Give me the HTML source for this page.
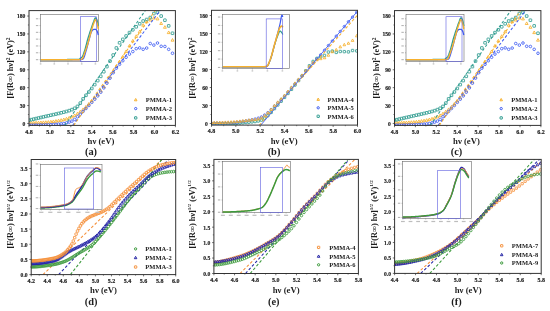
<!DOCTYPE html><html><head><meta charset="utf-8"><style>html,body{margin:0;padding:0;background:#fff;overflow:hidden}svg{display:block;will-change:transform}text{font-family:"Liberation Serif",serif;fill:#1e1e1e}</style></head><body>
<svg width="550" height="311" viewBox="0 0 550 311">
<rect width="550" height="311" fill="#fff"/>
<g>
<clipPath id="ca"><rect x="29.0" y="10.6" width="146.4" height="114.80000000000001"/></clipPath>
<g clip-path="url(#ca)">
<path d="M29.00 121.30L30.43 123.92L27.57 123.92Z" fill="none" stroke="#f7b12e" stroke-width="0.85"/>
<path d="M31.34 121.29L32.77 123.91L29.91 123.91Z" fill="none" stroke="#f7b12e" stroke-width="0.85"/>
<path d="M33.70 121.25L35.13 123.87L32.27 123.87Z" fill="none" stroke="#f7b12e" stroke-width="0.85"/>
<path d="M36.08 121.19L37.51 123.80L34.65 123.80Z" fill="none" stroke="#f7b12e" stroke-width="0.85"/>
<path d="M38.48 121.10L39.91 123.72L37.05 123.72Z" fill="none" stroke="#f7b12e" stroke-width="0.85"/>
<path d="M40.91 121.00L42.34 123.62L39.48 123.62Z" fill="none" stroke="#f7b12e" stroke-width="0.85"/>
<path d="M43.36 120.89L44.79 123.50L41.93 123.50Z" fill="none" stroke="#f7b12e" stroke-width="0.85"/>
<path d="M45.83 120.76L47.26 123.38L44.40 123.38Z" fill="none" stroke="#f7b12e" stroke-width="0.85"/>
<path d="M48.32 120.57L49.75 123.18L46.89 123.18Z" fill="none" stroke="#f7b12e" stroke-width="0.85"/>
<path d="M50.85 120.31L52.28 122.92L49.42 122.92Z" fill="none" stroke="#f7b12e" stroke-width="0.85"/>
<path d="M53.39 119.98L54.82 122.60L51.96 122.60Z" fill="none" stroke="#f7b12e" stroke-width="0.85"/>
<path d="M55.96 119.60L57.39 122.21L54.53 122.21Z" fill="none" stroke="#f7b12e" stroke-width="0.85"/>
<path d="M58.55 119.16L59.98 121.78L57.12 121.78Z" fill="none" stroke="#f7b12e" stroke-width="0.85"/>
<path d="M61.17 118.68L62.60 121.29L59.74 121.29Z" fill="none" stroke="#f7b12e" stroke-width="0.85"/>
<path d="M63.82 118.06L65.25 120.67L62.39 120.67Z" fill="none" stroke="#f7b12e" stroke-width="0.85"/>
<path d="M66.49 117.29L67.92 119.91L65.06 119.91Z" fill="none" stroke="#f7b12e" stroke-width="0.85"/>
<path d="M69.19 116.38L70.62 118.99L67.76 118.99Z" fill="none" stroke="#f7b12e" stroke-width="0.85"/>
<path d="M71.92 115.32L73.35 117.94L70.49 117.94Z" fill="none" stroke="#f7b12e" stroke-width="0.85"/>
<path d="M74.67 113.95L76.10 116.57L73.24 116.57Z" fill="none" stroke="#f7b12e" stroke-width="0.85"/>
<path d="M77.45 112.17L78.88 114.79L76.02 114.79Z" fill="none" stroke="#f7b12e" stroke-width="0.85"/>
<path d="M80.26 110.20L81.69 112.81L78.83 112.81Z" fill="none" stroke="#f7b12e" stroke-width="0.85"/>
<path d="M83.10 107.91L84.53 110.53L81.67 110.53Z" fill="none" stroke="#f7b12e" stroke-width="0.85"/>
<path d="M85.97 105.35L87.40 107.97L84.54 107.97Z" fill="none" stroke="#f7b12e" stroke-width="0.85"/>
<path d="M88.87 102.45L90.30 105.07L87.44 105.07Z" fill="none" stroke="#f7b12e" stroke-width="0.85"/>
<path d="M91.80 99.38L93.23 101.99L90.37 101.99Z" fill="none" stroke="#f7b12e" stroke-width="0.85"/>
<path d="M94.76 96.26L96.19 98.87L93.33 98.87Z" fill="none" stroke="#f7b12e" stroke-width="0.85"/>
<path d="M97.74 92.93L99.17 95.55L96.31 95.55Z" fill="none" stroke="#f7b12e" stroke-width="0.85"/>
<path d="M100.77 89.21L102.20 91.83L99.34 91.83Z" fill="none" stroke="#f7b12e" stroke-width="0.85"/>
<path d="M103.82 84.91L105.25 87.52L102.39 87.52Z" fill="none" stroke="#f7b12e" stroke-width="0.85"/>
<path d="M106.90 80.20L108.33 82.82L105.47 82.82Z" fill="none" stroke="#f7b12e" stroke-width="0.85"/>
<path d="M110.02 75.25L111.45 77.86L108.59 77.86Z" fill="none" stroke="#f7b12e" stroke-width="0.85"/>
<path d="M113.18 69.96L114.61 72.58L111.75 72.58Z" fill="none" stroke="#f7b12e" stroke-width="0.85"/>
<path d="M116.36 64.91L117.79 67.52L114.93 67.52Z" fill="none" stroke="#f7b12e" stroke-width="0.85"/>
<path d="M119.58 60.15L121.01 62.77L118.15 62.77Z" fill="none" stroke="#f7b12e" stroke-width="0.85"/>
<path d="M122.84 55.31L124.27 57.93L121.41 57.93Z" fill="none" stroke="#f7b12e" stroke-width="0.85"/>
<path d="M126.13 49.96L127.56 52.57L124.70 52.57Z" fill="none" stroke="#f7b12e" stroke-width="0.85"/>
<path d="M129.46 44.41L130.89 47.02L128.03 47.02Z" fill="none" stroke="#f7b12e" stroke-width="0.85"/>
<path d="M132.83 39.33L134.26 41.94L131.40 41.94Z" fill="none" stroke="#f7b12e" stroke-width="0.85"/>
<path d="M136.23 34.77L137.66 37.39L134.80 37.39Z" fill="none" stroke="#f7b12e" stroke-width="0.85"/>
<path d="M139.67 30.14L141.10 32.76L138.24 32.76Z" fill="none" stroke="#f7b12e" stroke-width="0.85"/>
<path d="M143.16 23.57L144.59 26.19L141.73 26.19Z" fill="none" stroke="#f7b12e" stroke-width="0.85"/>
<path d="M146.68 20.19L148.11 22.80L145.25 22.80Z" fill="none" stroke="#f7b12e" stroke-width="0.85"/>
<path d="M150.24 18.44L151.67 21.06L148.81 21.06Z" fill="none" stroke="#f7b12e" stroke-width="0.85"/>
<path d="M153.84 16.47L155.27 19.09L152.41 19.09Z" fill="none" stroke="#f7b12e" stroke-width="0.85"/>
<path d="M157.48 17.30L158.91 19.91L156.05 19.91Z" fill="none" stroke="#f7b12e" stroke-width="0.85"/>
<path d="M161.17 21.90L162.60 24.51L159.74 24.51Z" fill="none" stroke="#f7b12e" stroke-width="0.85"/>
<path d="M164.90 25.66L166.33 28.27L163.47 28.27Z" fill="none" stroke="#f7b12e" stroke-width="0.85"/>
<path d="M168.68 30.98L170.11 33.60L167.25 33.60Z" fill="none" stroke="#f7b12e" stroke-width="0.85"/>
<path d="M172.49 38.56L173.92 41.17L171.06 41.17Z" fill="none" stroke="#f7b12e" stroke-width="0.85"/>
<circle cx="29.00" cy="125.10" r="1.30" fill="none" stroke="#3f5cf2" stroke-width="0.85"/>
<circle cx="31.34" cy="125.09" r="1.30" fill="none" stroke="#3f5cf2" stroke-width="0.85"/>
<circle cx="33.70" cy="125.08" r="1.30" fill="none" stroke="#3f5cf2" stroke-width="0.85"/>
<circle cx="36.08" cy="125.05" r="1.30" fill="none" stroke="#3f5cf2" stroke-width="0.85"/>
<circle cx="38.48" cy="125.02" r="1.30" fill="none" stroke="#3f5cf2" stroke-width="0.85"/>
<circle cx="40.91" cy="124.98" r="1.30" fill="none" stroke="#3f5cf2" stroke-width="0.85"/>
<circle cx="43.36" cy="124.93" r="1.30" fill="none" stroke="#3f5cf2" stroke-width="0.85"/>
<circle cx="45.83" cy="124.88" r="1.30" fill="none" stroke="#3f5cf2" stroke-width="0.85"/>
<circle cx="48.32" cy="124.80" r="1.30" fill="none" stroke="#3f5cf2" stroke-width="0.85"/>
<circle cx="50.85" cy="124.69" r="1.30" fill="none" stroke="#3f5cf2" stroke-width="0.85"/>
<circle cx="53.39" cy="124.54" r="1.30" fill="none" stroke="#3f5cf2" stroke-width="0.85"/>
<circle cx="55.96" cy="124.36" r="1.30" fill="none" stroke="#3f5cf2" stroke-width="0.85"/>
<circle cx="58.55" cy="124.14" r="1.30" fill="none" stroke="#3f5cf2" stroke-width="0.85"/>
<circle cx="61.17" cy="123.87" r="1.30" fill="none" stroke="#3f5cf2" stroke-width="0.85"/>
<circle cx="63.82" cy="123.45" r="1.30" fill="none" stroke="#3f5cf2" stroke-width="0.85"/>
<circle cx="66.49" cy="122.87" r="1.30" fill="none" stroke="#3f5cf2" stroke-width="0.85"/>
<circle cx="69.19" cy="122.09" r="1.30" fill="none" stroke="#3f5cf2" stroke-width="0.85"/>
<circle cx="71.92" cy="121.11" r="1.30" fill="none" stroke="#3f5cf2" stroke-width="0.85"/>
<circle cx="74.67" cy="119.38" r="1.30" fill="none" stroke="#3f5cf2" stroke-width="0.85"/>
<circle cx="77.45" cy="116.78" r="1.30" fill="none" stroke="#3f5cf2" stroke-width="0.85"/>
<circle cx="80.26" cy="114.19" r="1.30" fill="none" stroke="#3f5cf2" stroke-width="0.85"/>
<circle cx="83.10" cy="111.40" r="1.30" fill="none" stroke="#3f5cf2" stroke-width="0.85"/>
<circle cx="85.97" cy="108.51" r="1.30" fill="none" stroke="#3f5cf2" stroke-width="0.85"/>
<circle cx="88.87" cy="105.49" r="1.30" fill="none" stroke="#3f5cf2" stroke-width="0.85"/>
<circle cx="91.80" cy="102.36" r="1.30" fill="none" stroke="#3f5cf2" stroke-width="0.85"/>
<circle cx="94.76" cy="99.22" r="1.30" fill="none" stroke="#3f5cf2" stroke-width="0.85"/>
<circle cx="97.74" cy="95.92" r="1.30" fill="none" stroke="#3f5cf2" stroke-width="0.85"/>
<circle cx="100.77" cy="92.21" r="1.30" fill="none" stroke="#3f5cf2" stroke-width="0.85"/>
<circle cx="103.82" cy="87.90" r="1.30" fill="none" stroke="#3f5cf2" stroke-width="0.85"/>
<circle cx="106.90" cy="83.20" r="1.30" fill="none" stroke="#3f5cf2" stroke-width="0.85"/>
<circle cx="110.02" cy="78.16" r="1.30" fill="none" stroke="#3f5cf2" stroke-width="0.85"/>
<circle cx="113.18" cy="72.76" r="1.30" fill="none" stroke="#3f5cf2" stroke-width="0.85"/>
<circle cx="116.36" cy="68.19" r="1.30" fill="none" stroke="#3f5cf2" stroke-width="0.85"/>
<circle cx="119.58" cy="64.30" r="1.30" fill="none" stroke="#3f5cf2" stroke-width="0.85"/>
<circle cx="122.84" cy="60.73" r="1.30" fill="none" stroke="#3f5cf2" stroke-width="0.85"/>
<circle cx="126.13" cy="57.27" r="1.30" fill="none" stroke="#3f5cf2" stroke-width="0.85"/>
<circle cx="129.46" cy="54.12" r="1.30" fill="none" stroke="#3f5cf2" stroke-width="0.85"/>
<circle cx="132.83" cy="51.56" r="1.30" fill="none" stroke="#3f5cf2" stroke-width="0.85"/>
<circle cx="136.23" cy="48.66" r="1.30" fill="none" stroke="#3f5cf2" stroke-width="0.85"/>
<circle cx="139.67" cy="47.90" r="1.30" fill="none" stroke="#3f5cf2" stroke-width="0.85"/>
<circle cx="143.16" cy="49.30" r="1.30" fill="none" stroke="#3f5cf2" stroke-width="0.85"/>
<circle cx="146.68" cy="48.05" r="1.30" fill="none" stroke="#3f5cf2" stroke-width="0.85"/>
<circle cx="150.24" cy="43.50" r="1.30" fill="none" stroke="#3f5cf2" stroke-width="0.85"/>
<circle cx="153.84" cy="45.11" r="1.30" fill="none" stroke="#3f5cf2" stroke-width="0.85"/>
<circle cx="157.48" cy="43.02" r="1.30" fill="none" stroke="#3f5cf2" stroke-width="0.85"/>
<circle cx="161.17" cy="46.29" r="1.30" fill="none" stroke="#3f5cf2" stroke-width="0.85"/>
<circle cx="164.90" cy="46.49" r="1.30" fill="none" stroke="#3f5cf2" stroke-width="0.85"/>
<circle cx="168.68" cy="49.33" r="1.30" fill="none" stroke="#3f5cf2" stroke-width="0.85"/>
<circle cx="172.49" cy="53.27" r="1.30" fill="none" stroke="#3f5cf2" stroke-width="0.85"/>
<rect x="27.70" y="118.90" width="2.60" height="2.60" rx="0.3" fill="none" stroke="#2f9c90" stroke-width="0.85"/>
<rect x="30.04" y="118.36" width="2.60" height="2.60" rx="0.3" fill="none" stroke="#2f9c90" stroke-width="0.85"/>
<rect x="32.40" y="117.82" width="2.60" height="2.60" rx="0.3" fill="none" stroke="#2f9c90" stroke-width="0.85"/>
<rect x="34.78" y="117.28" width="2.60" height="2.60" rx="0.3" fill="none" stroke="#2f9c90" stroke-width="0.85"/>
<rect x="37.18" y="116.72" width="2.60" height="2.60" rx="0.3" fill="none" stroke="#2f9c90" stroke-width="0.85"/>
<rect x="39.61" y="116.17" width="2.60" height="2.60" rx="0.3" fill="none" stroke="#2f9c90" stroke-width="0.85"/>
<rect x="42.06" y="115.61" width="2.60" height="2.60" rx="0.3" fill="none" stroke="#2f9c90" stroke-width="0.85"/>
<rect x="44.53" y="115.04" width="2.60" height="2.60" rx="0.3" fill="none" stroke="#2f9c90" stroke-width="0.85"/>
<rect x="47.02" y="114.47" width="2.60" height="2.60" rx="0.3" fill="none" stroke="#2f9c90" stroke-width="0.85"/>
<rect x="49.55" y="113.90" width="2.60" height="2.60" rx="0.3" fill="none" stroke="#2f9c90" stroke-width="0.85"/>
<rect x="52.09" y="113.33" width="2.60" height="2.60" rx="0.3" fill="none" stroke="#2f9c90" stroke-width="0.85"/>
<rect x="54.66" y="112.76" width="2.60" height="2.60" rx="0.3" fill="none" stroke="#2f9c90" stroke-width="0.85"/>
<rect x="57.25" y="112.16" width="2.60" height="2.60" rx="0.3" fill="none" stroke="#2f9c90" stroke-width="0.85"/>
<rect x="59.87" y="111.51" width="2.60" height="2.60" rx="0.3" fill="none" stroke="#2f9c90" stroke-width="0.85"/>
<rect x="62.52" y="110.86" width="2.60" height="2.60" rx="0.3" fill="none" stroke="#2f9c90" stroke-width="0.85"/>
<rect x="65.19" y="110.17" width="2.60" height="2.60" rx="0.3" fill="none" stroke="#2f9c90" stroke-width="0.85"/>
<rect x="67.89" y="109.35" width="2.60" height="2.60" rx="0.3" fill="none" stroke="#2f9c90" stroke-width="0.85"/>
<rect x="70.62" y="108.33" width="2.60" height="2.60" rx="0.3" fill="none" stroke="#2f9c90" stroke-width="0.85"/>
<rect x="73.37" y="106.98" width="2.60" height="2.60" rx="0.3" fill="none" stroke="#2f9c90" stroke-width="0.85"/>
<rect x="76.15" y="105.11" width="2.60" height="2.60" rx="0.3" fill="none" stroke="#2f9c90" stroke-width="0.85"/>
<rect x="78.96" y="101.86" width="2.60" height="2.60" rx="0.3" fill="none" stroke="#2f9c90" stroke-width="0.85"/>
<rect x="81.80" y="97.61" width="2.60" height="2.60" rx="0.3" fill="none" stroke="#2f9c90" stroke-width="0.85"/>
<rect x="84.67" y="94.02" width="2.60" height="2.60" rx="0.3" fill="none" stroke="#2f9c90" stroke-width="0.85"/>
<rect x="87.57" y="90.70" width="2.60" height="2.60" rx="0.3" fill="none" stroke="#2f9c90" stroke-width="0.85"/>
<rect x="90.50" y="87.14" width="2.60" height="2.60" rx="0.3" fill="none" stroke="#2f9c90" stroke-width="0.85"/>
<rect x="93.46" y="83.32" width="2.60" height="2.60" rx="0.3" fill="none" stroke="#2f9c90" stroke-width="0.85"/>
<rect x="96.44" y="79.31" width="2.60" height="2.60" rx="0.3" fill="none" stroke="#2f9c90" stroke-width="0.85"/>
<rect x="99.47" y="75.03" width="2.60" height="2.60" rx="0.3" fill="none" stroke="#2f9c90" stroke-width="0.85"/>
<rect x="102.52" y="70.41" width="2.60" height="2.60" rx="0.3" fill="none" stroke="#2f9c90" stroke-width="0.85"/>
<rect x="105.60" y="65.32" width="2.60" height="2.60" rx="0.3" fill="none" stroke="#2f9c90" stroke-width="0.85"/>
<rect x="108.72" y="59.74" width="2.60" height="2.60" rx="0.3" fill="none" stroke="#2f9c90" stroke-width="0.85"/>
<rect x="111.88" y="53.75" width="2.60" height="2.60" rx="0.3" fill="none" stroke="#2f9c90" stroke-width="0.85"/>
<rect x="115.06" y="46.66" width="2.60" height="2.60" rx="0.3" fill="none" stroke="#2f9c90" stroke-width="0.85"/>
<rect x="118.28" y="41.48" width="2.60" height="2.60" rx="0.3" fill="none" stroke="#2f9c90" stroke-width="0.85"/>
<rect x="121.54" y="38.06" width="2.60" height="2.60" rx="0.3" fill="none" stroke="#2f9c90" stroke-width="0.85"/>
<rect x="124.83" y="34.69" width="2.60" height="2.60" rx="0.3" fill="none" stroke="#2f9c90" stroke-width="0.85"/>
<rect x="128.16" y="31.34" width="2.60" height="2.60" rx="0.3" fill="none" stroke="#2f9c90" stroke-width="0.85"/>
<rect x="131.53" y="28.49" width="2.60" height="2.60" rx="0.3" fill="none" stroke="#2f9c90" stroke-width="0.85"/>
<rect x="134.93" y="25.50" width="2.60" height="2.60" rx="0.3" fill="none" stroke="#2f9c90" stroke-width="0.85"/>
<rect x="138.37" y="22.46" width="2.60" height="2.60" rx="0.3" fill="none" stroke="#2f9c90" stroke-width="0.85"/>
<rect x="141.86" y="19.73" width="2.60" height="2.60" rx="0.3" fill="none" stroke="#2f9c90" stroke-width="0.85"/>
<rect x="145.38" y="18.22" width="2.60" height="2.60" rx="0.3" fill="none" stroke="#2f9c90" stroke-width="0.85"/>
<rect x="148.94" y="16.29" width="2.60" height="2.60" rx="0.3" fill="none" stroke="#2f9c90" stroke-width="0.85"/>
<rect x="152.54" y="12.27" width="2.60" height="2.60" rx="0.3" fill="none" stroke="#2f9c90" stroke-width="0.85"/>
<rect x="156.18" y="10.93" width="2.60" height="2.60" rx="0.3" fill="none" stroke="#2f9c90" stroke-width="0.85"/>
<rect x="159.87" y="14.76" width="2.60" height="2.60" rx="0.3" fill="none" stroke="#2f9c90" stroke-width="0.85"/>
<rect x="163.60" y="18.92" width="2.60" height="2.60" rx="0.3" fill="none" stroke="#2f9c90" stroke-width="0.85"/>
<rect x="167.38" y="24.59" width="2.60" height="2.60" rx="0.3" fill="none" stroke="#2f9c90" stroke-width="0.85"/>
<rect x="171.19" y="31.96" width="2.60" height="2.60" rx="0.3" fill="none" stroke="#2f9c90" stroke-width="0.85"/>
<line x1="64.72" y1="125.40" x2="180.40" y2="-39.45" stroke="#2f9c90" stroke-width="1.05" stroke-dasharray="2.8 2"/>
<line x1="72.70" y1="125.40" x2="180.40" y2="-16.04" stroke="#3f5cf2" stroke-width="1.05" stroke-dasharray="2.8 2"/>
<line x1="73.72" y1="125.40" x2="180.40" y2="-25.13" stroke="#f7b12e" stroke-width="1.05" stroke-dasharray="2.8 2"/>
</g>
<rect x="40.5" y="14.5" width="58.0" height="47.0" fill="#fff" stroke="#6a6a6a" stroke-width="0.6"/>
<line x1="39.5" y1="59.70" x2="40.5" y2="59.70" stroke="#666" stroke-width="0.4"/>
<rect x="35.90" y="59.10" width="2.4" height="1.1" fill="#b5b5b5"/>
<line x1="39.5" y1="52.80" x2="40.5" y2="52.80" stroke="#666" stroke-width="0.4"/>
<rect x="35.90" y="52.20" width="2.4" height="1.1" fill="#b5b5b5"/>
<line x1="39.5" y1="46.00" x2="40.5" y2="46.00" stroke="#666" stroke-width="0.4"/>
<rect x="35.90" y="45.40" width="2.4" height="1.1" fill="#b5b5b5"/>
<line x1="39.5" y1="39.20" x2="40.5" y2="39.20" stroke="#666" stroke-width="0.4"/>
<rect x="35.90" y="38.60" width="2.4" height="1.1" fill="#b5b5b5"/>
<line x1="39.5" y1="32.40" x2="40.5" y2="32.40" stroke="#666" stroke-width="0.4"/>
<rect x="35.90" y="31.80" width="2.4" height="1.1" fill="#b5b5b5"/>
<line x1="39.5" y1="25.60" x2="40.5" y2="25.60" stroke="#666" stroke-width="0.4"/>
<rect x="35.90" y="25.00" width="2.4" height="1.1" fill="#b5b5b5"/>
<line x1="39.5" y1="18.80" x2="40.5" y2="18.80" stroke="#666" stroke-width="0.4"/>
<rect x="35.90" y="18.20" width="2.4" height="1.1" fill="#b5b5b5"/>
<line x1="40.60" y1="61.5" x2="40.60" y2="62.5" stroke="#666" stroke-width="0.4"/>
<rect x="39.80" y="63.30" width="1.6" height="1.2" fill="#bdbdbd"/>
<line x1="54.30" y1="61.5" x2="54.30" y2="62.5" stroke="#666" stroke-width="0.4"/>
<rect x="53.50" y="63.30" width="1.6" height="1.2" fill="#bdbdbd"/>
<line x1="68.00" y1="61.5" x2="68.00" y2="62.5" stroke="#666" stroke-width="0.4"/>
<rect x="67.20" y="63.30" width="1.6" height="1.2" fill="#bdbdbd"/>
<line x1="81.70" y1="61.5" x2="81.70" y2="62.5" stroke="#666" stroke-width="0.4"/>
<rect x="80.90" y="63.30" width="1.6" height="1.2" fill="#bdbdbd"/>
<line x1="95.40" y1="61.5" x2="95.40" y2="62.5" stroke="#666" stroke-width="0.4"/>
<rect x="94.60" y="63.30" width="1.6" height="1.2" fill="#bdbdbd"/>
<path d="M40.80 59.90L41.30 59.90L41.80 59.90L42.30 59.90L42.80 59.90L43.30 59.90L43.80 59.90L44.30 59.90L44.80 59.90L45.30 59.90L45.80 59.90L46.30 59.90L46.80 59.90L47.30 59.90L47.80 59.90L48.30 59.90L48.80 59.90L49.30 59.90L49.80 59.90L50.30 59.90L50.80 59.90L51.30 59.90L51.80 59.90L52.30 59.90L52.80 59.90L53.30 59.90L53.80 59.89L54.30 59.89L54.80 59.89L55.30 59.89L55.80 59.89L56.30 59.89L56.80 59.89L57.30 59.89L57.80 59.89L58.30 59.89L58.80 59.89L59.30 59.89L59.80 59.89L60.30 59.88L60.80 59.88L61.30 59.88L61.80 59.88L62.30 59.88L62.80 59.88L63.30 59.88L63.80 59.88L64.30 59.87L64.80 59.87L65.30 59.87L65.80 59.87L66.30 59.87L66.80 59.87L67.30 59.87L67.80 59.86L68.30 59.86L68.80 59.86L69.30 59.86L69.80 59.86L70.30 59.85L70.80 59.85L71.30 59.85L71.80 59.85L72.30 59.84L72.80 59.84L73.30 59.84L73.80 59.84L74.30 59.83L74.80 59.83L75.30 59.83L75.80 59.83L76.30 59.82L76.80 59.82L77.30 59.82L77.80 59.81L78.30 59.81L78.80 59.81L79.30 59.80L79.80 59.80L80.30 59.79L80.80 59.73L81.30 59.63L81.80 59.49L82.30 59.31L82.80 59.09L83.30 58.74L83.80 57.87L84.30 56.58L84.80 55.01L85.30 53.31L85.80 51.63L86.30 50.03L86.80 48.28L87.30 46.41L87.80 44.47L88.30 42.55L88.80 40.70L89.30 38.92L89.80 37.01L90.30 35.10L90.80 33.36L91.30 31.96L91.80 31.06L92.30 30.41L92.80 29.88L93.30 29.56L93.80 29.45L94.30 29.38L94.80 29.33L95.30 29.30L95.80 29.40L96.30 29.90L96.80 30.67L97.30 31.63L97.80 33.12L98.30 35.00" fill="none" stroke="#3f5cf2" stroke-width="1.3" stroke-linejoin="round"/>
<path d="M40.80 59.60L41.30 59.60L41.80 59.60L42.30 59.60L42.80 59.60L43.30 59.60L43.80 59.60L44.30 59.60L44.80 59.60L45.30 59.60L45.80 59.60L46.30 59.60L46.80 59.60L47.30 59.60L47.80 59.60L48.30 59.60L48.80 59.60L49.30 59.60L49.80 59.60L50.30 59.59L50.80 59.59L51.30 59.59L51.80 59.59L52.30 59.59L52.80 59.59L53.30 59.59L53.80 59.59L54.30 59.59L54.80 59.59L55.30 59.59L55.80 59.58L56.30 59.58L56.80 59.58L57.30 59.58L57.80 59.58L58.30 59.58L58.80 59.57L59.30 59.57L59.80 59.57L60.30 59.57L60.80 59.57L61.30 59.56L61.80 59.56L62.30 59.56L62.80 59.55L63.30 59.55L63.80 59.55L64.30 59.55L64.80 59.54L65.30 59.54L65.80 59.54L66.30 59.53L66.80 59.53L67.30 59.52L67.80 59.52L68.30 59.52L68.80 59.51L69.30 59.51L69.80 59.50L70.30 59.50L70.80 59.49L71.30 59.49L71.80 59.48L72.30 59.48L72.80 59.47L73.30 59.47L73.80 59.46L74.30 59.46L74.80 59.45L75.30 59.44L75.80 59.44L76.30 59.43L76.80 59.42L77.30 59.42L77.80 59.41L78.30 59.40L78.80 59.35L79.30 59.11L79.80 58.74L80.30 58.35L80.80 58.00L81.30 57.65L81.80 57.22L82.30 56.58L82.80 55.62L83.30 54.41L83.80 53.03L84.30 51.58L84.80 50.09L85.30 48.38L85.80 46.52L86.30 44.56L86.80 42.58L87.30 40.67L87.80 38.90L88.30 37.25L88.80 35.65L89.30 34.09L89.80 32.56L90.30 31.07L90.80 29.59L91.30 28.12L91.80 26.64L92.30 25.20L92.80 23.80L93.30 22.49L93.80 21.21L94.30 19.79L94.80 18.53L95.30 17.78L95.80 17.83L96.30 18.50L96.80 19.54L97.30 20.90L97.80 23.15L98.30 26.00" fill="none" stroke="#2f9c90" stroke-width="1.3" stroke-linejoin="round"/>
<path d="M40.80 59.80L41.30 59.80L41.80 59.80L42.30 59.80L42.80 59.80L43.30 59.80L43.80 59.80L44.30 59.80L44.80 59.80L45.30 59.80L45.80 59.80L46.30 59.80L46.80 59.80L47.30 59.80L47.80 59.80L48.30 59.80L48.80 59.80L49.30 59.80L49.80 59.80L50.30 59.80L50.80 59.80L51.30 59.80L51.80 59.80L52.30 59.80L52.80 59.80L53.30 59.79L53.80 59.79L54.30 59.79L54.80 59.79L55.30 59.79L55.80 59.79L56.30 59.79L56.80 59.79L57.30 59.79L57.80 59.79L58.30 59.79L58.80 59.79L59.30 59.79L59.80 59.78L60.30 59.78L60.80 59.78L61.30 59.78L61.80 59.78L62.30 59.78L62.80 59.78L63.30 59.78L63.80 59.77L64.30 59.77L64.80 59.77L65.30 59.77L65.80 59.77L66.30 59.77L66.80 59.76L67.30 59.76L67.80 59.76L68.30 59.76L68.80 59.76L69.30 59.75L69.80 59.75L70.30 59.75L70.80 59.75L71.30 59.75L71.80 59.74L72.30 59.74L72.80 59.74L73.30 59.74L73.80 59.73L74.30 59.73L74.80 59.73L75.30 59.72L75.80 59.72L76.30 59.72L76.80 59.71L77.30 59.71L77.80 59.71L78.30 59.70L78.80 59.70L79.30 59.69L79.80 59.64L80.30 59.55L80.80 59.43L81.30 59.27L81.80 59.08L82.30 58.77L82.80 58.00L83.30 56.85L83.80 55.47L84.30 53.99L84.80 52.54L85.30 51.20L85.80 49.82L86.30 48.37L86.80 46.87L87.30 45.31L87.80 43.70L88.30 41.99L88.80 40.17L89.30 38.29L89.80 36.38L90.30 34.50L90.80 32.69L91.30 30.97L91.80 29.26L92.30 27.58L92.80 25.99L93.30 24.53L93.80 23.17L94.30 21.71L94.80 20.43L95.30 19.68L95.80 19.81L96.30 20.86L96.80 22.37L97.30 24.05L97.80 26.30L98.30 29.00" fill="none" stroke="#f7b12e" stroke-width="1.4" stroke-linejoin="round"/>
<rect x="80.5" y="16.7" width="16.0" height="44.599999999999994" fill="none" stroke="#5c5ce0" stroke-width="0.6"/>
<rect x="29.0" y="10.6" width="146.4" height="114.80000000000001" fill="none" stroke="#333333" stroke-width="1.0"/>
<line x1="29.00" y1="125.4" x2="29.00" y2="127.2" stroke="#333333" stroke-width="0.7"/>
<text x="29.00" y="133.60" font-size="7.0" font-weight="bold" fill="#222" stroke="#222" stroke-width="0.2" text-anchor="middle" textLength="7.52" lengthAdjust="spacingAndGlyphs">4.8</text>
<line x1="39.46" y1="125.4" x2="39.46" y2="126.5" stroke="#333333" stroke-width="0.6"/>
<line x1="49.91" y1="125.4" x2="49.91" y2="127.2" stroke="#333333" stroke-width="0.7"/>
<text x="49.91" y="133.60" font-size="7.0" font-weight="bold" fill="#222" stroke="#222" stroke-width="0.2" text-anchor="middle" textLength="7.52" lengthAdjust="spacingAndGlyphs">5.0</text>
<line x1="60.37" y1="125.4" x2="60.37" y2="126.5" stroke="#333333" stroke-width="0.6"/>
<line x1="70.83" y1="125.4" x2="70.83" y2="127.2" stroke="#333333" stroke-width="0.7"/>
<text x="70.83" y="133.60" font-size="7.0" font-weight="bold" fill="#222" stroke="#222" stroke-width="0.2" text-anchor="middle" textLength="7.52" lengthAdjust="spacingAndGlyphs">5.2</text>
<line x1="81.29" y1="125.4" x2="81.29" y2="126.5" stroke="#333333" stroke-width="0.6"/>
<line x1="91.74" y1="125.4" x2="91.74" y2="127.2" stroke="#333333" stroke-width="0.7"/>
<text x="91.74" y="133.60" font-size="7.0" font-weight="bold" fill="#222" stroke="#222" stroke-width="0.2" text-anchor="middle" textLength="7.52" lengthAdjust="spacingAndGlyphs">5.4</text>
<line x1="102.20" y1="125.4" x2="102.20" y2="126.5" stroke="#333333" stroke-width="0.6"/>
<line x1="112.66" y1="125.4" x2="112.66" y2="127.2" stroke="#333333" stroke-width="0.7"/>
<text x="112.66" y="133.60" font-size="7.0" font-weight="bold" fill="#222" stroke="#222" stroke-width="0.2" text-anchor="middle" textLength="7.52" lengthAdjust="spacingAndGlyphs">5.6</text>
<line x1="123.11" y1="125.4" x2="123.11" y2="126.5" stroke="#333333" stroke-width="0.6"/>
<line x1="133.57" y1="125.4" x2="133.57" y2="127.2" stroke="#333333" stroke-width="0.7"/>
<text x="133.57" y="133.60" font-size="7.0" font-weight="bold" fill="#222" stroke="#222" stroke-width="0.2" text-anchor="middle" textLength="7.52" lengthAdjust="spacingAndGlyphs">5.8</text>
<line x1="144.03" y1="125.4" x2="144.03" y2="126.5" stroke="#333333" stroke-width="0.6"/>
<line x1="154.49" y1="125.4" x2="154.49" y2="127.2" stroke="#333333" stroke-width="0.7"/>
<text x="154.49" y="133.60" font-size="7.0" font-weight="bold" fill="#222" stroke="#222" stroke-width="0.2" text-anchor="middle" textLength="7.52" lengthAdjust="spacingAndGlyphs">6.0</text>
<line x1="164.94" y1="125.4" x2="164.94" y2="126.5" stroke="#333333" stroke-width="0.6"/>
<line x1="175.40" y1="125.4" x2="175.40" y2="127.2" stroke="#333333" stroke-width="0.7"/>
<text x="175.40" y="133.60" font-size="7.0" font-weight="bold" fill="#222" stroke="#222" stroke-width="0.2" text-anchor="middle" textLength="7.52" lengthAdjust="spacingAndGlyphs">6.2</text>
<line x1="27.2" y1="123.45" x2="29.0" y2="123.45" stroke="#333333" stroke-width="0.7"/>
<text x="25.40" y="125.85" font-size="7.0" font-weight="bold" fill="#222" stroke="#222" stroke-width="0.2" text-anchor="end" textLength="2.80" lengthAdjust="spacingAndGlyphs">0</text>
<line x1="27.9" y1="114.50" x2="29.0" y2="114.50" stroke="#333333" stroke-width="0.6"/>
<line x1="27.2" y1="105.55" x2="29.0" y2="105.55" stroke="#333333" stroke-width="0.7"/>
<text x="25.40" y="107.95" font-size="7.0" font-weight="bold" fill="#222" stroke="#222" stroke-width="0.2" text-anchor="end" textLength="5.60" lengthAdjust="spacingAndGlyphs">30</text>
<line x1="27.9" y1="96.60" x2="29.0" y2="96.60" stroke="#333333" stroke-width="0.6"/>
<line x1="27.2" y1="87.65" x2="29.0" y2="87.65" stroke="#333333" stroke-width="0.7"/>
<text x="25.40" y="90.05" font-size="7.0" font-weight="bold" fill="#222" stroke="#222" stroke-width="0.2" text-anchor="end" textLength="5.60" lengthAdjust="spacingAndGlyphs">60</text>
<line x1="27.9" y1="78.70" x2="29.0" y2="78.70" stroke="#333333" stroke-width="0.6"/>
<line x1="27.2" y1="69.75" x2="29.0" y2="69.75" stroke="#333333" stroke-width="0.7"/>
<text x="25.40" y="72.15" font-size="7.0" font-weight="bold" fill="#222" stroke="#222" stroke-width="0.2" text-anchor="end" textLength="5.60" lengthAdjust="spacingAndGlyphs">90</text>
<line x1="27.9" y1="60.80" x2="29.0" y2="60.80" stroke="#333333" stroke-width="0.6"/>
<line x1="27.2" y1="51.85" x2="29.0" y2="51.85" stroke="#333333" stroke-width="0.7"/>
<text x="25.40" y="54.25" font-size="7.0" font-weight="bold" fill="#222" stroke="#222" stroke-width="0.2" text-anchor="end" textLength="8.40" lengthAdjust="spacingAndGlyphs">120</text>
<line x1="27.9" y1="42.90" x2="29.0" y2="42.90" stroke="#333333" stroke-width="0.6"/>
<line x1="27.2" y1="33.95" x2="29.0" y2="33.95" stroke="#333333" stroke-width="0.7"/>
<text x="25.40" y="36.35" font-size="7.0" font-weight="bold" fill="#222" stroke="#222" stroke-width="0.2" text-anchor="end" textLength="8.40" lengthAdjust="spacingAndGlyphs">150</text>
<line x1="27.9" y1="24.99" x2="29.0" y2="24.99" stroke="#333333" stroke-width="0.6"/>
<line x1="27.2" y1="16.04" x2="29.0" y2="16.04" stroke="#333333" stroke-width="0.7"/>
<text x="25.40" y="18.44" font-size="7.0" font-weight="bold" fill="#222" stroke="#222" stroke-width="0.2" text-anchor="end" textLength="8.40" lengthAdjust="spacingAndGlyphs">180</text>
<text x="101" y="143.6" font-size="8.7" font-weight="bold" text-anchor="middle">hν (eV)</text>
<text x="91" y="155.3" font-size="10.4" font-weight="bold" fill="#222" text-anchor="middle">(a)</text>
<text transform="translate(13,68) rotate(-90)" font-size="8.3" font-weight="bold" text-anchor="middle">[F(R∞) hν]<tspan font-size="5.5" dy="-3">2</tspan><tspan dy="3"> (eV)</tspan><tspan font-size="5.5" dy="-3">2</tspan></text>
<path d="M135.70 98.48L136.96 100.79L134.44 100.79Z" fill="none" stroke="#f7b12e" stroke-width="1.0"/>
<text x="145.7" y="102.00" font-size="6.5" font-weight="bold" fill="#222">PMMA-1</text>
<circle cx="135.70" cy="108.60" r="1.15" fill="none" stroke="#3f5cf2" stroke-width="1.0"/>
<text x="145.7" y="110.80" font-size="6.5" font-weight="bold" fill="#222">PMMA-2</text>
<rect x="134.55" y="116.75" width="2.30" height="2.30" rx="0.3" fill="none" stroke="#2f9c90" stroke-width="1.0"/>
<text x="145.7" y="120.10" font-size="6.5" font-weight="bold" fill="#222">PMMA-3</text>
</g>
<g>
<clipPath id="cb"><rect x="211.5" y="10.3" width="146.0" height="114.8"/></clipPath>
<g clip-path="url(#cb)">
<rect x="210.30" y="122.80" width="2.40" height="2.40" rx="0.3" fill="none" stroke="#2f9c90" stroke-width="0.85"/>
<rect x="213.02" y="122.79" width="2.40" height="2.40" rx="0.3" fill="none" stroke="#2f9c90" stroke-width="0.85"/>
<rect x="215.76" y="122.75" width="2.40" height="2.40" rx="0.3" fill="none" stroke="#2f9c90" stroke-width="0.85"/>
<rect x="218.53" y="122.70" width="2.40" height="2.40" rx="0.3" fill="none" stroke="#2f9c90" stroke-width="0.85"/>
<rect x="221.33" y="122.63" width="2.40" height="2.40" rx="0.3" fill="none" stroke="#2f9c90" stroke-width="0.85"/>
<rect x="224.15" y="122.55" width="2.40" height="2.40" rx="0.3" fill="none" stroke="#2f9c90" stroke-width="0.85"/>
<rect x="227.00" y="122.46" width="2.40" height="2.40" rx="0.3" fill="none" stroke="#2f9c90" stroke-width="0.85"/>
<rect x="229.88" y="122.36" width="2.40" height="2.40" rx="0.3" fill="none" stroke="#2f9c90" stroke-width="0.85"/>
<rect x="232.78" y="122.22" width="2.40" height="2.40" rx="0.3" fill="none" stroke="#2f9c90" stroke-width="0.85"/>
<rect x="235.72" y="122.04" width="2.40" height="2.40" rx="0.3" fill="none" stroke="#2f9c90" stroke-width="0.85"/>
<rect x="238.68" y="121.83" width="2.40" height="2.40" rx="0.3" fill="none" stroke="#2f9c90" stroke-width="0.85"/>
<rect x="241.67" y="121.58" width="2.40" height="2.40" rx="0.3" fill="none" stroke="#2f9c90" stroke-width="0.85"/>
<rect x="244.69" y="121.30" width="2.40" height="2.40" rx="0.3" fill="none" stroke="#2f9c90" stroke-width="0.85"/>
<rect x="247.73" y="121.01" width="2.40" height="2.40" rx="0.3" fill="none" stroke="#2f9c90" stroke-width="0.85"/>
<rect x="250.81" y="120.70" width="2.40" height="2.40" rx="0.3" fill="none" stroke="#2f9c90" stroke-width="0.85"/>
<rect x="253.92" y="120.32" width="2.40" height="2.40" rx="0.3" fill="none" stroke="#2f9c90" stroke-width="0.85"/>
<rect x="257.06" y="119.78" width="2.40" height="2.40" rx="0.3" fill="none" stroke="#2f9c90" stroke-width="0.85"/>
<rect x="260.24" y="118.90" width="2.40" height="2.40" rx="0.3" fill="none" stroke="#2f9c90" stroke-width="0.85"/>
<rect x="263.44" y="116.95" width="2.40" height="2.40" rx="0.3" fill="none" stroke="#2f9c90" stroke-width="0.85"/>
<rect x="266.68" y="114.40" width="2.40" height="2.40" rx="0.3" fill="none" stroke="#2f9c90" stroke-width="0.85"/>
<rect x="269.95" y="111.20" width="2.40" height="2.40" rx="0.3" fill="none" stroke="#2f9c90" stroke-width="0.85"/>
<rect x="273.25" y="107.41" width="2.40" height="2.40" rx="0.3" fill="none" stroke="#2f9c90" stroke-width="0.85"/>
<rect x="276.59" y="103.75" width="2.40" height="2.40" rx="0.3" fill="none" stroke="#2f9c90" stroke-width="0.85"/>
<rect x="279.96" y="100.01" width="2.40" height="2.40" rx="0.3" fill="none" stroke="#2f9c90" stroke-width="0.85"/>
<rect x="283.36" y="96.16" width="2.40" height="2.40" rx="0.3" fill="none" stroke="#2f9c90" stroke-width="0.85"/>
<rect x="286.81" y="92.21" width="2.40" height="2.40" rx="0.3" fill="none" stroke="#2f9c90" stroke-width="0.85"/>
<rect x="290.28" y="88.13" width="2.40" height="2.40" rx="0.3" fill="none" stroke="#2f9c90" stroke-width="0.85"/>
<rect x="293.80" y="83.83" width="2.40" height="2.40" rx="0.3" fill="none" stroke="#2f9c90" stroke-width="0.85"/>
<rect x="297.35" y="79.31" width="2.40" height="2.40" rx="0.3" fill="none" stroke="#2f9c90" stroke-width="0.85"/>
<rect x="300.94" y="74.61" width="2.40" height="2.40" rx="0.3" fill="none" stroke="#2f9c90" stroke-width="0.85"/>
<rect x="304.57" y="69.53" width="2.40" height="2.40" rx="0.3" fill="none" stroke="#2f9c90" stroke-width="0.85"/>
<rect x="308.24" y="64.55" width="2.40" height="2.40" rx="0.3" fill="none" stroke="#2f9c90" stroke-width="0.85"/>
<rect x="311.94" y="60.28" width="2.40" height="2.40" rx="0.3" fill="none" stroke="#2f9c90" stroke-width="0.85"/>
<rect x="315.69" y="57.20" width="2.40" height="2.40" rx="0.3" fill="none" stroke="#2f9c90" stroke-width="0.85"/>
<rect x="319.48" y="55.68" width="2.40" height="2.40" rx="0.3" fill="none" stroke="#2f9c90" stroke-width="0.85"/>
<rect x="323.31" y="54.18" width="2.40" height="2.40" rx="0.3" fill="none" stroke="#2f9c90" stroke-width="0.85"/>
<rect x="327.19" y="50.87" width="2.40" height="2.40" rx="0.3" fill="none" stroke="#2f9c90" stroke-width="0.85"/>
<rect x="331.10" y="49.90" width="2.40" height="2.40" rx="0.3" fill="none" stroke="#2f9c90" stroke-width="0.85"/>
<rect x="335.06" y="51.20" width="2.40" height="2.40" rx="0.3" fill="none" stroke="#2f9c90" stroke-width="0.85"/>
<rect x="339.07" y="50.30" width="2.40" height="2.40" rx="0.3" fill="none" stroke="#2f9c90" stroke-width="0.85"/>
<rect x="343.12" y="50.43" width="2.40" height="2.40" rx="0.3" fill="none" stroke="#2f9c90" stroke-width="0.85"/>
<rect x="347.21" y="50.69" width="2.40" height="2.40" rx="0.3" fill="none" stroke="#2f9c90" stroke-width="0.85"/>
<rect x="351.36" y="49.32" width="2.40" height="2.40" rx="0.3" fill="none" stroke="#2f9c90" stroke-width="0.85"/>
<rect x="355.55" y="49.70" width="2.40" height="2.40" rx="0.3" fill="none" stroke="#2f9c90" stroke-width="0.85"/>
<circle cx="211.50" cy="123.20" r="1.20" fill="none" stroke="#3f5cf2" stroke-width="0.85"/>
<circle cx="214.22" cy="123.19" r="1.20" fill="none" stroke="#3f5cf2" stroke-width="0.85"/>
<circle cx="216.96" cy="123.16" r="1.20" fill="none" stroke="#3f5cf2" stroke-width="0.85"/>
<circle cx="219.73" cy="123.11" r="1.20" fill="none" stroke="#3f5cf2" stroke-width="0.85"/>
<circle cx="222.53" cy="123.04" r="1.20" fill="none" stroke="#3f5cf2" stroke-width="0.85"/>
<circle cx="225.35" cy="122.96" r="1.20" fill="none" stroke="#3f5cf2" stroke-width="0.85"/>
<circle cx="228.20" cy="122.86" r="1.20" fill="none" stroke="#3f5cf2" stroke-width="0.85"/>
<circle cx="231.08" cy="122.75" r="1.20" fill="none" stroke="#3f5cf2" stroke-width="0.85"/>
<circle cx="233.98" cy="122.54" r="1.20" fill="none" stroke="#3f5cf2" stroke-width="0.85"/>
<circle cx="236.92" cy="122.23" r="1.20" fill="none" stroke="#3f5cf2" stroke-width="0.85"/>
<circle cx="239.88" cy="121.83" r="1.20" fill="none" stroke="#3f5cf2" stroke-width="0.85"/>
<circle cx="242.87" cy="121.37" r="1.20" fill="none" stroke="#3f5cf2" stroke-width="0.85"/>
<circle cx="245.89" cy="120.86" r="1.20" fill="none" stroke="#3f5cf2" stroke-width="0.85"/>
<circle cx="248.93" cy="120.34" r="1.20" fill="none" stroke="#3f5cf2" stroke-width="0.85"/>
<circle cx="252.01" cy="119.74" r="1.20" fill="none" stroke="#3f5cf2" stroke-width="0.85"/>
<circle cx="255.12" cy="119.01" r="1.20" fill="none" stroke="#3f5cf2" stroke-width="0.85"/>
<circle cx="258.26" cy="118.10" r="1.20" fill="none" stroke="#3f5cf2" stroke-width="0.85"/>
<circle cx="261.44" cy="116.88" r="1.20" fill="none" stroke="#3f5cf2" stroke-width="0.85"/>
<circle cx="264.64" cy="114.98" r="1.20" fill="none" stroke="#3f5cf2" stroke-width="0.85"/>
<circle cx="267.88" cy="112.60" r="1.20" fill="none" stroke="#3f5cf2" stroke-width="0.85"/>
<circle cx="271.15" cy="109.57" r="1.20" fill="none" stroke="#3f5cf2" stroke-width="0.85"/>
<circle cx="274.45" cy="106.06" r="1.20" fill="none" stroke="#3f5cf2" stroke-width="0.85"/>
<circle cx="277.79" cy="102.76" r="1.20" fill="none" stroke="#3f5cf2" stroke-width="0.85"/>
<circle cx="281.16" cy="99.45" r="1.20" fill="none" stroke="#3f5cf2" stroke-width="0.85"/>
<circle cx="284.56" cy="95.89" r="1.20" fill="none" stroke="#3f5cf2" stroke-width="0.85"/>
<circle cx="288.01" cy="91.91" r="1.20" fill="none" stroke="#3f5cf2" stroke-width="0.85"/>
<circle cx="291.48" cy="87.76" r="1.20" fill="none" stroke="#3f5cf2" stroke-width="0.85"/>
<circle cx="295.00" cy="83.76" r="1.20" fill="none" stroke="#3f5cf2" stroke-width="0.85"/>
<circle cx="298.55" cy="79.86" r="1.20" fill="none" stroke="#3f5cf2" stroke-width="0.85"/>
<circle cx="302.14" cy="75.84" r="1.20" fill="none" stroke="#3f5cf2" stroke-width="0.85"/>
<circle cx="305.77" cy="71.51" r="1.20" fill="none" stroke="#3f5cf2" stroke-width="0.85"/>
<circle cx="309.44" cy="67.27" r="1.20" fill="none" stroke="#3f5cf2" stroke-width="0.85"/>
<circle cx="313.14" cy="63.20" r="1.20" fill="none" stroke="#3f5cf2" stroke-width="0.85"/>
<circle cx="316.89" cy="59.07" r="1.20" fill="none" stroke="#3f5cf2" stroke-width="0.85"/>
<circle cx="320.68" cy="54.85" r="1.20" fill="none" stroke="#3f5cf2" stroke-width="0.85"/>
<circle cx="324.51" cy="50.24" r="1.20" fill="none" stroke="#3f5cf2" stroke-width="0.85"/>
<circle cx="328.39" cy="45.57" r="1.20" fill="none" stroke="#3f5cf2" stroke-width="0.85"/>
<circle cx="332.30" cy="41.00" r="1.20" fill="none" stroke="#3f5cf2" stroke-width="0.85"/>
<circle cx="336.26" cy="36.11" r="1.20" fill="none" stroke="#3f5cf2" stroke-width="0.85"/>
<circle cx="340.27" cy="31.43" r="1.20" fill="none" stroke="#3f5cf2" stroke-width="0.85"/>
<circle cx="344.32" cy="26.53" r="1.20" fill="none" stroke="#3f5cf2" stroke-width="0.85"/>
<circle cx="348.41" cy="21.77" r="1.20" fill="none" stroke="#3f5cf2" stroke-width="0.85"/>
<circle cx="352.56" cy="17.16" r="1.20" fill="none" stroke="#3f5cf2" stroke-width="0.85"/>
<circle cx="356.75" cy="12.17" r="1.20" fill="none" stroke="#3f5cf2" stroke-width="0.85"/>
<path d="M211.50 121.22L212.82 123.63L210.18 123.63Z" fill="none" stroke="#f7b12e" stroke-width="0.85"/>
<path d="M214.22 121.21L215.54 123.62L212.90 123.62Z" fill="none" stroke="#f7b12e" stroke-width="0.85"/>
<path d="M216.96 121.16L218.28 123.58L215.64 123.58Z" fill="none" stroke="#f7b12e" stroke-width="0.85"/>
<path d="M219.73 121.10L221.05 123.51L218.41 123.51Z" fill="none" stroke="#f7b12e" stroke-width="0.85"/>
<path d="M222.53 121.01L223.85 123.43L221.21 123.43Z" fill="none" stroke="#f7b12e" stroke-width="0.85"/>
<path d="M225.35 120.91L226.67 123.32L224.03 123.32Z" fill="none" stroke="#f7b12e" stroke-width="0.85"/>
<path d="M228.20 120.80L229.52 123.21L226.88 123.21Z" fill="none" stroke="#f7b12e" stroke-width="0.85"/>
<path d="M231.08 120.67L232.40 123.08L229.76 123.08Z" fill="none" stroke="#f7b12e" stroke-width="0.85"/>
<path d="M233.98 120.47L235.30 122.89L232.66 122.89Z" fill="none" stroke="#f7b12e" stroke-width="0.85"/>
<path d="M236.92 120.21L238.24 122.62L235.60 122.62Z" fill="none" stroke="#f7b12e" stroke-width="0.85"/>
<path d="M239.88 119.89L241.20 122.31L238.56 122.31Z" fill="none" stroke="#f7b12e" stroke-width="0.85"/>
<path d="M242.87 119.54L244.19 121.96L241.55 121.96Z" fill="none" stroke="#f7b12e" stroke-width="0.85"/>
<path d="M245.89 119.17L247.21 121.59L244.57 121.59Z" fill="none" stroke="#f7b12e" stroke-width="0.85"/>
<path d="M248.93 118.81L250.25 121.23L247.61 121.23Z" fill="none" stroke="#f7b12e" stroke-width="0.85"/>
<path d="M252.01 118.49L253.33 120.90L250.69 120.90Z" fill="none" stroke="#f7b12e" stroke-width="0.85"/>
<path d="M255.12 118.12L256.44 120.54L253.80 120.54Z" fill="none" stroke="#f7b12e" stroke-width="0.85"/>
<path d="M258.26 117.61L259.58 120.02L256.94 120.02Z" fill="none" stroke="#f7b12e" stroke-width="0.85"/>
<path d="M261.44 116.67L262.76 119.09L260.12 119.09Z" fill="none" stroke="#f7b12e" stroke-width="0.85"/>
<path d="M264.64 114.42L265.96 116.84L263.32 116.84Z" fill="none" stroke="#f7b12e" stroke-width="0.85"/>
<path d="M267.88 111.53L269.20 113.94L266.56 113.94Z" fill="none" stroke="#f7b12e" stroke-width="0.85"/>
<path d="M271.15 108.09L272.47 110.51L269.83 110.51Z" fill="none" stroke="#f7b12e" stroke-width="0.85"/>
<path d="M274.45 104.22L275.77 106.63L273.13 106.63Z" fill="none" stroke="#f7b12e" stroke-width="0.85"/>
<path d="M277.79 100.81L279.11 103.22L276.47 103.22Z" fill="none" stroke="#f7b12e" stroke-width="0.85"/>
<path d="M281.16 97.53L282.48 99.95L279.84 99.95Z" fill="none" stroke="#f7b12e" stroke-width="0.85"/>
<path d="M284.56 94.01L285.88 96.42L283.24 96.42Z" fill="none" stroke="#f7b12e" stroke-width="0.85"/>
<path d="M288.01 90.04L289.33 92.45L286.69 92.45Z" fill="none" stroke="#f7b12e" stroke-width="0.85"/>
<path d="M291.48 85.88L292.80 88.30L290.16 88.30Z" fill="none" stroke="#f7b12e" stroke-width="0.85"/>
<path d="M295.00 81.86L296.32 84.27L293.68 84.27Z" fill="none" stroke="#f7b12e" stroke-width="0.85"/>
<path d="M298.55 77.91L299.87 80.32L297.23 80.32Z" fill="none" stroke="#f7b12e" stroke-width="0.85"/>
<path d="M302.14 73.86L303.46 76.27L300.82 76.27Z" fill="none" stroke="#f7b12e" stroke-width="0.85"/>
<path d="M305.77 69.40L307.09 71.81L304.45 71.81Z" fill="none" stroke="#f7b12e" stroke-width="0.85"/>
<path d="M309.44 64.95L310.76 67.36L308.12 67.36Z" fill="none" stroke="#f7b12e" stroke-width="0.85"/>
<path d="M313.14 61.28L314.46 63.70L311.82 63.70Z" fill="none" stroke="#f7b12e" stroke-width="0.85"/>
<path d="M316.89 58.40L318.21 60.81L315.57 60.81Z" fill="none" stroke="#f7b12e" stroke-width="0.85"/>
<path d="M320.68 57.25L322.00 59.66L319.36 59.66Z" fill="none" stroke="#f7b12e" stroke-width="0.85"/>
<path d="M324.51 56.37L325.83 58.78L323.19 58.78Z" fill="none" stroke="#f7b12e" stroke-width="0.85"/>
<path d="M328.39 53.79L329.71 56.21L327.07 56.21Z" fill="none" stroke="#f7b12e" stroke-width="0.85"/>
<path d="M332.30 50.32L333.62 52.73L330.98 52.73Z" fill="none" stroke="#f7b12e" stroke-width="0.85"/>
<path d="M336.26 48.35L337.58 50.77L334.94 50.77Z" fill="none" stroke="#f7b12e" stroke-width="0.85"/>
<path d="M340.27 45.45L341.59 47.87L338.95 47.87Z" fill="none" stroke="#f7b12e" stroke-width="0.85"/>
<path d="M344.32 43.34L345.64 45.76L343.00 45.76Z" fill="none" stroke="#f7b12e" stroke-width="0.85"/>
<path d="M348.41 41.86L349.73 44.28L347.09 44.28Z" fill="none" stroke="#f7b12e" stroke-width="0.85"/>
<path d="M352.56 38.97L353.88 41.38L351.24 41.38Z" fill="none" stroke="#f7b12e" stroke-width="0.85"/>
<path d="M356.75 34.42L358.07 36.83L355.43 36.83Z" fill="none" stroke="#f7b12e" stroke-width="0.85"/>
<line x1="259.41" y1="125.10" x2="362.50" y2="9.63" stroke="#f7b12e" stroke-width="1.05" stroke-dasharray="2.8 2"/>
<line x1="260.82" y1="125.10" x2="362.50" y2="5.28" stroke="#3f5cf2" stroke-width="0.9"/>
</g>
<rect x="222.5" y="14.5" width="67.0" height="54.0" fill="#fff" stroke="#6a6a6a" stroke-width="0.6"/>
<line x1="221.5" y1="67.50" x2="222.5" y2="67.50" stroke="#666" stroke-width="0.4"/>
<rect x="217.90" y="66.90" width="2.4" height="1.1" fill="#b5b5b5"/>
<line x1="221.5" y1="59.10" x2="222.5" y2="59.10" stroke="#666" stroke-width="0.4"/>
<rect x="217.90" y="58.50" width="2.4" height="1.1" fill="#b5b5b5"/>
<line x1="221.5" y1="50.70" x2="222.5" y2="50.70" stroke="#666" stroke-width="0.4"/>
<rect x="217.90" y="50.10" width="2.4" height="1.1" fill="#b5b5b5"/>
<line x1="221.5" y1="42.30" x2="222.5" y2="42.30" stroke="#666" stroke-width="0.4"/>
<rect x="217.90" y="41.70" width="2.4" height="1.1" fill="#b5b5b5"/>
<line x1="221.5" y1="33.90" x2="222.5" y2="33.90" stroke="#666" stroke-width="0.4"/>
<rect x="217.90" y="33.30" width="2.4" height="1.1" fill="#b5b5b5"/>
<line x1="221.5" y1="25.50" x2="222.5" y2="25.50" stroke="#666" stroke-width="0.4"/>
<rect x="217.90" y="24.90" width="2.4" height="1.1" fill="#b5b5b5"/>
<line x1="221.5" y1="17.10" x2="222.5" y2="17.10" stroke="#666" stroke-width="0.4"/>
<rect x="217.90" y="16.50" width="2.4" height="1.1" fill="#b5b5b5"/>
<line x1="222.40" y1="68.5" x2="222.40" y2="69.5" stroke="#666" stroke-width="0.4"/>
<rect x="221.60" y="70.30" width="1.6" height="1.2" fill="#bdbdbd"/>
<line x1="237.40" y1="68.5" x2="237.40" y2="69.5" stroke="#666" stroke-width="0.4"/>
<rect x="236.60" y="70.30" width="1.6" height="1.2" fill="#bdbdbd"/>
<line x1="252.40" y1="68.5" x2="252.40" y2="69.5" stroke="#666" stroke-width="0.4"/>
<rect x="251.60" y="70.30" width="1.6" height="1.2" fill="#bdbdbd"/>
<line x1="267.40" y1="68.5" x2="267.40" y2="69.5" stroke="#666" stroke-width="0.4"/>
<rect x="266.60" y="70.30" width="1.6" height="1.2" fill="#bdbdbd"/>
<line x1="282.40" y1="68.5" x2="282.40" y2="69.5" stroke="#666" stroke-width="0.4"/>
<rect x="281.60" y="70.30" width="1.6" height="1.2" fill="#bdbdbd"/>
<path d="M222.80 66.90L223.30 66.90L223.80 66.90L224.30 66.90L224.80 66.90L225.30 66.90L225.80 66.90L226.30 66.90L226.80 66.90L227.30 66.90L227.80 66.90L228.30 66.90L228.80 66.90L229.30 66.90L229.80 66.90L230.30 66.90L230.80 66.90L231.30 66.90L231.80 66.90L232.30 66.90L232.80 66.90L233.30 66.90L233.80 66.90L234.30 66.90L234.80 66.90L235.30 66.90L235.80 66.90L236.30 66.89L236.80 66.89L237.30 66.89L237.80 66.89L238.30 66.89L238.80 66.89L239.30 66.89L239.80 66.89L240.30 66.89L240.80 66.89L241.30 66.89L241.80 66.89L242.30 66.89L242.80 66.89L243.30 66.88L243.80 66.88L244.30 66.88L244.80 66.88L245.30 66.88L245.80 66.88L246.30 66.88L246.80 66.88L247.30 66.88L247.80 66.87L248.30 66.87L248.80 66.87L249.30 66.87L249.80 66.87L250.30 66.87L250.80 66.86L251.30 66.86L251.80 66.86L252.30 66.86L252.80 66.86L253.30 66.86L253.80 66.85L254.30 66.85L254.80 66.85L255.30 66.85L255.80 66.85L256.30 66.84L256.80 66.84L257.30 66.84L257.80 66.84L258.30 66.83L258.80 66.83L259.30 66.83L259.80 66.83L260.30 66.82L260.80 66.82L261.30 66.82L261.80 66.81L262.30 66.81L262.80 66.81L263.30 66.80L263.80 66.80L264.30 66.79L264.80 66.75L265.30 66.67L265.80 66.57L266.30 66.43L266.80 66.27L267.30 66.02L267.80 65.42L268.30 64.53L268.80 63.43L269.30 62.22L269.80 60.98L270.30 59.74L270.80 58.32L271.30 56.72L271.80 54.99L272.30 53.17L272.80 51.30L273.30 49.42L273.80 47.57L274.30 45.79L274.80 44.13L275.30 42.58L275.80 41.05L276.30 39.55L276.80 38.11L277.30 36.74L277.80 35.47L278.30 34.25L278.80 32.92L279.30 31.76L279.80 31.07L280.30 31.07L280.80 31.44L281.30 32.03L281.80 32.72L282.30 33.49L282.80 34.54" fill="none" stroke="#2f9c90" stroke-width="1.2" stroke-linejoin="round"/>
<path d="M222.80 67.00L223.30 67.00L223.80 67.00L224.30 67.00L224.80 67.00L225.30 67.00L225.80 67.00L226.30 67.00L226.80 67.00L227.30 67.00L227.80 67.00L228.30 67.00L228.80 67.00L229.30 67.00L229.80 67.00L230.30 67.00L230.80 67.00L231.30 67.00L231.80 67.00L232.30 67.00L232.80 67.00L233.30 67.00L233.80 67.00L234.30 67.00L234.80 67.00L235.30 67.00L235.80 67.00L236.30 66.99L236.80 66.99L237.30 66.99L237.80 66.99L238.30 66.99L238.80 66.99L239.30 66.99L239.80 66.99L240.30 66.99L240.80 66.99L241.30 66.99L241.80 66.99L242.30 66.99L242.80 66.99L243.30 66.98L243.80 66.98L244.30 66.98L244.80 66.98L245.30 66.98L245.80 66.98L246.30 66.98L246.80 66.98L247.30 66.98L247.80 66.97L248.30 66.97L248.80 66.97L249.30 66.97L249.80 66.97L250.30 66.97L250.80 66.96L251.30 66.96L251.80 66.96L252.30 66.96L252.80 66.96L253.30 66.96L253.80 66.95L254.30 66.95L254.80 66.95L255.30 66.95L255.80 66.95L256.30 66.94L256.80 66.94L257.30 66.94L257.80 66.94L258.30 66.93L258.80 66.93L259.30 66.93L259.80 66.93L260.30 66.92L260.80 66.92L261.30 66.92L261.80 66.91L262.30 66.91L262.80 66.91L263.30 66.90L263.80 66.90L264.30 66.89L264.80 66.86L265.30 66.80L265.80 66.71L266.30 66.59L266.80 66.46L267.30 66.23L267.80 65.62L268.30 64.69L268.80 63.55L269.30 62.29L269.80 61.00L270.30 59.73L270.80 58.30L271.30 56.71L271.80 55.00L272.30 53.20L272.80 51.32L273.30 49.41L273.80 47.49L274.30 45.58L274.80 43.72L275.30 41.92L275.80 40.13L276.30 38.32L276.80 36.50L277.30 34.65L277.80 32.76L278.30 30.84L278.80 28.89L279.30 26.90L279.80 24.84L280.30 22.54L280.80 19.61L281.30 16.86L281.80 15.18L282.30 15.30L282.80 16.98" fill="none" stroke="#3f5cf2" stroke-width="1.2" stroke-linejoin="round"/>
<path d="M222.80 66.80L223.30 66.80L223.80 66.80L224.30 66.80L224.80 66.80L225.30 66.80L225.80 66.80L226.30 66.80L226.80 66.80L227.30 66.80L227.80 66.80L228.30 66.80L228.80 66.80L229.30 66.80L229.80 66.80L230.30 66.80L230.80 66.80L231.30 66.80L231.80 66.80L232.30 66.80L232.80 66.80L233.30 66.80L233.80 66.80L234.30 66.80L234.80 66.80L235.30 66.80L235.80 66.80L236.30 66.79L236.80 66.79L237.30 66.79L237.80 66.79L238.30 66.79L238.80 66.79L239.30 66.79L239.80 66.79L240.30 66.79L240.80 66.79L241.30 66.79L241.80 66.79L242.30 66.79L242.80 66.79L243.30 66.78L243.80 66.78L244.30 66.78L244.80 66.78L245.30 66.78L245.80 66.78L246.30 66.78L246.80 66.78L247.30 66.78L247.80 66.77L248.30 66.77L248.80 66.77L249.30 66.77L249.80 66.77L250.30 66.77L250.80 66.76L251.30 66.76L251.80 66.76L252.30 66.76L252.80 66.76L253.30 66.76L253.80 66.75L254.30 66.75L254.80 66.75L255.30 66.75L255.80 66.75L256.30 66.74L256.80 66.74L257.30 66.74L257.80 66.74L258.30 66.73L258.80 66.73L259.30 66.73L259.80 66.73L260.30 66.72L260.80 66.72L261.30 66.72L261.80 66.71L262.30 66.71L262.80 66.71L263.30 66.70L263.80 66.70L264.30 66.69L264.80 66.65L265.30 66.57L265.80 66.47L266.30 66.33L266.80 66.17L267.30 65.92L267.80 65.31L268.30 64.40L268.80 63.29L269.30 62.05L269.80 60.79L270.30 59.53L270.80 58.10L271.30 56.50L271.80 54.77L272.30 52.94L272.80 51.06L273.30 49.14L273.80 47.24L274.30 45.37L274.80 43.59L275.30 41.88L275.80 40.18L276.30 38.48L276.80 36.81L277.30 35.18L277.80 33.61L278.30 32.05L278.80 30.38L279.30 28.83L279.80 27.68L280.30 27.07L280.80 26.58L281.30 26.22L281.80 26.02L282.30 26.25L282.80 27.42" fill="none" stroke="#f7b12e" stroke-width="1.6" stroke-linejoin="round"/>
<rect x="266.2" y="18.9" width="16.19999999999999" height="49.6" fill="none" stroke="#5c5ce0" stroke-width="0.6"/>
<rect x="211.5" y="10.3" width="146.0" height="114.8" fill="none" stroke="#333333" stroke-width="1.0"/>
<line x1="211.50" y1="125.1" x2="211.50" y2="126.89999999999999" stroke="#333333" stroke-width="0.7"/>
<text x="211.50" y="133.30" font-size="7.0" font-weight="bold" fill="#222" stroke="#222" stroke-width="0.2" text-anchor="middle" textLength="7.52" lengthAdjust="spacingAndGlyphs">4.8</text>
<line x1="223.67" y1="125.1" x2="223.67" y2="126.19999999999999" stroke="#333333" stroke-width="0.6"/>
<line x1="235.83" y1="125.1" x2="235.83" y2="126.89999999999999" stroke="#333333" stroke-width="0.7"/>
<text x="235.83" y="133.30" font-size="7.0" font-weight="bold" fill="#222" stroke="#222" stroke-width="0.2" text-anchor="middle" textLength="7.52" lengthAdjust="spacingAndGlyphs">5.0</text>
<line x1="248.00" y1="125.1" x2="248.00" y2="126.19999999999999" stroke="#333333" stroke-width="0.6"/>
<line x1="260.17" y1="125.1" x2="260.17" y2="126.89999999999999" stroke="#333333" stroke-width="0.7"/>
<text x="260.17" y="133.30" font-size="7.0" font-weight="bold" fill="#222" stroke="#222" stroke-width="0.2" text-anchor="middle" textLength="7.52" lengthAdjust="spacingAndGlyphs">5.2</text>
<line x1="272.33" y1="125.1" x2="272.33" y2="126.19999999999999" stroke="#333333" stroke-width="0.6"/>
<line x1="284.50" y1="125.1" x2="284.50" y2="126.89999999999999" stroke="#333333" stroke-width="0.7"/>
<text x="284.50" y="133.30" font-size="7.0" font-weight="bold" fill="#222" stroke="#222" stroke-width="0.2" text-anchor="middle" textLength="7.52" lengthAdjust="spacingAndGlyphs">5.4</text>
<line x1="296.67" y1="125.1" x2="296.67" y2="126.19999999999999" stroke="#333333" stroke-width="0.6"/>
<line x1="308.83" y1="125.1" x2="308.83" y2="126.89999999999999" stroke="#333333" stroke-width="0.7"/>
<text x="308.83" y="133.30" font-size="7.0" font-weight="bold" fill="#222" stroke="#222" stroke-width="0.2" text-anchor="middle" textLength="7.52" lengthAdjust="spacingAndGlyphs">5.6</text>
<line x1="321.00" y1="125.1" x2="321.00" y2="126.19999999999999" stroke="#333333" stroke-width="0.6"/>
<line x1="333.17" y1="125.1" x2="333.17" y2="126.89999999999999" stroke="#333333" stroke-width="0.7"/>
<text x="333.17" y="133.30" font-size="7.0" font-weight="bold" fill="#222" stroke="#222" stroke-width="0.2" text-anchor="middle" textLength="7.52" lengthAdjust="spacingAndGlyphs">5.8</text>
<line x1="345.33" y1="125.1" x2="345.33" y2="126.19999999999999" stroke="#333333" stroke-width="0.6"/>
<line x1="357.50" y1="125.1" x2="357.50" y2="126.89999999999999" stroke="#333333" stroke-width="0.7"/>
<text x="357.50" y="133.30" font-size="7.0" font-weight="bold" fill="#222" stroke="#222" stroke-width="0.2" text-anchor="middle" textLength="7.52" lengthAdjust="spacingAndGlyphs">6.0</text>
<line x1="209.7" y1="123.50" x2="211.5" y2="123.50" stroke="#333333" stroke-width="0.7"/>
<text x="207.90" y="125.90" font-size="7.0" font-weight="bold" fill="#222" stroke="#222" stroke-width="0.2" text-anchor="end" textLength="2.80" lengthAdjust="spacingAndGlyphs">0</text>
<line x1="210.4" y1="114.50" x2="211.5" y2="114.50" stroke="#333333" stroke-width="0.6"/>
<line x1="209.7" y1="105.50" x2="211.5" y2="105.50" stroke="#333333" stroke-width="0.7"/>
<text x="207.90" y="107.90" font-size="7.0" font-weight="bold" fill="#222" stroke="#222" stroke-width="0.2" text-anchor="end" textLength="5.60" lengthAdjust="spacingAndGlyphs">30</text>
<line x1="210.4" y1="96.50" x2="211.5" y2="96.50" stroke="#333333" stroke-width="0.6"/>
<line x1="209.7" y1="87.50" x2="211.5" y2="87.50" stroke="#333333" stroke-width="0.7"/>
<text x="207.90" y="89.90" font-size="7.0" font-weight="bold" fill="#222" stroke="#222" stroke-width="0.2" text-anchor="end" textLength="5.60" lengthAdjust="spacingAndGlyphs">60</text>
<line x1="210.4" y1="78.50" x2="211.5" y2="78.50" stroke="#333333" stroke-width="0.6"/>
<line x1="209.7" y1="69.50" x2="211.5" y2="69.50" stroke="#333333" stroke-width="0.7"/>
<text x="207.90" y="71.90" font-size="7.0" font-weight="bold" fill="#222" stroke="#222" stroke-width="0.2" text-anchor="end" textLength="5.60" lengthAdjust="spacingAndGlyphs">90</text>
<line x1="210.4" y1="60.50" x2="211.5" y2="60.50" stroke="#333333" stroke-width="0.6"/>
<line x1="209.7" y1="51.50" x2="211.5" y2="51.50" stroke="#333333" stroke-width="0.7"/>
<text x="207.90" y="53.90" font-size="7.0" font-weight="bold" fill="#222" stroke="#222" stroke-width="0.2" text-anchor="end" textLength="8.40" lengthAdjust="spacingAndGlyphs">120</text>
<line x1="210.4" y1="42.50" x2="211.5" y2="42.50" stroke="#333333" stroke-width="0.6"/>
<line x1="209.7" y1="33.50" x2="211.5" y2="33.50" stroke="#333333" stroke-width="0.7"/>
<text x="207.90" y="35.90" font-size="7.0" font-weight="bold" fill="#222" stroke="#222" stroke-width="0.2" text-anchor="end" textLength="8.40" lengthAdjust="spacingAndGlyphs">150</text>
<line x1="210.4" y1="24.50" x2="211.5" y2="24.50" stroke="#333333" stroke-width="0.6"/>
<line x1="209.7" y1="15.50" x2="211.5" y2="15.50" stroke="#333333" stroke-width="0.7"/>
<text x="207.90" y="17.90" font-size="7.0" font-weight="bold" fill="#222" stroke="#222" stroke-width="0.2" text-anchor="end" textLength="8.40" lengthAdjust="spacingAndGlyphs">180</text>
<text x="284.2" y="143.6" font-size="8.7" font-weight="bold" text-anchor="middle">hν (eV)</text>
<text x="274" y="155.3" font-size="10.4" font-weight="bold" fill="#222" text-anchor="middle">(b)</text>
<text transform="translate(194.5,68) rotate(-90)" font-size="8.3" font-weight="bold" text-anchor="middle">[F(R∞) hν]<tspan font-size="5.5" dy="-3">2</tspan><tspan dy="3"> (eV)</tspan><tspan font-size="5.5" dy="-3">2</tspan></text>
<path d="M318.20 98.08L319.46 100.39L316.94 100.39Z" fill="none" stroke="#f7b12e" stroke-width="1.0"/>
<text x="327.5" y="101.60" font-size="6.5" font-weight="bold" fill="#222">PMMA-4</text>
<circle cx="318.20" cy="107.80" r="1.15" fill="none" stroke="#3f5cf2" stroke-width="1.0"/>
<text x="327.5" y="110.00" font-size="6.5" font-weight="bold" fill="#222">PMMA-5</text>
<rect x="317.05" y="115.15" width="2.30" height="2.30" rx="0.3" fill="none" stroke="#2f9c90" stroke-width="1.0"/>
<text x="327.5" y="118.50" font-size="6.5" font-weight="bold" fill="#222">PMMA-6</text>
</g>
<g>
<clipPath id="cc"><rect x="394.5" y="10.6" width="146.39999999999998" height="114.80000000000001"/></clipPath>
<g clip-path="url(#cc)">
<path d="M394.50 121.30L395.93 123.92L393.07 123.92Z" fill="none" stroke="#f7b12e" stroke-width="0.85"/>
<path d="M396.84 121.29L398.27 123.91L395.41 123.91Z" fill="none" stroke="#f7b12e" stroke-width="0.85"/>
<path d="M399.20 121.25L400.63 123.87L397.77 123.87Z" fill="none" stroke="#f7b12e" stroke-width="0.85"/>
<path d="M401.58 121.19L403.01 123.80L400.15 123.80Z" fill="none" stroke="#f7b12e" stroke-width="0.85"/>
<path d="M403.98 121.10L405.41 123.72L402.55 123.72Z" fill="none" stroke="#f7b12e" stroke-width="0.85"/>
<path d="M406.41 121.00L407.84 123.62L404.98 123.62Z" fill="none" stroke="#f7b12e" stroke-width="0.85"/>
<path d="M408.86 120.89L410.29 123.50L407.43 123.50Z" fill="none" stroke="#f7b12e" stroke-width="0.85"/>
<path d="M411.33 120.76L412.76 123.38L409.90 123.38Z" fill="none" stroke="#f7b12e" stroke-width="0.85"/>
<path d="M413.82 120.57L415.25 123.18L412.39 123.18Z" fill="none" stroke="#f7b12e" stroke-width="0.85"/>
<path d="M416.35 120.31L417.78 122.92L414.92 122.92Z" fill="none" stroke="#f7b12e" stroke-width="0.85"/>
<path d="M418.89 119.98L420.32 122.60L417.46 122.60Z" fill="none" stroke="#f7b12e" stroke-width="0.85"/>
<path d="M421.46 119.60L422.89 122.21L420.03 122.21Z" fill="none" stroke="#f7b12e" stroke-width="0.85"/>
<path d="M424.05 119.16L425.48 121.78L422.62 121.78Z" fill="none" stroke="#f7b12e" stroke-width="0.85"/>
<path d="M426.67 118.68L428.10 121.29L425.24 121.29Z" fill="none" stroke="#f7b12e" stroke-width="0.85"/>
<path d="M429.32 118.06L430.75 120.67L427.89 120.67Z" fill="none" stroke="#f7b12e" stroke-width="0.85"/>
<path d="M431.99 117.29L433.42 119.91L430.56 119.91Z" fill="none" stroke="#f7b12e" stroke-width="0.85"/>
<path d="M434.69 116.38L436.12 118.99L433.26 118.99Z" fill="none" stroke="#f7b12e" stroke-width="0.85"/>
<path d="M437.42 115.32L438.85 117.94L435.99 117.94Z" fill="none" stroke="#f7b12e" stroke-width="0.85"/>
<path d="M440.17 113.95L441.60 116.57L438.74 116.57Z" fill="none" stroke="#f7b12e" stroke-width="0.85"/>
<path d="M442.95 112.17L444.38 114.79L441.52 114.79Z" fill="none" stroke="#f7b12e" stroke-width="0.85"/>
<path d="M445.76 110.20L447.19 112.81L444.33 112.81Z" fill="none" stroke="#f7b12e" stroke-width="0.85"/>
<path d="M448.60 107.91L450.03 110.53L447.17 110.53Z" fill="none" stroke="#f7b12e" stroke-width="0.85"/>
<path d="M451.47 105.35L452.90 107.97L450.04 107.97Z" fill="none" stroke="#f7b12e" stroke-width="0.85"/>
<path d="M454.37 102.45L455.80 105.07L452.94 105.07Z" fill="none" stroke="#f7b12e" stroke-width="0.85"/>
<path d="M457.30 99.38L458.73 101.99L455.87 101.99Z" fill="none" stroke="#f7b12e" stroke-width="0.85"/>
<path d="M460.26 96.26L461.69 98.87L458.83 98.87Z" fill="none" stroke="#f7b12e" stroke-width="0.85"/>
<path d="M463.24 92.93L464.67 95.55L461.81 95.55Z" fill="none" stroke="#f7b12e" stroke-width="0.85"/>
<path d="M466.27 89.21L467.70 91.83L464.84 91.83Z" fill="none" stroke="#f7b12e" stroke-width="0.85"/>
<path d="M469.32 84.91L470.75 87.52L467.89 87.52Z" fill="none" stroke="#f7b12e" stroke-width="0.85"/>
<path d="M472.40 80.20L473.83 82.82L470.97 82.82Z" fill="none" stroke="#f7b12e" stroke-width="0.85"/>
<path d="M475.52 75.25L476.95 77.86L474.09 77.86Z" fill="none" stroke="#f7b12e" stroke-width="0.85"/>
<path d="M478.68 69.96L480.11 72.58L477.25 72.58Z" fill="none" stroke="#f7b12e" stroke-width="0.85"/>
<path d="M481.86 64.91L483.29 67.52L480.43 67.52Z" fill="none" stroke="#f7b12e" stroke-width="0.85"/>
<path d="M485.08 60.15L486.51 62.77L483.65 62.77Z" fill="none" stroke="#f7b12e" stroke-width="0.85"/>
<path d="M488.34 55.31L489.77 57.93L486.91 57.93Z" fill="none" stroke="#f7b12e" stroke-width="0.85"/>
<path d="M491.63 49.96L493.06 52.57L490.20 52.57Z" fill="none" stroke="#f7b12e" stroke-width="0.85"/>
<path d="M494.96 44.41L496.39 47.02L493.53 47.02Z" fill="none" stroke="#f7b12e" stroke-width="0.85"/>
<path d="M498.33 39.33L499.76 41.94L496.90 41.94Z" fill="none" stroke="#f7b12e" stroke-width="0.85"/>
<path d="M501.73 34.77L503.16 37.39L500.30 37.39Z" fill="none" stroke="#f7b12e" stroke-width="0.85"/>
<path d="M505.17 30.14L506.60 32.76L503.74 32.76Z" fill="none" stroke="#f7b12e" stroke-width="0.85"/>
<path d="M508.66 23.57L510.09 26.19L507.23 26.19Z" fill="none" stroke="#f7b12e" stroke-width="0.85"/>
<path d="M512.18 20.19L513.61 22.80L510.75 22.80Z" fill="none" stroke="#f7b12e" stroke-width="0.85"/>
<path d="M515.74 18.44L517.17 21.06L514.31 21.06Z" fill="none" stroke="#f7b12e" stroke-width="0.85"/>
<path d="M519.34 16.47L520.77 19.09L517.91 19.09Z" fill="none" stroke="#f7b12e" stroke-width="0.85"/>
<path d="M522.98 17.30L524.41 19.91L521.55 19.91Z" fill="none" stroke="#f7b12e" stroke-width="0.85"/>
<path d="M526.67 21.90L528.10 24.51L525.24 24.51Z" fill="none" stroke="#f7b12e" stroke-width="0.85"/>
<path d="M530.40 25.66L531.83 28.27L528.97 28.27Z" fill="none" stroke="#f7b12e" stroke-width="0.85"/>
<path d="M534.18 30.98L535.61 33.60L532.75 33.60Z" fill="none" stroke="#f7b12e" stroke-width="0.85"/>
<path d="M537.99 38.56L539.42 41.17L536.56 41.17Z" fill="none" stroke="#f7b12e" stroke-width="0.85"/>
<circle cx="394.50" cy="125.10" r="1.30" fill="none" stroke="#3f5cf2" stroke-width="0.85"/>
<circle cx="396.84" cy="125.09" r="1.30" fill="none" stroke="#3f5cf2" stroke-width="0.85"/>
<circle cx="399.20" cy="125.08" r="1.30" fill="none" stroke="#3f5cf2" stroke-width="0.85"/>
<circle cx="401.58" cy="125.05" r="1.30" fill="none" stroke="#3f5cf2" stroke-width="0.85"/>
<circle cx="403.98" cy="125.02" r="1.30" fill="none" stroke="#3f5cf2" stroke-width="0.85"/>
<circle cx="406.41" cy="124.98" r="1.30" fill="none" stroke="#3f5cf2" stroke-width="0.85"/>
<circle cx="408.86" cy="124.93" r="1.30" fill="none" stroke="#3f5cf2" stroke-width="0.85"/>
<circle cx="411.33" cy="124.88" r="1.30" fill="none" stroke="#3f5cf2" stroke-width="0.85"/>
<circle cx="413.82" cy="124.80" r="1.30" fill="none" stroke="#3f5cf2" stroke-width="0.85"/>
<circle cx="416.35" cy="124.69" r="1.30" fill="none" stroke="#3f5cf2" stroke-width="0.85"/>
<circle cx="418.89" cy="124.54" r="1.30" fill="none" stroke="#3f5cf2" stroke-width="0.85"/>
<circle cx="421.46" cy="124.36" r="1.30" fill="none" stroke="#3f5cf2" stroke-width="0.85"/>
<circle cx="424.05" cy="124.14" r="1.30" fill="none" stroke="#3f5cf2" stroke-width="0.85"/>
<circle cx="426.67" cy="123.87" r="1.30" fill="none" stroke="#3f5cf2" stroke-width="0.85"/>
<circle cx="429.32" cy="123.45" r="1.30" fill="none" stroke="#3f5cf2" stroke-width="0.85"/>
<circle cx="431.99" cy="122.87" r="1.30" fill="none" stroke="#3f5cf2" stroke-width="0.85"/>
<circle cx="434.69" cy="122.09" r="1.30" fill="none" stroke="#3f5cf2" stroke-width="0.85"/>
<circle cx="437.42" cy="121.11" r="1.30" fill="none" stroke="#3f5cf2" stroke-width="0.85"/>
<circle cx="440.17" cy="119.38" r="1.30" fill="none" stroke="#3f5cf2" stroke-width="0.85"/>
<circle cx="442.95" cy="116.78" r="1.30" fill="none" stroke="#3f5cf2" stroke-width="0.85"/>
<circle cx="445.76" cy="114.19" r="1.30" fill="none" stroke="#3f5cf2" stroke-width="0.85"/>
<circle cx="448.60" cy="111.40" r="1.30" fill="none" stroke="#3f5cf2" stroke-width="0.85"/>
<circle cx="451.47" cy="108.51" r="1.30" fill="none" stroke="#3f5cf2" stroke-width="0.85"/>
<circle cx="454.37" cy="105.49" r="1.30" fill="none" stroke="#3f5cf2" stroke-width="0.85"/>
<circle cx="457.30" cy="102.36" r="1.30" fill="none" stroke="#3f5cf2" stroke-width="0.85"/>
<circle cx="460.26" cy="99.22" r="1.30" fill="none" stroke="#3f5cf2" stroke-width="0.85"/>
<circle cx="463.24" cy="95.92" r="1.30" fill="none" stroke="#3f5cf2" stroke-width="0.85"/>
<circle cx="466.27" cy="92.21" r="1.30" fill="none" stroke="#3f5cf2" stroke-width="0.85"/>
<circle cx="469.32" cy="87.90" r="1.30" fill="none" stroke="#3f5cf2" stroke-width="0.85"/>
<circle cx="472.40" cy="83.20" r="1.30" fill="none" stroke="#3f5cf2" stroke-width="0.85"/>
<circle cx="475.52" cy="78.16" r="1.30" fill="none" stroke="#3f5cf2" stroke-width="0.85"/>
<circle cx="478.68" cy="72.76" r="1.30" fill="none" stroke="#3f5cf2" stroke-width="0.85"/>
<circle cx="481.86" cy="68.19" r="1.30" fill="none" stroke="#3f5cf2" stroke-width="0.85"/>
<circle cx="485.08" cy="64.30" r="1.30" fill="none" stroke="#3f5cf2" stroke-width="0.85"/>
<circle cx="488.34" cy="60.73" r="1.30" fill="none" stroke="#3f5cf2" stroke-width="0.85"/>
<circle cx="491.63" cy="57.27" r="1.30" fill="none" stroke="#3f5cf2" stroke-width="0.85"/>
<circle cx="494.96" cy="54.12" r="1.30" fill="none" stroke="#3f5cf2" stroke-width="0.85"/>
<circle cx="498.33" cy="51.56" r="1.30" fill="none" stroke="#3f5cf2" stroke-width="0.85"/>
<circle cx="501.73" cy="48.66" r="1.30" fill="none" stroke="#3f5cf2" stroke-width="0.85"/>
<circle cx="505.17" cy="47.90" r="1.30" fill="none" stroke="#3f5cf2" stroke-width="0.85"/>
<circle cx="508.66" cy="49.30" r="1.30" fill="none" stroke="#3f5cf2" stroke-width="0.85"/>
<circle cx="512.18" cy="48.05" r="1.30" fill="none" stroke="#3f5cf2" stroke-width="0.85"/>
<circle cx="515.74" cy="43.50" r="1.30" fill="none" stroke="#3f5cf2" stroke-width="0.85"/>
<circle cx="519.34" cy="45.11" r="1.30" fill="none" stroke="#3f5cf2" stroke-width="0.85"/>
<circle cx="522.98" cy="43.02" r="1.30" fill="none" stroke="#3f5cf2" stroke-width="0.85"/>
<circle cx="526.67" cy="46.29" r="1.30" fill="none" stroke="#3f5cf2" stroke-width="0.85"/>
<circle cx="530.40" cy="46.49" r="1.30" fill="none" stroke="#3f5cf2" stroke-width="0.85"/>
<circle cx="534.18" cy="49.33" r="1.30" fill="none" stroke="#3f5cf2" stroke-width="0.85"/>
<circle cx="537.99" cy="53.27" r="1.30" fill="none" stroke="#3f5cf2" stroke-width="0.85"/>
<rect x="393.20" y="118.90" width="2.60" height="2.60" rx="0.3" fill="none" stroke="#2f9c90" stroke-width="0.85"/>
<rect x="395.54" y="118.36" width="2.60" height="2.60" rx="0.3" fill="none" stroke="#2f9c90" stroke-width="0.85"/>
<rect x="397.90" y="117.82" width="2.60" height="2.60" rx="0.3" fill="none" stroke="#2f9c90" stroke-width="0.85"/>
<rect x="400.28" y="117.28" width="2.60" height="2.60" rx="0.3" fill="none" stroke="#2f9c90" stroke-width="0.85"/>
<rect x="402.68" y="116.72" width="2.60" height="2.60" rx="0.3" fill="none" stroke="#2f9c90" stroke-width="0.85"/>
<rect x="405.11" y="116.17" width="2.60" height="2.60" rx="0.3" fill="none" stroke="#2f9c90" stroke-width="0.85"/>
<rect x="407.56" y="115.61" width="2.60" height="2.60" rx="0.3" fill="none" stroke="#2f9c90" stroke-width="0.85"/>
<rect x="410.03" y="115.04" width="2.60" height="2.60" rx="0.3" fill="none" stroke="#2f9c90" stroke-width="0.85"/>
<rect x="412.52" y="114.47" width="2.60" height="2.60" rx="0.3" fill="none" stroke="#2f9c90" stroke-width="0.85"/>
<rect x="415.05" y="113.90" width="2.60" height="2.60" rx="0.3" fill="none" stroke="#2f9c90" stroke-width="0.85"/>
<rect x="417.59" y="113.33" width="2.60" height="2.60" rx="0.3" fill="none" stroke="#2f9c90" stroke-width="0.85"/>
<rect x="420.16" y="112.76" width="2.60" height="2.60" rx="0.3" fill="none" stroke="#2f9c90" stroke-width="0.85"/>
<rect x="422.75" y="112.16" width="2.60" height="2.60" rx="0.3" fill="none" stroke="#2f9c90" stroke-width="0.85"/>
<rect x="425.37" y="111.51" width="2.60" height="2.60" rx="0.3" fill="none" stroke="#2f9c90" stroke-width="0.85"/>
<rect x="428.02" y="110.86" width="2.60" height="2.60" rx="0.3" fill="none" stroke="#2f9c90" stroke-width="0.85"/>
<rect x="430.69" y="110.17" width="2.60" height="2.60" rx="0.3" fill="none" stroke="#2f9c90" stroke-width="0.85"/>
<rect x="433.39" y="109.35" width="2.60" height="2.60" rx="0.3" fill="none" stroke="#2f9c90" stroke-width="0.85"/>
<rect x="436.12" y="108.33" width="2.60" height="2.60" rx="0.3" fill="none" stroke="#2f9c90" stroke-width="0.85"/>
<rect x="438.87" y="106.98" width="2.60" height="2.60" rx="0.3" fill="none" stroke="#2f9c90" stroke-width="0.85"/>
<rect x="441.65" y="105.11" width="2.60" height="2.60" rx="0.3" fill="none" stroke="#2f9c90" stroke-width="0.85"/>
<rect x="444.46" y="101.86" width="2.60" height="2.60" rx="0.3" fill="none" stroke="#2f9c90" stroke-width="0.85"/>
<rect x="447.30" y="97.61" width="2.60" height="2.60" rx="0.3" fill="none" stroke="#2f9c90" stroke-width="0.85"/>
<rect x="450.17" y="94.02" width="2.60" height="2.60" rx="0.3" fill="none" stroke="#2f9c90" stroke-width="0.85"/>
<rect x="453.07" y="90.70" width="2.60" height="2.60" rx="0.3" fill="none" stroke="#2f9c90" stroke-width="0.85"/>
<rect x="456.00" y="87.14" width="2.60" height="2.60" rx="0.3" fill="none" stroke="#2f9c90" stroke-width="0.85"/>
<rect x="458.96" y="83.32" width="2.60" height="2.60" rx="0.3" fill="none" stroke="#2f9c90" stroke-width="0.85"/>
<rect x="461.94" y="79.31" width="2.60" height="2.60" rx="0.3" fill="none" stroke="#2f9c90" stroke-width="0.85"/>
<rect x="464.97" y="75.03" width="2.60" height="2.60" rx="0.3" fill="none" stroke="#2f9c90" stroke-width="0.85"/>
<rect x="468.02" y="70.41" width="2.60" height="2.60" rx="0.3" fill="none" stroke="#2f9c90" stroke-width="0.85"/>
<rect x="471.10" y="65.32" width="2.60" height="2.60" rx="0.3" fill="none" stroke="#2f9c90" stroke-width="0.85"/>
<rect x="474.22" y="59.74" width="2.60" height="2.60" rx="0.3" fill="none" stroke="#2f9c90" stroke-width="0.85"/>
<rect x="477.38" y="53.75" width="2.60" height="2.60" rx="0.3" fill="none" stroke="#2f9c90" stroke-width="0.85"/>
<rect x="480.56" y="46.66" width="2.60" height="2.60" rx="0.3" fill="none" stroke="#2f9c90" stroke-width="0.85"/>
<rect x="483.78" y="41.48" width="2.60" height="2.60" rx="0.3" fill="none" stroke="#2f9c90" stroke-width="0.85"/>
<rect x="487.04" y="38.06" width="2.60" height="2.60" rx="0.3" fill="none" stroke="#2f9c90" stroke-width="0.85"/>
<rect x="490.33" y="34.69" width="2.60" height="2.60" rx="0.3" fill="none" stroke="#2f9c90" stroke-width="0.85"/>
<rect x="493.66" y="31.34" width="2.60" height="2.60" rx="0.3" fill="none" stroke="#2f9c90" stroke-width="0.85"/>
<rect x="497.03" y="28.49" width="2.60" height="2.60" rx="0.3" fill="none" stroke="#2f9c90" stroke-width="0.85"/>
<rect x="500.43" y="25.50" width="2.60" height="2.60" rx="0.3" fill="none" stroke="#2f9c90" stroke-width="0.85"/>
<rect x="503.87" y="22.46" width="2.60" height="2.60" rx="0.3" fill="none" stroke="#2f9c90" stroke-width="0.85"/>
<rect x="507.36" y="19.73" width="2.60" height="2.60" rx="0.3" fill="none" stroke="#2f9c90" stroke-width="0.85"/>
<rect x="510.88" y="18.22" width="2.60" height="2.60" rx="0.3" fill="none" stroke="#2f9c90" stroke-width="0.85"/>
<rect x="514.44" y="16.29" width="2.60" height="2.60" rx="0.3" fill="none" stroke="#2f9c90" stroke-width="0.85"/>
<rect x="518.04" y="12.27" width="2.60" height="2.60" rx="0.3" fill="none" stroke="#2f9c90" stroke-width="0.85"/>
<rect x="521.68" y="10.93" width="2.60" height="2.60" rx="0.3" fill="none" stroke="#2f9c90" stroke-width="0.85"/>
<rect x="525.37" y="14.76" width="2.60" height="2.60" rx="0.3" fill="none" stroke="#2f9c90" stroke-width="0.85"/>
<rect x="529.10" y="18.92" width="2.60" height="2.60" rx="0.3" fill="none" stroke="#2f9c90" stroke-width="0.85"/>
<rect x="532.88" y="24.59" width="2.60" height="2.60" rx="0.3" fill="none" stroke="#2f9c90" stroke-width="0.85"/>
<rect x="536.69" y="31.96" width="2.60" height="2.60" rx="0.3" fill="none" stroke="#2f9c90" stroke-width="0.85"/>
<line x1="430.22" y1="125.40" x2="545.90" y2="-39.44" stroke="#2f9c90" stroke-width="1.05" stroke-dasharray="2.8 2"/>
<line x1="438.20" y1="125.40" x2="545.90" y2="-16.04" stroke="#3f5cf2" stroke-width="1.05" stroke-dasharray="2.8 2"/>
<line x1="439.22" y1="125.40" x2="545.90" y2="-25.13" stroke="#f7b12e" stroke-width="1.05" stroke-dasharray="2.8 2"/>
</g>
<rect x="406.0" y="14.5" width="58.0" height="47.0" fill="#fff" stroke="#6a6a6a" stroke-width="0.6"/>
<line x1="405.0" y1="59.70" x2="406.0" y2="59.70" stroke="#666" stroke-width="0.4"/>
<rect x="401.40" y="59.10" width="2.4" height="1.1" fill="#b5b5b5"/>
<line x1="405.0" y1="52.80" x2="406.0" y2="52.80" stroke="#666" stroke-width="0.4"/>
<rect x="401.40" y="52.20" width="2.4" height="1.1" fill="#b5b5b5"/>
<line x1="405.0" y1="46.00" x2="406.0" y2="46.00" stroke="#666" stroke-width="0.4"/>
<rect x="401.40" y="45.40" width="2.4" height="1.1" fill="#b5b5b5"/>
<line x1="405.0" y1="39.20" x2="406.0" y2="39.20" stroke="#666" stroke-width="0.4"/>
<rect x="401.40" y="38.60" width="2.4" height="1.1" fill="#b5b5b5"/>
<line x1="405.0" y1="32.40" x2="406.0" y2="32.40" stroke="#666" stroke-width="0.4"/>
<rect x="401.40" y="31.80" width="2.4" height="1.1" fill="#b5b5b5"/>
<line x1="405.0" y1="25.60" x2="406.0" y2="25.60" stroke="#666" stroke-width="0.4"/>
<rect x="401.40" y="25.00" width="2.4" height="1.1" fill="#b5b5b5"/>
<line x1="405.0" y1="18.80" x2="406.0" y2="18.80" stroke="#666" stroke-width="0.4"/>
<rect x="401.40" y="18.20" width="2.4" height="1.1" fill="#b5b5b5"/>
<line x1="406.10" y1="61.5" x2="406.10" y2="62.5" stroke="#666" stroke-width="0.4"/>
<rect x="405.30" y="63.30" width="1.6" height="1.2" fill="#bdbdbd"/>
<line x1="419.80" y1="61.5" x2="419.80" y2="62.5" stroke="#666" stroke-width="0.4"/>
<rect x="419.00" y="63.30" width="1.6" height="1.2" fill="#bdbdbd"/>
<line x1="433.50" y1="61.5" x2="433.50" y2="62.5" stroke="#666" stroke-width="0.4"/>
<rect x="432.70" y="63.30" width="1.6" height="1.2" fill="#bdbdbd"/>
<line x1="447.20" y1="61.5" x2="447.20" y2="62.5" stroke="#666" stroke-width="0.4"/>
<rect x="446.40" y="63.30" width="1.6" height="1.2" fill="#bdbdbd"/>
<line x1="460.90" y1="61.5" x2="460.90" y2="62.5" stroke="#666" stroke-width="0.4"/>
<rect x="460.10" y="63.30" width="1.6" height="1.2" fill="#bdbdbd"/>
<path d="M406.30 59.90L406.80 59.90L407.30 59.90L407.80 59.90L408.30 59.90L408.80 59.90L409.30 59.90L409.80 59.90L410.30 59.90L410.80 59.90L411.30 59.90L411.80 59.90L412.30 59.90L412.80 59.90L413.30 59.90L413.80 59.90L414.30 59.90L414.80 59.90L415.30 59.90L415.80 59.90L416.30 59.90L416.80 59.90L417.30 59.90L417.80 59.90L418.30 59.90L418.80 59.90L419.30 59.89L419.80 59.89L420.30 59.89L420.80 59.89L421.30 59.89L421.80 59.89L422.30 59.89L422.80 59.89L423.30 59.89L423.80 59.89L424.30 59.89L424.80 59.89L425.30 59.89L425.80 59.88L426.30 59.88L426.80 59.88L427.30 59.88L427.80 59.88L428.30 59.88L428.80 59.88L429.30 59.88L429.80 59.87L430.30 59.87L430.80 59.87L431.30 59.87L431.80 59.87L432.30 59.87L432.80 59.87L433.30 59.86L433.80 59.86L434.30 59.86L434.80 59.86L435.30 59.86L435.80 59.85L436.30 59.85L436.80 59.85L437.30 59.85L437.80 59.84L438.30 59.84L438.80 59.84L439.30 59.84L439.80 59.83L440.30 59.83L440.80 59.83L441.30 59.83L441.80 59.82L442.30 59.82L442.80 59.82L443.30 59.81L443.80 59.81L444.30 59.81L444.80 59.80L445.30 59.80L445.80 59.79L446.30 59.73L446.80 59.63L447.30 59.49L447.80 59.31L448.30 59.09L448.80 58.74L449.30 57.87L449.80 56.58L450.30 55.01L450.80 53.31L451.30 51.63L451.80 50.03L452.30 48.28L452.80 46.41L453.30 44.47L453.80 42.55L454.30 40.70L454.80 38.92L455.30 37.01L455.80 35.10L456.30 33.36L456.80 31.96L457.30 31.06L457.80 30.41L458.30 29.88L458.80 29.56L459.30 29.45L459.80 29.38L460.30 29.33L460.80 29.30L461.30 29.40L461.80 29.90L462.30 30.67L462.80 31.63L463.30 33.12L463.80 35.00" fill="none" stroke="#3f5cf2" stroke-width="1.3" stroke-linejoin="round"/>
<path d="M406.30 59.60L406.80 59.60L407.30 59.60L407.80 59.60L408.30 59.60L408.80 59.60L409.30 59.60L409.80 59.60L410.30 59.60L410.80 59.60L411.30 59.60L411.80 59.60L412.30 59.60L412.80 59.60L413.30 59.60L413.80 59.60L414.30 59.60L414.80 59.60L415.30 59.60L415.80 59.59L416.30 59.59L416.80 59.59L417.30 59.59L417.80 59.59L418.30 59.59L418.80 59.59L419.30 59.59L419.80 59.59L420.30 59.59L420.80 59.59L421.30 59.58L421.80 59.58L422.30 59.58L422.80 59.58L423.30 59.58L423.80 59.58L424.30 59.57L424.80 59.57L425.30 59.57L425.80 59.57L426.30 59.57L426.80 59.56L427.30 59.56L427.80 59.56L428.30 59.55L428.80 59.55L429.30 59.55L429.80 59.55L430.30 59.54L430.80 59.54L431.30 59.54L431.80 59.53L432.30 59.53L432.80 59.52L433.30 59.52L433.80 59.52L434.30 59.51L434.80 59.51L435.30 59.50L435.80 59.50L436.30 59.49L436.80 59.49L437.30 59.48L437.80 59.48L438.30 59.47L438.80 59.47L439.30 59.46L439.80 59.46L440.30 59.45L440.80 59.44L441.30 59.44L441.80 59.43L442.30 59.42L442.80 59.42L443.30 59.41L443.80 59.40L444.30 59.35L444.80 59.11L445.30 58.74L445.80 58.35L446.30 58.00L446.80 57.65L447.30 57.22L447.80 56.58L448.30 55.62L448.80 54.41L449.30 53.03L449.80 51.58L450.30 50.09L450.80 48.38L451.30 46.52L451.80 44.56L452.30 42.58L452.80 40.67L453.30 38.90L453.80 37.25L454.30 35.65L454.80 34.09L455.30 32.56L455.80 31.07L456.30 29.59L456.80 28.12L457.30 26.64L457.80 25.20L458.30 23.80L458.80 22.49L459.30 21.21L459.80 19.79L460.30 18.53L460.80 17.78L461.30 17.83L461.80 18.50L462.30 19.54L462.80 20.90L463.30 23.15L463.80 26.00" fill="none" stroke="#2f9c90" stroke-width="1.3" stroke-linejoin="round"/>
<path d="M406.30 59.80L406.80 59.80L407.30 59.80L407.80 59.80L408.30 59.80L408.80 59.80L409.30 59.80L409.80 59.80L410.30 59.80L410.80 59.80L411.30 59.80L411.80 59.80L412.30 59.80L412.80 59.80L413.30 59.80L413.80 59.80L414.30 59.80L414.80 59.80L415.30 59.80L415.80 59.80L416.30 59.80L416.80 59.80L417.30 59.80L417.80 59.80L418.30 59.80L418.80 59.79L419.30 59.79L419.80 59.79L420.30 59.79L420.80 59.79L421.30 59.79L421.80 59.79L422.30 59.79L422.80 59.79L423.30 59.79L423.80 59.79L424.30 59.79L424.80 59.79L425.30 59.78L425.80 59.78L426.30 59.78L426.80 59.78L427.30 59.78L427.80 59.78L428.30 59.78L428.80 59.78L429.30 59.77L429.80 59.77L430.30 59.77L430.80 59.77L431.30 59.77L431.80 59.77L432.30 59.76L432.80 59.76L433.30 59.76L433.80 59.76L434.30 59.76L434.80 59.75L435.30 59.75L435.80 59.75L436.30 59.75L436.80 59.75L437.30 59.74L437.80 59.74L438.30 59.74L438.80 59.74L439.30 59.73L439.80 59.73L440.30 59.73L440.80 59.72L441.30 59.72L441.80 59.72L442.30 59.71L442.80 59.71L443.30 59.71L443.80 59.70L444.30 59.70L444.80 59.69L445.30 59.64L445.80 59.55L446.30 59.43L446.80 59.27L447.30 59.08L447.80 58.77L448.30 58.00L448.80 56.85L449.30 55.47L449.80 53.99L450.30 52.54L450.80 51.20L451.30 49.82L451.80 48.37L452.30 46.87L452.80 45.31L453.30 43.70L453.80 41.99L454.30 40.17L454.80 38.29L455.30 36.38L455.80 34.50L456.30 32.69L456.80 30.97L457.30 29.26L457.80 27.58L458.30 25.99L458.80 24.53L459.30 23.17L459.80 21.71L460.30 20.43L460.80 19.68L461.30 19.81L461.80 20.86L462.30 22.37L462.80 24.05L463.30 26.30L463.80 29.00" fill="none" stroke="#f7b12e" stroke-width="1.4" stroke-linejoin="round"/>
<rect x="446.0" y="16.7" width="16.0" height="44.599999999999994" fill="none" stroke="#5c5ce0" stroke-width="0.6"/>
<rect x="394.5" y="10.6" width="146.39999999999998" height="114.80000000000001" fill="none" stroke="#333333" stroke-width="1.0"/>
<line x1="394.50" y1="125.4" x2="394.50" y2="127.2" stroke="#333333" stroke-width="0.7"/>
<text x="394.50" y="133.60" font-size="7.0" font-weight="bold" fill="#222" stroke="#222" stroke-width="0.2" text-anchor="middle" textLength="7.52" lengthAdjust="spacingAndGlyphs">4.8</text>
<line x1="404.96" y1="125.4" x2="404.96" y2="126.5" stroke="#333333" stroke-width="0.6"/>
<line x1="415.41" y1="125.4" x2="415.41" y2="127.2" stroke="#333333" stroke-width="0.7"/>
<text x="415.41" y="133.60" font-size="7.0" font-weight="bold" fill="#222" stroke="#222" stroke-width="0.2" text-anchor="middle" textLength="7.52" lengthAdjust="spacingAndGlyphs">5.0</text>
<line x1="425.87" y1="125.4" x2="425.87" y2="126.5" stroke="#333333" stroke-width="0.6"/>
<line x1="436.33" y1="125.4" x2="436.33" y2="127.2" stroke="#333333" stroke-width="0.7"/>
<text x="436.33" y="133.60" font-size="7.0" font-weight="bold" fill="#222" stroke="#222" stroke-width="0.2" text-anchor="middle" textLength="7.52" lengthAdjust="spacingAndGlyphs">5.2</text>
<line x1="446.79" y1="125.4" x2="446.79" y2="126.5" stroke="#333333" stroke-width="0.6"/>
<line x1="457.24" y1="125.4" x2="457.24" y2="127.2" stroke="#333333" stroke-width="0.7"/>
<text x="457.24" y="133.60" font-size="7.0" font-weight="bold" fill="#222" stroke="#222" stroke-width="0.2" text-anchor="middle" textLength="7.52" lengthAdjust="spacingAndGlyphs">5.4</text>
<line x1="467.70" y1="125.4" x2="467.70" y2="126.5" stroke="#333333" stroke-width="0.6"/>
<line x1="478.16" y1="125.4" x2="478.16" y2="127.2" stroke="#333333" stroke-width="0.7"/>
<text x="478.16" y="133.60" font-size="7.0" font-weight="bold" fill="#222" stroke="#222" stroke-width="0.2" text-anchor="middle" textLength="7.52" lengthAdjust="spacingAndGlyphs">5.6</text>
<line x1="488.61" y1="125.4" x2="488.61" y2="126.5" stroke="#333333" stroke-width="0.6"/>
<line x1="499.07" y1="125.4" x2="499.07" y2="127.2" stroke="#333333" stroke-width="0.7"/>
<text x="499.07" y="133.60" font-size="7.0" font-weight="bold" fill="#222" stroke="#222" stroke-width="0.2" text-anchor="middle" textLength="7.52" lengthAdjust="spacingAndGlyphs">5.8</text>
<line x1="509.53" y1="125.4" x2="509.53" y2="126.5" stroke="#333333" stroke-width="0.6"/>
<line x1="519.99" y1="125.4" x2="519.99" y2="127.2" stroke="#333333" stroke-width="0.7"/>
<text x="519.99" y="133.60" font-size="7.0" font-weight="bold" fill="#222" stroke="#222" stroke-width="0.2" text-anchor="middle" textLength="7.52" lengthAdjust="spacingAndGlyphs">6.0</text>
<line x1="530.44" y1="125.4" x2="530.44" y2="126.5" stroke="#333333" stroke-width="0.6"/>
<line x1="540.90" y1="125.4" x2="540.90" y2="127.2" stroke="#333333" stroke-width="0.7"/>
<text x="540.90" y="133.60" font-size="7.0" font-weight="bold" fill="#222" stroke="#222" stroke-width="0.2" text-anchor="middle" textLength="7.52" lengthAdjust="spacingAndGlyphs">6.2</text>
<line x1="392.7" y1="123.45" x2="394.5" y2="123.45" stroke="#333333" stroke-width="0.7"/>
<text x="390.90" y="125.85" font-size="7.0" font-weight="bold" fill="#222" stroke="#222" stroke-width="0.2" text-anchor="end" textLength="2.80" lengthAdjust="spacingAndGlyphs">0</text>
<line x1="393.4" y1="114.50" x2="394.5" y2="114.50" stroke="#333333" stroke-width="0.6"/>
<line x1="392.7" y1="105.55" x2="394.5" y2="105.55" stroke="#333333" stroke-width="0.7"/>
<text x="390.90" y="107.95" font-size="7.0" font-weight="bold" fill="#222" stroke="#222" stroke-width="0.2" text-anchor="end" textLength="5.60" lengthAdjust="spacingAndGlyphs">30</text>
<line x1="393.4" y1="96.60" x2="394.5" y2="96.60" stroke="#333333" stroke-width="0.6"/>
<line x1="392.7" y1="87.65" x2="394.5" y2="87.65" stroke="#333333" stroke-width="0.7"/>
<text x="390.90" y="90.05" font-size="7.0" font-weight="bold" fill="#222" stroke="#222" stroke-width="0.2" text-anchor="end" textLength="5.60" lengthAdjust="spacingAndGlyphs">60</text>
<line x1="393.4" y1="78.70" x2="394.5" y2="78.70" stroke="#333333" stroke-width="0.6"/>
<line x1="392.7" y1="69.75" x2="394.5" y2="69.75" stroke="#333333" stroke-width="0.7"/>
<text x="390.90" y="72.15" font-size="7.0" font-weight="bold" fill="#222" stroke="#222" stroke-width="0.2" text-anchor="end" textLength="5.60" lengthAdjust="spacingAndGlyphs">90</text>
<line x1="393.4" y1="60.80" x2="394.5" y2="60.80" stroke="#333333" stroke-width="0.6"/>
<line x1="392.7" y1="51.85" x2="394.5" y2="51.85" stroke="#333333" stroke-width="0.7"/>
<text x="390.90" y="54.25" font-size="7.0" font-weight="bold" fill="#222" stroke="#222" stroke-width="0.2" text-anchor="end" textLength="8.40" lengthAdjust="spacingAndGlyphs">120</text>
<line x1="393.4" y1="42.90" x2="394.5" y2="42.90" stroke="#333333" stroke-width="0.6"/>
<line x1="392.7" y1="33.95" x2="394.5" y2="33.95" stroke="#333333" stroke-width="0.7"/>
<text x="390.90" y="36.35" font-size="7.0" font-weight="bold" fill="#222" stroke="#222" stroke-width="0.2" text-anchor="end" textLength="8.40" lengthAdjust="spacingAndGlyphs">150</text>
<line x1="393.4" y1="24.99" x2="394.5" y2="24.99" stroke="#333333" stroke-width="0.6"/>
<line x1="392.7" y1="16.04" x2="394.5" y2="16.04" stroke="#333333" stroke-width="0.7"/>
<text x="390.90" y="18.44" font-size="7.0" font-weight="bold" fill="#222" stroke="#222" stroke-width="0.2" text-anchor="end" textLength="8.40" lengthAdjust="spacingAndGlyphs">180</text>
<text x="466.5" y="143.6" font-size="8.7" font-weight="bold" text-anchor="middle">hν (eV)</text>
<text x="456.5" y="155.3" font-size="10.4" font-weight="bold" fill="#222" text-anchor="middle">(c)</text>
<text transform="translate(378.5,68) rotate(-90)" font-size="8.3" font-weight="bold" text-anchor="middle">[F(R∞) hν]<tspan font-size="5.5" dy="-3">2</tspan><tspan dy="3"> (eV)</tspan><tspan font-size="5.5" dy="-3">2</tspan></text>
<path d="M501.20 98.48L502.46 100.79L499.94 100.79Z" fill="none" stroke="#f7b12e" stroke-width="1.0"/>
<text x="511.2" y="102.00" font-size="6.5" font-weight="bold" fill="#222">PMMA-1</text>
<circle cx="501.20" cy="108.60" r="1.15" fill="none" stroke="#3f5cf2" stroke-width="1.0"/>
<text x="511.2" y="110.80" font-size="6.5" font-weight="bold" fill="#222">PMMA-2</text>
<rect x="500.05" y="116.75" width="2.30" height="2.30" rx="0.3" fill="none" stroke="#2f9c90" stroke-width="1.0"/>
<text x="511.2" y="120.10" font-size="6.5" font-weight="bold" fill="#222">PMMA-3</text>
</g>
<g>
<clipPath id="cd"><rect x="31.2" y="159.5" width="144.5" height="115.10000000000002"/></clipPath>
<g clip-path="url(#cd)">
<line x1="43.00" y1="274.60" x2="180.70" y2="141.19" stroke="#f5913c" stroke-width="1.05" stroke-dasharray="2.8 2"/>
<line x1="58.60" y1="274.60" x2="180.70" y2="146.84" stroke="#2626a6" stroke-width="1.05" stroke-dasharray="2.8 2"/>
<line x1="70.42" y1="274.60" x2="180.70" y2="135.69" stroke="#3c9a3c" stroke-width="1.05" stroke-dasharray="2.8 2"/>
<circle cx="31.20" cy="266.90" r="1.30" fill="none" stroke="#3c9a3c" stroke-width="0.85"/>
<circle cx="32.30" cy="266.90" r="1.30" fill="none" stroke="#3c9a3c" stroke-width="0.85"/>
<circle cx="33.42" cy="266.87" r="1.30" fill="none" stroke="#3c9a3c" stroke-width="0.85"/>
<circle cx="34.54" cy="266.84" r="1.30" fill="none" stroke="#3c9a3c" stroke-width="0.85"/>
<circle cx="35.66" cy="266.78" r="1.30" fill="none" stroke="#3c9a3c" stroke-width="0.85"/>
<circle cx="36.80" cy="266.71" r="1.30" fill="none" stroke="#3c9a3c" stroke-width="0.85"/>
<circle cx="37.94" cy="266.63" r="1.30" fill="none" stroke="#3c9a3c" stroke-width="0.85"/>
<circle cx="39.09" cy="266.53" r="1.30" fill="none" stroke="#3c9a3c" stroke-width="0.85"/>
<circle cx="40.24" cy="266.42" r="1.30" fill="none" stroke="#3c9a3c" stroke-width="0.85"/>
<circle cx="41.41" cy="266.29" r="1.30" fill="none" stroke="#3c9a3c" stroke-width="0.85"/>
<circle cx="42.58" cy="266.16" r="1.30" fill="none" stroke="#3c9a3c" stroke-width="0.85"/>
<circle cx="43.76" cy="266.01" r="1.30" fill="none" stroke="#3c9a3c" stroke-width="0.85"/>
<circle cx="44.95" cy="265.85" r="1.30" fill="none" stroke="#3c9a3c" stroke-width="0.85"/>
<circle cx="46.15" cy="265.68" r="1.30" fill="none" stroke="#3c9a3c" stroke-width="0.85"/>
<circle cx="47.35" cy="265.51" r="1.30" fill="none" stroke="#3c9a3c" stroke-width="0.85"/>
<circle cx="48.56" cy="265.32" r="1.30" fill="none" stroke="#3c9a3c" stroke-width="0.85"/>
<circle cx="49.78" cy="265.13" r="1.30" fill="none" stroke="#3c9a3c" stroke-width="0.85"/>
<circle cx="51.01" cy="264.94" r="1.30" fill="none" stroke="#3c9a3c" stroke-width="0.85"/>
<circle cx="52.25" cy="264.74" r="1.30" fill="none" stroke="#3c9a3c" stroke-width="0.85"/>
<circle cx="53.50" cy="264.53" r="1.30" fill="none" stroke="#3c9a3c" stroke-width="0.85"/>
<circle cx="54.75" cy="264.31" r="1.30" fill="none" stroke="#3c9a3c" stroke-width="0.85"/>
<circle cx="56.02" cy="264.06" r="1.30" fill="none" stroke="#3c9a3c" stroke-width="0.85"/>
<circle cx="57.29" cy="263.76" r="1.30" fill="none" stroke="#3c9a3c" stroke-width="0.85"/>
<circle cx="58.57" cy="263.43" r="1.30" fill="none" stroke="#3c9a3c" stroke-width="0.85"/>
<circle cx="59.87" cy="263.06" r="1.30" fill="none" stroke="#3c9a3c" stroke-width="0.85"/>
<circle cx="61.17" cy="262.66" r="1.30" fill="none" stroke="#3c9a3c" stroke-width="0.85"/>
<circle cx="62.48" cy="262.23" r="1.30" fill="none" stroke="#3c9a3c" stroke-width="0.85"/>
<circle cx="63.79" cy="261.77" r="1.30" fill="none" stroke="#3c9a3c" stroke-width="0.85"/>
<circle cx="65.12" cy="261.26" r="1.30" fill="none" stroke="#3c9a3c" stroke-width="0.85"/>
<circle cx="66.46" cy="260.66" r="1.30" fill="none" stroke="#3c9a3c" stroke-width="0.85"/>
<circle cx="67.81" cy="259.99" r="1.30" fill="none" stroke="#3c9a3c" stroke-width="0.85"/>
<circle cx="69.17" cy="259.24" r="1.30" fill="none" stroke="#3c9a3c" stroke-width="0.85"/>
<circle cx="70.53" cy="258.44" r="1.30" fill="none" stroke="#3c9a3c" stroke-width="0.85"/>
<circle cx="71.91" cy="257.60" r="1.30" fill="none" stroke="#3c9a3c" stroke-width="0.85"/>
<circle cx="73.30" cy="256.72" r="1.30" fill="none" stroke="#3c9a3c" stroke-width="0.85"/>
<circle cx="74.70" cy="255.81" r="1.30" fill="none" stroke="#3c9a3c" stroke-width="0.85"/>
<circle cx="76.10" cy="254.90" r="1.30" fill="none" stroke="#3c9a3c" stroke-width="0.85"/>
<circle cx="77.52" cy="254.00" r="1.30" fill="none" stroke="#3c9a3c" stroke-width="0.85"/>
<circle cx="78.95" cy="253.11" r="1.30" fill="none" stroke="#3c9a3c" stroke-width="0.85"/>
<circle cx="80.39" cy="252.26" r="1.30" fill="none" stroke="#3c9a3c" stroke-width="0.85"/>
<circle cx="81.84" cy="251.42" r="1.30" fill="none" stroke="#3c9a3c" stroke-width="0.85"/>
<circle cx="83.30" cy="250.59" r="1.30" fill="none" stroke="#3c9a3c" stroke-width="0.85"/>
<circle cx="84.77" cy="249.75" r="1.30" fill="none" stroke="#3c9a3c" stroke-width="0.85"/>
<circle cx="86.26" cy="248.87" r="1.30" fill="none" stroke="#3c9a3c" stroke-width="0.85"/>
<circle cx="87.75" cy="247.95" r="1.30" fill="none" stroke="#3c9a3c" stroke-width="0.85"/>
<circle cx="89.26" cy="246.95" r="1.30" fill="none" stroke="#3c9a3c" stroke-width="0.85"/>
<circle cx="90.78" cy="245.87" r="1.30" fill="none" stroke="#3c9a3c" stroke-width="0.85"/>
<circle cx="92.31" cy="244.67" r="1.30" fill="none" stroke="#3c9a3c" stroke-width="0.85"/>
<circle cx="93.85" cy="243.28" r="1.30" fill="none" stroke="#3c9a3c" stroke-width="0.85"/>
<circle cx="95.40" cy="241.70" r="1.30" fill="none" stroke="#3c9a3c" stroke-width="0.85"/>
<circle cx="96.97" cy="239.99" r="1.30" fill="none" stroke="#3c9a3c" stroke-width="0.85"/>
<circle cx="98.54" cy="238.17" r="1.30" fill="none" stroke="#3c9a3c" stroke-width="0.85"/>
<circle cx="100.13" cy="236.30" r="1.30" fill="none" stroke="#3c9a3c" stroke-width="0.85"/>
<circle cx="101.74" cy="234.43" r="1.30" fill="none" stroke="#3c9a3c" stroke-width="0.85"/>
<circle cx="103.35" cy="232.57" r="1.30" fill="none" stroke="#3c9a3c" stroke-width="0.85"/>
<circle cx="104.98" cy="230.64" r="1.30" fill="none" stroke="#3c9a3c" stroke-width="0.85"/>
<circle cx="106.62" cy="228.65" r="1.30" fill="none" stroke="#3c9a3c" stroke-width="0.85"/>
<circle cx="108.27" cy="226.61" r="1.30" fill="none" stroke="#3c9a3c" stroke-width="0.85"/>
<circle cx="109.94" cy="224.52" r="1.30" fill="none" stroke="#3c9a3c" stroke-width="0.85"/>
<circle cx="111.62" cy="222.38" r="1.30" fill="none" stroke="#3c9a3c" stroke-width="0.85"/>
<circle cx="113.32" cy="220.19" r="1.30" fill="none" stroke="#3c9a3c" stroke-width="0.85"/>
<circle cx="115.02" cy="217.96" r="1.30" fill="none" stroke="#3c9a3c" stroke-width="0.85"/>
<circle cx="116.75" cy="215.70" r="1.30" fill="none" stroke="#3c9a3c" stroke-width="0.85"/>
<circle cx="118.48" cy="213.40" r="1.30" fill="none" stroke="#3c9a3c" stroke-width="0.85"/>
<circle cx="120.23" cy="211.09" r="1.30" fill="none" stroke="#3c9a3c" stroke-width="0.85"/>
<circle cx="122.00" cy="208.70" r="1.30" fill="none" stroke="#3c9a3c" stroke-width="0.85"/>
<circle cx="123.78" cy="206.23" r="1.30" fill="none" stroke="#3c9a3c" stroke-width="0.85"/>
<circle cx="125.57" cy="203.73" r="1.30" fill="none" stroke="#3c9a3c" stroke-width="0.85"/>
<circle cx="127.38" cy="201.29" r="1.30" fill="none" stroke="#3c9a3c" stroke-width="0.85"/>
<circle cx="129.20" cy="198.96" r="1.30" fill="none" stroke="#3c9a3c" stroke-width="0.85"/>
<circle cx="131.04" cy="196.80" r="1.30" fill="none" stroke="#3c9a3c" stroke-width="0.85"/>
<circle cx="132.90" cy="194.76" r="1.30" fill="none" stroke="#3c9a3c" stroke-width="0.85"/>
<circle cx="134.77" cy="192.81" r="1.30" fill="none" stroke="#3c9a3c" stroke-width="0.85"/>
<circle cx="136.66" cy="190.90" r="1.30" fill="none" stroke="#3c9a3c" stroke-width="0.85"/>
<circle cx="138.56" cy="188.99" r="1.30" fill="none" stroke="#3c9a3c" stroke-width="0.85"/>
<circle cx="140.48" cy="187.04" r="1.30" fill="none" stroke="#3c9a3c" stroke-width="0.85"/>
<circle cx="142.42" cy="184.93" r="1.30" fill="none" stroke="#3c9a3c" stroke-width="0.85"/>
<circle cx="144.37" cy="182.62" r="1.30" fill="none" stroke="#3c9a3c" stroke-width="0.85"/>
<circle cx="146.34" cy="180.36" r="1.30" fill="none" stroke="#3c9a3c" stroke-width="0.85"/>
<circle cx="148.33" cy="178.42" r="1.30" fill="none" stroke="#3c9a3c" stroke-width="0.85"/>
<circle cx="150.34" cy="177.06" r="1.30" fill="none" stroke="#3c9a3c" stroke-width="0.85"/>
<circle cx="152.36" cy="175.96" r="1.30" fill="none" stroke="#3c9a3c" stroke-width="0.85"/>
<circle cx="154.40" cy="175.01" r="1.30" fill="none" stroke="#3c9a3c" stroke-width="0.85"/>
<circle cx="156.46" cy="174.22" r="1.30" fill="none" stroke="#3c9a3c" stroke-width="0.85"/>
<circle cx="158.54" cy="173.59" r="1.30" fill="none" stroke="#3c9a3c" stroke-width="0.85"/>
<circle cx="160.63" cy="173.11" r="1.30" fill="none" stroke="#3c9a3c" stroke-width="0.85"/>
<circle cx="162.75" cy="172.70" r="1.30" fill="none" stroke="#3c9a3c" stroke-width="0.85"/>
<circle cx="164.88" cy="172.36" r="1.30" fill="none" stroke="#3c9a3c" stroke-width="0.85"/>
<circle cx="167.04" cy="172.08" r="1.30" fill="none" stroke="#3c9a3c" stroke-width="0.85"/>
<circle cx="169.21" cy="171.87" r="1.30" fill="none" stroke="#3c9a3c" stroke-width="0.85"/>
<circle cx="171.41" cy="171.70" r="1.30" fill="none" stroke="#3c9a3c" stroke-width="0.85"/>
<circle cx="173.62" cy="171.57" r="1.30" fill="none" stroke="#3c9a3c" stroke-width="0.85"/>
<circle cx="175.85" cy="171.50" r="1.30" fill="none" stroke="#3c9a3c" stroke-width="0.85"/>
<path d="M31.20 262.10L32.63 264.72L29.77 264.72Z" fill="none" stroke="#2626a6" stroke-width="0.85"/>
<path d="M32.30 262.10L33.73 264.72L30.87 264.72Z" fill="none" stroke="#2626a6" stroke-width="0.85"/>
<path d="M33.42 262.08L34.85 264.70L31.99 264.70Z" fill="none" stroke="#2626a6" stroke-width="0.85"/>
<path d="M34.54 262.04L35.97 264.66L33.11 264.66Z" fill="none" stroke="#2626a6" stroke-width="0.85"/>
<path d="M35.66 261.98L37.09 264.60L34.23 264.60Z" fill="none" stroke="#2626a6" stroke-width="0.85"/>
<path d="M36.80 261.91L38.23 264.53L35.37 264.53Z" fill="none" stroke="#2626a6" stroke-width="0.85"/>
<path d="M37.94 261.82L39.37 264.44L36.51 264.44Z" fill="none" stroke="#2626a6" stroke-width="0.85"/>
<path d="M39.09 261.72L40.52 264.33L37.66 264.33Z" fill="none" stroke="#2626a6" stroke-width="0.85"/>
<path d="M40.24 261.60L41.67 264.21L38.81 264.21Z" fill="none" stroke="#2626a6" stroke-width="0.85"/>
<path d="M41.41 261.46L42.84 264.08L39.98 264.08Z" fill="none" stroke="#2626a6" stroke-width="0.85"/>
<path d="M42.58 261.31L44.01 263.93L41.15 263.93Z" fill="none" stroke="#2626a6" stroke-width="0.85"/>
<path d="M43.76 261.14L45.19 263.76L42.33 263.76Z" fill="none" stroke="#2626a6" stroke-width="0.85"/>
<path d="M44.95 260.96L46.38 263.58L43.52 263.58Z" fill="none" stroke="#2626a6" stroke-width="0.85"/>
<path d="M46.15 260.77L47.58 263.39L44.72 263.39Z" fill="none" stroke="#2626a6" stroke-width="0.85"/>
<path d="M47.35 260.56L48.78 263.18L45.92 263.18Z" fill="none" stroke="#2626a6" stroke-width="0.85"/>
<path d="M48.56 260.34L49.99 262.96L47.13 262.96Z" fill="none" stroke="#2626a6" stroke-width="0.85"/>
<path d="M49.78 260.11L51.21 262.73L48.35 262.73Z" fill="none" stroke="#2626a6" stroke-width="0.85"/>
<path d="M51.01 259.87L52.44 262.48L49.58 262.48Z" fill="none" stroke="#2626a6" stroke-width="0.85"/>
<path d="M52.25 259.61L53.68 262.23L50.82 262.23Z" fill="none" stroke="#2626a6" stroke-width="0.85"/>
<path d="M53.50 259.35L54.93 261.96L52.07 261.96Z" fill="none" stroke="#2626a6" stroke-width="0.85"/>
<path d="M54.75 259.02L56.18 261.63L53.32 261.63Z" fill="none" stroke="#2626a6" stroke-width="0.85"/>
<path d="M56.02 258.54L57.45 261.15L54.59 261.15Z" fill="none" stroke="#2626a6" stroke-width="0.85"/>
<path d="M57.29 257.92L58.72 260.53L55.86 260.53Z" fill="none" stroke="#2626a6" stroke-width="0.85"/>
<path d="M58.57 257.18L60.00 259.80L57.14 259.80Z" fill="none" stroke="#2626a6" stroke-width="0.85"/>
<path d="M59.87 256.35L61.30 258.97L58.44 258.97Z" fill="none" stroke="#2626a6" stroke-width="0.85"/>
<path d="M61.17 255.45L62.60 258.06L59.74 258.06Z" fill="none" stroke="#2626a6" stroke-width="0.85"/>
<path d="M62.48 254.49L63.91 257.11L61.05 257.11Z" fill="none" stroke="#2626a6" stroke-width="0.85"/>
<path d="M63.79 253.51L65.22 256.12L62.36 256.12Z" fill="none" stroke="#2626a6" stroke-width="0.85"/>
<path d="M65.12 252.52L66.55 255.13L63.69 255.13Z" fill="none" stroke="#2626a6" stroke-width="0.85"/>
<path d="M66.46 251.55L67.89 254.17L65.03 254.17Z" fill="none" stroke="#2626a6" stroke-width="0.85"/>
<path d="M67.81 250.64L69.24 253.26L66.38 253.26Z" fill="none" stroke="#2626a6" stroke-width="0.85"/>
<path d="M69.17 249.80L70.60 252.42L67.74 252.42Z" fill="none" stroke="#2626a6" stroke-width="0.85"/>
<path d="M70.53 249.06L71.96 251.68L69.10 251.68Z" fill="none" stroke="#2626a6" stroke-width="0.85"/>
<path d="M71.91 248.36L73.34 250.97L70.48 250.97Z" fill="none" stroke="#2626a6" stroke-width="0.85"/>
<path d="M73.30 247.68L74.73 250.29L71.87 250.29Z" fill="none" stroke="#2626a6" stroke-width="0.85"/>
<path d="M74.70 247.01L76.13 249.63L73.27 249.63Z" fill="none" stroke="#2626a6" stroke-width="0.85"/>
<path d="M76.10 246.36L77.53 248.97L74.67 248.97Z" fill="none" stroke="#2626a6" stroke-width="0.85"/>
<path d="M77.52 245.70L78.95 248.31L76.09 248.31Z" fill="none" stroke="#2626a6" stroke-width="0.85"/>
<path d="M78.95 245.02L80.38 247.64L77.52 247.64Z" fill="none" stroke="#2626a6" stroke-width="0.85"/>
<path d="M80.39 244.32L81.82 246.93L78.96 246.93Z" fill="none" stroke="#2626a6" stroke-width="0.85"/>
<path d="M81.84 243.58L83.27 246.19L80.41 246.19Z" fill="none" stroke="#2626a6" stroke-width="0.85"/>
<path d="M83.30 242.78L84.73 245.40L81.87 245.40Z" fill="none" stroke="#2626a6" stroke-width="0.85"/>
<path d="M84.77 241.98L86.20 244.59L83.34 244.59Z" fill="none" stroke="#2626a6" stroke-width="0.85"/>
<path d="M86.26 241.16L87.69 243.78L84.83 243.78Z" fill="none" stroke="#2626a6" stroke-width="0.85"/>
<path d="M87.75 240.32L89.18 242.94L86.32 242.94Z" fill="none" stroke="#2626a6" stroke-width="0.85"/>
<path d="M89.26 239.44L90.69 242.06L87.83 242.06Z" fill="none" stroke="#2626a6" stroke-width="0.85"/>
<path d="M90.78 238.51L92.21 241.13L89.35 241.13Z" fill="none" stroke="#2626a6" stroke-width="0.85"/>
<path d="M92.31 237.51L93.74 240.13L90.88 240.13Z" fill="none" stroke="#2626a6" stroke-width="0.85"/>
<path d="M93.85 236.43L95.28 239.05L92.42 239.05Z" fill="none" stroke="#2626a6" stroke-width="0.85"/>
<path d="M95.40 235.25L96.83 237.86L93.97 237.86Z" fill="none" stroke="#2626a6" stroke-width="0.85"/>
<path d="M96.97 233.92L98.40 236.53L95.54 236.53Z" fill="none" stroke="#2626a6" stroke-width="0.85"/>
<path d="M98.54 232.39L99.97 235.01L97.11 235.01Z" fill="none" stroke="#2626a6" stroke-width="0.85"/>
<path d="M100.13 230.69L101.56 233.31L98.70 233.31Z" fill="none" stroke="#2626a6" stroke-width="0.85"/>
<path d="M101.74 228.85L103.17 231.46L100.31 231.46Z" fill="none" stroke="#2626a6" stroke-width="0.85"/>
<path d="M103.35 226.89L104.78 229.50L101.92 229.50Z" fill="none" stroke="#2626a6" stroke-width="0.85"/>
<path d="M104.98 224.84L106.41 227.46L103.55 227.46Z" fill="none" stroke="#2626a6" stroke-width="0.85"/>
<path d="M106.62 222.74L108.05 225.36L105.19 225.36Z" fill="none" stroke="#2626a6" stroke-width="0.85"/>
<path d="M108.27 220.62L109.70 223.24L106.84 223.24Z" fill="none" stroke="#2626a6" stroke-width="0.85"/>
<path d="M109.94 218.43L111.37 221.05L108.51 221.05Z" fill="none" stroke="#2626a6" stroke-width="0.85"/>
<path d="M111.62 216.06L113.05 218.68L110.19 218.68Z" fill="none" stroke="#2626a6" stroke-width="0.85"/>
<path d="M113.32 213.57L114.75 216.19L111.89 216.19Z" fill="none" stroke="#2626a6" stroke-width="0.85"/>
<path d="M115.02 211.02L116.45 213.63L113.59 213.63Z" fill="none" stroke="#2626a6" stroke-width="0.85"/>
<path d="M116.75 208.48L118.18 211.09L115.32 211.09Z" fill="none" stroke="#2626a6" stroke-width="0.85"/>
<path d="M118.48 206.01L119.91 208.63L117.05 208.63Z" fill="none" stroke="#2626a6" stroke-width="0.85"/>
<path d="M120.23 203.71L121.66 206.33L118.80 206.33Z" fill="none" stroke="#2626a6" stroke-width="0.85"/>
<path d="M122.00 201.52L123.43 204.14L120.57 204.14Z" fill="none" stroke="#2626a6" stroke-width="0.85"/>
<path d="M123.78 199.39L125.21 202.01L122.35 202.01Z" fill="none" stroke="#2626a6" stroke-width="0.85"/>
<path d="M125.57 197.32L127.00 199.93L124.14 199.93Z" fill="none" stroke="#2626a6" stroke-width="0.85"/>
<path d="M127.38 195.30L128.81 197.92L125.95 197.92Z" fill="none" stroke="#2626a6" stroke-width="0.85"/>
<path d="M129.20 193.34L130.63 195.96L127.77 195.96Z" fill="none" stroke="#2626a6" stroke-width="0.85"/>
<path d="M131.04 191.44L132.47 194.05L129.61 194.05Z" fill="none" stroke="#2626a6" stroke-width="0.85"/>
<path d="M132.90 189.62L134.33 192.24L131.47 192.24Z" fill="none" stroke="#2626a6" stroke-width="0.85"/>
<path d="M134.77 187.86L136.20 190.47L133.34 190.47Z" fill="none" stroke="#2626a6" stroke-width="0.85"/>
<path d="M136.66 186.12L138.09 188.73L135.23 188.73Z" fill="none" stroke="#2626a6" stroke-width="0.85"/>
<path d="M138.56 184.36L139.99 186.97L137.13 186.97Z" fill="none" stroke="#2626a6" stroke-width="0.85"/>
<path d="M140.48 182.54L141.91 185.16L139.05 185.16Z" fill="none" stroke="#2626a6" stroke-width="0.85"/>
<path d="M142.42 180.59L143.85 183.21L140.99 183.21Z" fill="none" stroke="#2626a6" stroke-width="0.85"/>
<path d="M144.37 178.58L145.80 181.20L142.94 181.20Z" fill="none" stroke="#2626a6" stroke-width="0.85"/>
<path d="M146.34 176.61L147.77 179.23L144.91 179.23Z" fill="none" stroke="#2626a6" stroke-width="0.85"/>
<path d="M148.33 174.81L149.76 177.43L146.90 177.43Z" fill="none" stroke="#2626a6" stroke-width="0.85"/>
<path d="M150.34 173.27L151.77 175.89L148.91 175.89Z" fill="none" stroke="#2626a6" stroke-width="0.85"/>
<path d="M152.36 171.89L153.79 174.51L150.93 174.51Z" fill="none" stroke="#2626a6" stroke-width="0.85"/>
<path d="M154.40 170.62L155.83 173.23L152.97 173.23Z" fill="none" stroke="#2626a6" stroke-width="0.85"/>
<path d="M156.46 169.45L157.89 172.06L155.03 172.06Z" fill="none" stroke="#2626a6" stroke-width="0.85"/>
<path d="M158.54 168.37L159.97 170.99L157.11 170.99Z" fill="none" stroke="#2626a6" stroke-width="0.85"/>
<path d="M160.63 167.39L162.06 170.00L159.20 170.00Z" fill="none" stroke="#2626a6" stroke-width="0.85"/>
<path d="M162.75 166.48L164.18 169.09L161.32 169.09Z" fill="none" stroke="#2626a6" stroke-width="0.85"/>
<path d="M164.88 165.63L166.31 168.25L163.45 168.25Z" fill="none" stroke="#2626a6" stroke-width="0.85"/>
<path d="M167.04 164.84L168.47 167.46L165.61 167.46Z" fill="none" stroke="#2626a6" stroke-width="0.85"/>
<path d="M169.21 164.10L170.64 166.72L167.78 166.72Z" fill="none" stroke="#2626a6" stroke-width="0.85"/>
<path d="M171.41 163.40L172.84 166.02L169.98 166.02Z" fill="none" stroke="#2626a6" stroke-width="0.85"/>
<path d="M173.62 162.76L175.05 165.37L172.19 165.37Z" fill="none" stroke="#2626a6" stroke-width="0.85"/>
<path d="M175.85 162.17L177.28 164.78L174.42 164.78Z" fill="none" stroke="#2626a6" stroke-width="0.85"/>
<rect x="30.00" y="259.70" width="2.40" height="2.40" rx="0.3" fill="none" stroke="#f5913c" stroke-width="0.85"/>
<rect x="31.10" y="259.70" width="2.40" height="2.40" rx="0.3" fill="none" stroke="#f5913c" stroke-width="0.85"/>
<rect x="32.22" y="259.68" width="2.40" height="2.40" rx="0.3" fill="none" stroke="#f5913c" stroke-width="0.85"/>
<rect x="33.34" y="259.64" width="2.40" height="2.40" rx="0.3" fill="none" stroke="#f5913c" stroke-width="0.85"/>
<rect x="34.46" y="259.59" width="2.40" height="2.40" rx="0.3" fill="none" stroke="#f5913c" stroke-width="0.85"/>
<rect x="35.60" y="259.52" width="2.40" height="2.40" rx="0.3" fill="none" stroke="#f5913c" stroke-width="0.85"/>
<rect x="36.74" y="259.44" width="2.40" height="2.40" rx="0.3" fill="none" stroke="#f5913c" stroke-width="0.85"/>
<rect x="37.89" y="259.34" width="2.40" height="2.40" rx="0.3" fill="none" stroke="#f5913c" stroke-width="0.85"/>
<rect x="39.04" y="259.23" width="2.40" height="2.40" rx="0.3" fill="none" stroke="#f5913c" stroke-width="0.85"/>
<rect x="40.21" y="259.10" width="2.40" height="2.40" rx="0.3" fill="none" stroke="#f5913c" stroke-width="0.85"/>
<rect x="41.38" y="258.96" width="2.40" height="2.40" rx="0.3" fill="none" stroke="#f5913c" stroke-width="0.85"/>
<rect x="42.56" y="258.81" width="2.40" height="2.40" rx="0.3" fill="none" stroke="#f5913c" stroke-width="0.85"/>
<rect x="43.75" y="258.64" width="2.40" height="2.40" rx="0.3" fill="none" stroke="#f5913c" stroke-width="0.85"/>
<rect x="44.95" y="258.46" width="2.40" height="2.40" rx="0.3" fill="none" stroke="#f5913c" stroke-width="0.85"/>
<rect x="46.15" y="258.27" width="2.40" height="2.40" rx="0.3" fill="none" stroke="#f5913c" stroke-width="0.85"/>
<rect x="47.36" y="258.07" width="2.40" height="2.40" rx="0.3" fill="none" stroke="#f5913c" stroke-width="0.85"/>
<rect x="48.58" y="257.85" width="2.40" height="2.40" rx="0.3" fill="none" stroke="#f5913c" stroke-width="0.85"/>
<rect x="49.81" y="257.63" width="2.40" height="2.40" rx="0.3" fill="none" stroke="#f5913c" stroke-width="0.85"/>
<rect x="51.05" y="257.39" width="2.40" height="2.40" rx="0.3" fill="none" stroke="#f5913c" stroke-width="0.85"/>
<rect x="52.30" y="257.14" width="2.40" height="2.40" rx="0.3" fill="none" stroke="#f5913c" stroke-width="0.85"/>
<rect x="53.55" y="256.85" width="2.40" height="2.40" rx="0.3" fill="none" stroke="#f5913c" stroke-width="0.85"/>
<rect x="54.82" y="256.47" width="2.40" height="2.40" rx="0.3" fill="none" stroke="#f5913c" stroke-width="0.85"/>
<rect x="56.09" y="255.99" width="2.40" height="2.40" rx="0.3" fill="none" stroke="#f5913c" stroke-width="0.85"/>
<rect x="57.37" y="255.42" width="2.40" height="2.40" rx="0.3" fill="none" stroke="#f5913c" stroke-width="0.85"/>
<rect x="58.67" y="254.77" width="2.40" height="2.40" rx="0.3" fill="none" stroke="#f5913c" stroke-width="0.85"/>
<rect x="59.97" y="254.04" width="2.40" height="2.40" rx="0.3" fill="none" stroke="#f5913c" stroke-width="0.85"/>
<rect x="61.28" y="253.24" width="2.40" height="2.40" rx="0.3" fill="none" stroke="#f5913c" stroke-width="0.85"/>
<rect x="62.59" y="252.37" width="2.40" height="2.40" rx="0.3" fill="none" stroke="#f5913c" stroke-width="0.85"/>
<rect x="63.92" y="251.36" width="2.40" height="2.40" rx="0.3" fill="none" stroke="#f5913c" stroke-width="0.85"/>
<rect x="65.26" y="250.09" width="2.40" height="2.40" rx="0.3" fill="none" stroke="#f5913c" stroke-width="0.85"/>
<rect x="66.61" y="248.59" width="2.40" height="2.40" rx="0.3" fill="none" stroke="#f5913c" stroke-width="0.85"/>
<rect x="67.97" y="246.87" width="2.40" height="2.40" rx="0.3" fill="none" stroke="#f5913c" stroke-width="0.85"/>
<rect x="69.33" y="244.95" width="2.40" height="2.40" rx="0.3" fill="none" stroke="#f5913c" stroke-width="0.85"/>
<rect x="70.71" y="242.77" width="2.40" height="2.40" rx="0.3" fill="none" stroke="#f5913c" stroke-width="0.85"/>
<rect x="72.10" y="239.84" width="2.40" height="2.40" rx="0.3" fill="none" stroke="#f5913c" stroke-width="0.85"/>
<rect x="73.50" y="236.42" width="2.40" height="2.40" rx="0.3" fill="none" stroke="#f5913c" stroke-width="0.85"/>
<rect x="74.90" y="232.93" width="2.40" height="2.40" rx="0.3" fill="none" stroke="#f5913c" stroke-width="0.85"/>
<rect x="76.32" y="229.84" width="2.40" height="2.40" rx="0.3" fill="none" stroke="#f5913c" stroke-width="0.85"/>
<rect x="77.75" y="227.20" width="2.40" height="2.40" rx="0.3" fill="none" stroke="#f5913c" stroke-width="0.85"/>
<rect x="79.19" y="224.70" width="2.40" height="2.40" rx="0.3" fill="none" stroke="#f5913c" stroke-width="0.85"/>
<rect x="80.64" y="222.51" width="2.40" height="2.40" rx="0.3" fill="none" stroke="#f5913c" stroke-width="0.85"/>
<rect x="82.10" y="220.77" width="2.40" height="2.40" rx="0.3" fill="none" stroke="#f5913c" stroke-width="0.85"/>
<rect x="83.57" y="219.32" width="2.40" height="2.40" rx="0.3" fill="none" stroke="#f5913c" stroke-width="0.85"/>
<rect x="85.06" y="218.06" width="2.40" height="2.40" rx="0.3" fill="none" stroke="#f5913c" stroke-width="0.85"/>
<rect x="86.55" y="216.96" width="2.40" height="2.40" rx="0.3" fill="none" stroke="#f5913c" stroke-width="0.85"/>
<rect x="88.06" y="216.02" width="2.40" height="2.40" rx="0.3" fill="none" stroke="#f5913c" stroke-width="0.85"/>
<rect x="89.58" y="215.23" width="2.40" height="2.40" rx="0.3" fill="none" stroke="#f5913c" stroke-width="0.85"/>
<rect x="91.11" y="214.56" width="2.40" height="2.40" rx="0.3" fill="none" stroke="#f5913c" stroke-width="0.85"/>
<rect x="92.65" y="213.94" width="2.40" height="2.40" rx="0.3" fill="none" stroke="#f5913c" stroke-width="0.85"/>
<rect x="94.20" y="213.32" width="2.40" height="2.40" rx="0.3" fill="none" stroke="#f5913c" stroke-width="0.85"/>
<rect x="95.77" y="212.70" width="2.40" height="2.40" rx="0.3" fill="none" stroke="#f5913c" stroke-width="0.85"/>
<rect x="97.34" y="212.11" width="2.40" height="2.40" rx="0.3" fill="none" stroke="#f5913c" stroke-width="0.85"/>
<rect x="98.93" y="211.50" width="2.40" height="2.40" rx="0.3" fill="none" stroke="#f5913c" stroke-width="0.85"/>
<rect x="100.54" y="210.82" width="2.40" height="2.40" rx="0.3" fill="none" stroke="#f5913c" stroke-width="0.85"/>
<rect x="102.15" y="210.01" width="2.40" height="2.40" rx="0.3" fill="none" stroke="#f5913c" stroke-width="0.85"/>
<rect x="103.78" y="209.08" width="2.40" height="2.40" rx="0.3" fill="none" stroke="#f5913c" stroke-width="0.85"/>
<rect x="105.42" y="208.03" width="2.40" height="2.40" rx="0.3" fill="none" stroke="#f5913c" stroke-width="0.85"/>
<rect x="107.07" y="206.85" width="2.40" height="2.40" rx="0.3" fill="none" stroke="#f5913c" stroke-width="0.85"/>
<rect x="108.74" y="205.47" width="2.40" height="2.40" rx="0.3" fill="none" stroke="#f5913c" stroke-width="0.85"/>
<rect x="110.42" y="203.82" width="2.40" height="2.40" rx="0.3" fill="none" stroke="#f5913c" stroke-width="0.85"/>
<rect x="112.12" y="202.08" width="2.40" height="2.40" rx="0.3" fill="none" stroke="#f5913c" stroke-width="0.85"/>
<rect x="113.82" y="200.40" width="2.40" height="2.40" rx="0.3" fill="none" stroke="#f5913c" stroke-width="0.85"/>
<rect x="115.55" y="198.74" width="2.40" height="2.40" rx="0.3" fill="none" stroke="#f5913c" stroke-width="0.85"/>
<rect x="117.28" y="197.06" width="2.40" height="2.40" rx="0.3" fill="none" stroke="#f5913c" stroke-width="0.85"/>
<rect x="119.03" y="195.37" width="2.40" height="2.40" rx="0.3" fill="none" stroke="#f5913c" stroke-width="0.85"/>
<rect x="120.80" y="193.69" width="2.40" height="2.40" rx="0.3" fill="none" stroke="#f5913c" stroke-width="0.85"/>
<rect x="122.58" y="192.01" width="2.40" height="2.40" rx="0.3" fill="none" stroke="#f5913c" stroke-width="0.85"/>
<rect x="124.37" y="190.34" width="2.40" height="2.40" rx="0.3" fill="none" stroke="#f5913c" stroke-width="0.85"/>
<rect x="126.18" y="188.67" width="2.40" height="2.40" rx="0.3" fill="none" stroke="#f5913c" stroke-width="0.85"/>
<rect x="128.00" y="187.00" width="2.40" height="2.40" rx="0.3" fill="none" stroke="#f5913c" stroke-width="0.85"/>
<rect x="129.84" y="185.33" width="2.40" height="2.40" rx="0.3" fill="none" stroke="#f5913c" stroke-width="0.85"/>
<rect x="131.70" y="183.66" width="2.40" height="2.40" rx="0.3" fill="none" stroke="#f5913c" stroke-width="0.85"/>
<rect x="133.57" y="182.00" width="2.40" height="2.40" rx="0.3" fill="none" stroke="#f5913c" stroke-width="0.85"/>
<rect x="135.46" y="180.30" width="2.40" height="2.40" rx="0.3" fill="none" stroke="#f5913c" stroke-width="0.85"/>
<rect x="137.36" y="178.54" width="2.40" height="2.40" rx="0.3" fill="none" stroke="#f5913c" stroke-width="0.85"/>
<rect x="139.28" y="176.74" width="2.40" height="2.40" rx="0.3" fill="none" stroke="#f5913c" stroke-width="0.85"/>
<rect x="141.22" y="174.95" width="2.40" height="2.40" rx="0.3" fill="none" stroke="#f5913c" stroke-width="0.85"/>
<rect x="143.17" y="173.23" width="2.40" height="2.40" rx="0.3" fill="none" stroke="#f5913c" stroke-width="0.85"/>
<rect x="145.14" y="171.60" width="2.40" height="2.40" rx="0.3" fill="none" stroke="#f5913c" stroke-width="0.85"/>
<rect x="147.13" y="170.13" width="2.40" height="2.40" rx="0.3" fill="none" stroke="#f5913c" stroke-width="0.85"/>
<rect x="149.14" y="168.85" width="2.40" height="2.40" rx="0.3" fill="none" stroke="#f5913c" stroke-width="0.85"/>
<rect x="151.16" y="167.67" width="2.40" height="2.40" rx="0.3" fill="none" stroke="#f5913c" stroke-width="0.85"/>
<rect x="153.20" y="166.58" width="2.40" height="2.40" rx="0.3" fill="none" stroke="#f5913c" stroke-width="0.85"/>
<rect x="155.26" y="165.60" width="2.40" height="2.40" rx="0.3" fill="none" stroke="#f5913c" stroke-width="0.85"/>
<rect x="157.34" y="164.77" width="2.40" height="2.40" rx="0.3" fill="none" stroke="#f5913c" stroke-width="0.85"/>
<rect x="159.43" y="164.07" width="2.40" height="2.40" rx="0.3" fill="none" stroke="#f5913c" stroke-width="0.85"/>
<rect x="161.55" y="163.45" width="2.40" height="2.40" rx="0.3" fill="none" stroke="#f5913c" stroke-width="0.85"/>
<rect x="163.68" y="162.90" width="2.40" height="2.40" rx="0.3" fill="none" stroke="#f5913c" stroke-width="0.85"/>
<rect x="165.84" y="162.43" width="2.40" height="2.40" rx="0.3" fill="none" stroke="#f5913c" stroke-width="0.85"/>
<rect x="168.01" y="162.05" width="2.40" height="2.40" rx="0.3" fill="none" stroke="#f5913c" stroke-width="0.85"/>
<rect x="170.21" y="161.73" width="2.40" height="2.40" rx="0.3" fill="none" stroke="#f5913c" stroke-width="0.85"/>
<rect x="172.42" y="161.47" width="2.40" height="2.40" rx="0.3" fill="none" stroke="#f5913c" stroke-width="0.85"/>
<rect x="174.65" y="161.29" width="2.40" height="2.40" rx="0.3" fill="none" stroke="#f5913c" stroke-width="0.85"/>
</g>
<rect x="40.5" y="164.5" width="61.5" height="45.0" fill="#fff" stroke="#6a6a6a" stroke-width="0.6"/>
<line x1="39.5" y1="208.60" x2="40.5" y2="208.60" stroke="#666" stroke-width="0.4"/>
<rect x="35.70" y="208.00" width="2.6" height="1.1" fill="#b5b5b5"/>
<line x1="39.5" y1="197.80" x2="40.5" y2="197.80" stroke="#666" stroke-width="0.4"/>
<rect x="35.70" y="197.20" width="2.6" height="1.1" fill="#b5b5b5"/>
<line x1="39.5" y1="186.50" x2="40.5" y2="186.50" stroke="#666" stroke-width="0.4"/>
<rect x="35.70" y="185.90" width="2.6" height="1.1" fill="#b5b5b5"/>
<line x1="39.5" y1="175.30" x2="40.5" y2="175.30" stroke="#666" stroke-width="0.4"/>
<rect x="35.70" y="174.70" width="2.6" height="1.1" fill="#b5b5b5"/>
<line x1="39.5" y1="164.00" x2="40.5" y2="164.00" stroke="#666" stroke-width="0.4"/>
<rect x="35.70" y="163.40" width="2.6" height="1.1" fill="#b5b5b5"/>
<line x1="41.30" y1="209.5" x2="41.30" y2="210.5" stroke="#666" stroke-width="0.4"/>
<rect x="39.20" y="211.70" width="4.2" height="1.2" fill="#bdbdbd"/>
<line x1="50.30" y1="209.5" x2="50.30" y2="210.5" stroke="#666" stroke-width="0.4"/>
<rect x="48.20" y="211.70" width="4.2" height="1.2" fill="#bdbdbd"/>
<line x1="59.30" y1="209.5" x2="59.30" y2="210.5" stroke="#666" stroke-width="0.4"/>
<rect x="57.20" y="211.70" width="4.2" height="1.2" fill="#bdbdbd"/>
<line x1="68.30" y1="209.5" x2="68.30" y2="210.5" stroke="#666" stroke-width="0.4"/>
<rect x="66.20" y="211.70" width="4.2" height="1.2" fill="#bdbdbd"/>
<line x1="78.40" y1="209.5" x2="78.40" y2="210.5" stroke="#666" stroke-width="0.4"/>
<rect x="76.30" y="211.70" width="4.2" height="1.2" fill="#bdbdbd"/>
<line x1="87.40" y1="209.5" x2="87.40" y2="210.5" stroke="#666" stroke-width="0.4"/>
<rect x="85.30" y="211.70" width="4.2" height="1.2" fill="#bdbdbd"/>
<line x1="97.60" y1="209.5" x2="97.60" y2="210.5" stroke="#666" stroke-width="0.4"/>
<rect x="95.50" y="211.70" width="4.2" height="1.2" fill="#bdbdbd"/>
<path d="M40.80 208.00L41.30 208.00L41.80 208.00L42.30 207.99L42.80 207.98L43.30 207.97L43.80 207.96L44.30 207.94L44.80 207.93L45.30 207.91L45.80 207.89L46.30 207.86L46.80 207.84L47.30 207.81L47.80 207.78L48.30 207.75L48.80 207.71L49.30 207.68L49.80 207.64L50.30 207.60L50.80 207.56L51.30 207.51L51.80 207.47L52.30 207.42L52.80 207.37L53.30 207.32L53.80 207.26L54.30 207.21L54.80 207.15L55.30 207.09L55.80 207.03L56.30 206.97L56.80 206.90L57.30 206.84L57.80 206.77L58.30 206.70L58.80 206.63L59.30 206.56L59.80 206.48L60.30 206.40L60.80 206.33L61.30 206.25L61.80 206.17L62.30 206.08L62.80 206.00L63.30 205.91L63.80 205.83L64.30 205.74L64.80 205.64L65.30 205.53L65.80 205.39L66.30 205.24L66.80 205.07L67.30 204.87L67.80 204.66L68.30 204.43L68.80 204.19L69.30 203.92L69.80 203.64L70.30 203.34L70.80 203.03L71.30 202.70L71.80 202.35L72.30 201.91L72.80 201.37L73.30 200.76L73.80 200.08L74.30 199.36L74.80 198.61L75.30 197.84L75.80 197.08L76.30 196.34L76.80 195.64L77.30 194.97L77.80 194.31L78.30 193.66L78.80 193.01L79.30 192.36L79.80 191.70L80.30 191.02L80.80 190.34L81.30 189.63L81.80 188.90L82.30 188.15L82.80 187.33L83.30 186.44L83.80 185.51L84.30 184.56L84.80 183.60L85.30 182.64L85.80 181.71L86.30 180.83L86.80 180.01L87.30 179.27L87.80 178.61L88.30 178.00L88.80 177.41L89.30 176.84L89.80 176.30L90.30 175.79L90.80 175.29L91.30 174.82L91.80 174.36L92.30 173.92L92.80 173.50L93.30 173.05L93.80 172.58L94.30 172.11L94.80 171.68L95.30 171.33L95.80 171.09L96.30 171.00L96.80 171.01L97.30 171.05L97.80 171.10L98.30 171.17L98.80 171.27L99.30 171.38L99.80 171.50L100.30 171.75L100.80 172.14" fill="none" stroke="#3c9a3c" stroke-width="1.4" stroke-linejoin="round"/>
<path d="M40.80 207.50L41.30 207.50L41.80 207.49L42.30 207.49L42.80 207.48L43.30 207.47L43.80 207.46L44.30 207.44L44.80 207.42L45.30 207.40L45.80 207.38L46.30 207.35L46.80 207.32L47.30 207.29L47.80 207.26L48.30 207.23L48.80 207.19L49.30 207.15L49.80 207.11L50.30 207.07L50.80 207.02L51.30 206.97L51.80 206.92L52.30 206.87L52.80 206.82L53.30 206.76L53.80 206.70L54.30 206.64L54.80 206.58L55.30 206.51L55.80 206.45L56.30 206.38L56.80 206.31L57.30 206.24L57.80 206.16L58.30 206.09L58.80 206.01L59.30 205.93L59.80 205.85L60.30 205.77L60.80 205.68L61.30 205.60L61.80 205.51L62.30 205.42L62.80 205.32L63.30 205.23L63.80 205.14L64.30 205.04L64.80 204.94L65.30 204.81L65.80 204.67L66.30 204.50L66.80 204.31L67.30 204.10L67.80 203.87L68.30 203.62L68.80 203.35L69.30 203.06L69.80 202.76L70.30 202.43L70.80 202.09L71.30 201.72L71.80 201.34L72.30 200.84L72.80 200.24L73.30 199.54L73.80 198.78L74.30 197.96L74.80 197.10L75.30 196.24L75.80 195.38L76.30 194.54L76.80 193.75L77.30 193.00L77.80 192.27L78.30 191.53L78.80 190.80L79.30 190.07L79.80 189.33L80.30 188.59L80.80 187.83L81.30 187.05L81.80 186.25L82.30 185.43L82.80 184.55L83.30 183.61L83.80 182.63L84.30 181.62L84.80 180.61L85.30 179.62L85.80 178.66L86.30 177.75L86.80 176.91L87.30 176.17L87.80 175.52L88.30 174.91L88.80 174.35L89.30 173.81L89.80 173.30L90.30 172.81L90.80 172.34L91.30 171.89L91.80 171.45L92.30 171.02L92.80 170.60L93.30 170.15L93.80 169.65L94.30 169.16L94.80 168.71L95.30 168.34L95.80 168.09L96.30 168.00L96.80 168.05L97.30 168.20L97.80 168.42L98.30 168.70L98.80 169.02L99.30 169.36L99.80 169.70L100.30 170.10L100.80 170.58" fill="none" stroke="#2626a6" stroke-width="1.4" stroke-linejoin="round"/>
<path d="M40.80 207.00L41.30 207.00L41.80 206.99L42.30 206.99L42.80 206.98L43.30 206.97L43.80 206.95L44.30 206.94L44.80 206.92L45.30 206.90L45.80 206.87L46.30 206.85L46.80 206.82L47.30 206.79L47.80 206.75L48.30 206.72L48.80 206.68L49.30 206.64L49.80 206.60L50.30 206.55L50.80 206.51L51.30 206.46L51.80 206.41L52.30 206.35L52.80 206.30L53.30 206.24L53.80 206.18L54.30 206.12L54.80 206.06L55.30 206.00L55.80 205.93L56.30 205.86L56.80 205.79L57.30 205.72L57.80 205.64L58.30 205.57L58.80 205.49L59.30 205.41L59.80 205.33L60.30 205.25L60.80 205.17L61.30 205.08L61.80 204.99L62.30 204.91L62.80 204.82L63.30 204.73L63.80 204.63L64.30 204.54L64.80 204.44L65.30 204.32L65.80 204.19L66.30 204.03L66.80 203.86L67.30 203.66L67.80 203.45L68.30 203.22L68.80 202.97L69.30 202.71L69.80 202.43L70.30 202.12L70.80 201.80L71.30 201.39L71.80 200.89L72.30 200.28L72.80 199.43L73.30 198.00L73.80 196.16L74.30 194.15L74.80 192.20L75.30 190.56L75.80 189.44L76.30 188.96L76.80 188.64L77.30 188.40L77.80 188.20L78.30 188.01L78.80 187.80L79.30 187.53L79.80 187.18L80.30 186.76L80.80 186.28L81.30 185.75L81.80 185.18L82.30 184.58L82.80 183.90L83.30 183.14L83.80 182.31L84.30 181.43L84.80 180.53L85.30 179.61L85.80 178.71L86.30 177.84L86.80 177.02L87.30 176.28L87.80 175.60L88.30 174.95L88.80 174.31L89.30 173.69L89.80 173.09L90.30 172.51L90.80 171.96L91.30 171.43L91.80 170.92L92.30 170.45L92.80 170.00L93.30 169.54L93.80 169.06L94.30 168.59L94.80 168.17L95.30 167.82L95.80 167.59L96.30 167.50L96.80 167.53L97.30 167.60L97.80 167.71L98.30 167.87L98.80 168.05L99.30 168.26L99.80 168.50L100.30 168.89L100.80 169.48" fill="none" stroke="#f5913c" stroke-width="1.0" stroke-linejoin="round"/>
<rect x="64.5" y="168" width="29.200000000000003" height="41" fill="none" stroke="#5c5ce0" stroke-width="0.6"/>
<rect x="31.2" y="159.5" width="144.5" height="115.10000000000002" fill="none" stroke="#333333" stroke-width="1.0"/>
<line x1="31.20" y1="274.6" x2="31.20" y2="276.40000000000003" stroke="#333333" stroke-width="0.7"/>
<text x="31.20" y="282.80" font-size="7.0" font-weight="bold" fill="#222" stroke="#222" stroke-width="0.2" text-anchor="middle" textLength="7.52" lengthAdjust="spacingAndGlyphs">4.2</text>
<line x1="39.23" y1="274.6" x2="39.23" y2="275.70000000000005" stroke="#333333" stroke-width="0.6"/>
<line x1="47.26" y1="274.6" x2="47.26" y2="276.40000000000003" stroke="#333333" stroke-width="0.7"/>
<text x="47.26" y="282.80" font-size="7.0" font-weight="bold" fill="#222" stroke="#222" stroke-width="0.2" text-anchor="middle" textLength="7.52" lengthAdjust="spacingAndGlyphs">4.4</text>
<line x1="55.28" y1="274.6" x2="55.28" y2="275.70000000000005" stroke="#333333" stroke-width="0.6"/>
<line x1="63.31" y1="274.6" x2="63.31" y2="276.40000000000003" stroke="#333333" stroke-width="0.7"/>
<text x="63.31" y="282.80" font-size="7.0" font-weight="bold" fill="#222" stroke="#222" stroke-width="0.2" text-anchor="middle" textLength="7.52" lengthAdjust="spacingAndGlyphs">4.6</text>
<line x1="71.34" y1="274.6" x2="71.34" y2="275.70000000000005" stroke="#333333" stroke-width="0.6"/>
<line x1="79.37" y1="274.6" x2="79.37" y2="276.40000000000003" stroke="#333333" stroke-width="0.7"/>
<text x="79.37" y="282.80" font-size="7.0" font-weight="bold" fill="#222" stroke="#222" stroke-width="0.2" text-anchor="middle" textLength="7.52" lengthAdjust="spacingAndGlyphs">4.8</text>
<line x1="87.39" y1="274.6" x2="87.39" y2="275.70000000000005" stroke="#333333" stroke-width="0.6"/>
<line x1="95.42" y1="274.6" x2="95.42" y2="276.40000000000003" stroke="#333333" stroke-width="0.7"/>
<text x="95.42" y="282.80" font-size="7.0" font-weight="bold" fill="#222" stroke="#222" stroke-width="0.2" text-anchor="middle" textLength="7.52" lengthAdjust="spacingAndGlyphs">5.0</text>
<line x1="103.45" y1="274.6" x2="103.45" y2="275.70000000000005" stroke="#333333" stroke-width="0.6"/>
<line x1="111.48" y1="274.6" x2="111.48" y2="276.40000000000003" stroke="#333333" stroke-width="0.7"/>
<text x="111.48" y="282.80" font-size="7.0" font-weight="bold" fill="#222" stroke="#222" stroke-width="0.2" text-anchor="middle" textLength="7.52" lengthAdjust="spacingAndGlyphs">5.2</text>
<line x1="119.51" y1="274.6" x2="119.51" y2="275.70000000000005" stroke="#333333" stroke-width="0.6"/>
<line x1="127.53" y1="274.6" x2="127.53" y2="276.40000000000003" stroke="#333333" stroke-width="0.7"/>
<text x="127.53" y="282.80" font-size="7.0" font-weight="bold" fill="#222" stroke="#222" stroke-width="0.2" text-anchor="middle" textLength="7.52" lengthAdjust="spacingAndGlyphs">5.4</text>
<line x1="135.56" y1="274.6" x2="135.56" y2="275.70000000000005" stroke="#333333" stroke-width="0.6"/>
<line x1="143.59" y1="274.6" x2="143.59" y2="276.40000000000003" stroke="#333333" stroke-width="0.7"/>
<text x="143.59" y="282.80" font-size="7.0" font-weight="bold" fill="#222" stroke="#222" stroke-width="0.2" text-anchor="middle" textLength="7.52" lengthAdjust="spacingAndGlyphs">5.6</text>
<line x1="151.62" y1="274.6" x2="151.62" y2="275.70000000000005" stroke="#333333" stroke-width="0.6"/>
<line x1="159.64" y1="274.6" x2="159.64" y2="276.40000000000003" stroke="#333333" stroke-width="0.7"/>
<text x="159.64" y="282.80" font-size="7.0" font-weight="bold" fill="#222" stroke="#222" stroke-width="0.2" text-anchor="middle" textLength="7.52" lengthAdjust="spacingAndGlyphs">5.8</text>
<line x1="167.67" y1="274.6" x2="167.67" y2="275.70000000000005" stroke="#333333" stroke-width="0.6"/>
<line x1="175.70" y1="274.6" x2="175.70" y2="276.40000000000003" stroke="#333333" stroke-width="0.7"/>
<text x="175.70" y="282.80" font-size="7.0" font-weight="bold" fill="#222" stroke="#222" stroke-width="0.2" text-anchor="middle" textLength="7.52" lengthAdjust="spacingAndGlyphs">6.0</text>
<line x1="29.4" y1="274.60" x2="31.2" y2="274.60" stroke="#333333" stroke-width="0.7"/>
<text x="27.60" y="277.00" font-size="7.0" font-weight="bold" fill="#222" stroke="#222" stroke-width="0.2" text-anchor="end" textLength="7.00" lengthAdjust="spacingAndGlyphs">0.0</text>
<line x1="30.099999999999998" y1="267.02" x2="31.2" y2="267.02" stroke="#333333" stroke-width="0.6"/>
<line x1="29.4" y1="259.45" x2="31.2" y2="259.45" stroke="#333333" stroke-width="0.7"/>
<text x="27.60" y="261.85" font-size="7.0" font-weight="bold" fill="#222" stroke="#222" stroke-width="0.2" text-anchor="end" textLength="7.00" lengthAdjust="spacingAndGlyphs">0.5</text>
<line x1="30.099999999999998" y1="251.87" x2="31.2" y2="251.87" stroke="#333333" stroke-width="0.6"/>
<line x1="29.4" y1="244.29" x2="31.2" y2="244.29" stroke="#333333" stroke-width="0.7"/>
<text x="27.60" y="246.69" font-size="7.0" font-weight="bold" fill="#222" stroke="#222" stroke-width="0.2" text-anchor="end" textLength="7.00" lengthAdjust="spacingAndGlyphs">1.0</text>
<line x1="30.099999999999998" y1="236.71" x2="31.2" y2="236.71" stroke="#333333" stroke-width="0.6"/>
<line x1="29.4" y1="229.14" x2="31.2" y2="229.14" stroke="#333333" stroke-width="0.7"/>
<text x="27.60" y="231.54" font-size="7.0" font-weight="bold" fill="#222" stroke="#222" stroke-width="0.2" text-anchor="end" textLength="7.00" lengthAdjust="spacingAndGlyphs">1.5</text>
<line x1="30.099999999999998" y1="221.56" x2="31.2" y2="221.56" stroke="#333333" stroke-width="0.6"/>
<line x1="29.4" y1="213.98" x2="31.2" y2="213.98" stroke="#333333" stroke-width="0.7"/>
<text x="27.60" y="216.38" font-size="7.0" font-weight="bold" fill="#222" stroke="#222" stroke-width="0.2" text-anchor="end" textLength="7.00" lengthAdjust="spacingAndGlyphs">2.0</text>
<line x1="30.099999999999998" y1="206.40" x2="31.2" y2="206.40" stroke="#333333" stroke-width="0.6"/>
<line x1="29.4" y1="198.83" x2="31.2" y2="198.83" stroke="#333333" stroke-width="0.7"/>
<text x="27.60" y="201.23" font-size="7.0" font-weight="bold" fill="#222" stroke="#222" stroke-width="0.2" text-anchor="end" textLength="7.00" lengthAdjust="spacingAndGlyphs">2.5</text>
<line x1="30.099999999999998" y1="191.25" x2="31.2" y2="191.25" stroke="#333333" stroke-width="0.6"/>
<line x1="29.4" y1="183.67" x2="31.2" y2="183.67" stroke="#333333" stroke-width="0.7"/>
<text x="27.60" y="186.07" font-size="7.0" font-weight="bold" fill="#222" stroke="#222" stroke-width="0.2" text-anchor="end" textLength="7.00" lengthAdjust="spacingAndGlyphs">3.0</text>
<line x1="30.099999999999998" y1="176.09" x2="31.2" y2="176.09" stroke="#333333" stroke-width="0.6"/>
<line x1="29.4" y1="168.52" x2="31.2" y2="168.52" stroke="#333333" stroke-width="0.7"/>
<text x="27.60" y="170.92" font-size="7.0" font-weight="bold" fill="#222" stroke="#222" stroke-width="0.2" text-anchor="end" textLength="7.00" lengthAdjust="spacingAndGlyphs">3.5</text>
<text x="103.5" y="293" font-size="8.7" font-weight="bold" text-anchor="middle">hν (eV)</text>
<text x="91.1" y="304.5" font-size="10.4" font-weight="bold" fill="#222" text-anchor="middle">(d)</text>
<text transform="translate(12.8,214.5) rotate(-90)" font-size="8.3" font-weight="bold" text-anchor="middle">[F(R∞) hν]<tspan font-size="4.9" dy="-3.2">1/2</tspan><tspan dy="3.2"> (eV)</tspan><tspan font-size="4.9" dy="-3.2">1/2</tspan></text>
<circle cx="135.60" cy="248.90" r="1.15" fill="none" stroke="#3c9a3c" stroke-width="1.0"/>
<text x="145.3" y="251.10" font-size="6.5" font-weight="bold" fill="#222">PMMA-1</text>
<path d="M135.60 256.38L136.86 258.69L134.34 258.69Z" fill="none" stroke="#2626a6" stroke-width="1.0"/>
<text x="145.3" y="259.90" font-size="6.5" font-weight="bold" fill="#222">PMMA-2</text>
<rect x="134.45" y="265.85" width="2.30" height="2.30" rx="0.3" fill="none" stroke="#f5913c" stroke-width="1.0"/>
<text x="145.3" y="269.20" font-size="6.5" font-weight="bold" fill="#222">PMMA-3</text>
</g>
<g>
<clipPath id="ce"><rect x="213.9" y="159.4" width="144.49999999999997" height="114.1"/></clipPath>
<g clip-path="url(#ce)">
<line x1="240.00" y1="273.50" x2="363.40" y2="150.97" stroke="#f5913c" stroke-width="1.05" stroke-dasharray="2.8 2"/>
<line x1="245.50" y1="273.50" x2="363.40" y2="144.08" stroke="#2626a6" stroke-width="1.05" stroke-dasharray="2.8 2"/>
<line x1="250.20" y1="273.50" x2="363.40" y2="141.58" stroke="#3c9a3c" stroke-width="1.05" stroke-dasharray="2.8 2"/>
<rect x="212.75" y="261.46" width="2.30" height="2.30" rx="0.3" fill="none" stroke="#f5913c" stroke-width="0.85"/>
<rect x="214.55" y="261.19" width="2.30" height="2.30" rx="0.3" fill="none" stroke="#f5913c" stroke-width="0.85"/>
<rect x="216.36" y="260.89" width="2.30" height="2.30" rx="0.3" fill="none" stroke="#f5913c" stroke-width="0.85"/>
<rect x="218.19" y="260.55" width="2.30" height="2.30" rx="0.3" fill="none" stroke="#f5913c" stroke-width="0.85"/>
<rect x="220.03" y="260.17" width="2.30" height="2.30" rx="0.3" fill="none" stroke="#f5913c" stroke-width="0.85"/>
<rect x="221.89" y="259.77" width="2.30" height="2.30" rx="0.3" fill="none" stroke="#f5913c" stroke-width="0.85"/>
<rect x="223.76" y="259.33" width="2.30" height="2.30" rx="0.3" fill="none" stroke="#f5913c" stroke-width="0.85"/>
<rect x="225.64" y="258.86" width="2.30" height="2.30" rx="0.3" fill="none" stroke="#f5913c" stroke-width="0.85"/>
<rect x="227.55" y="258.37" width="2.30" height="2.30" rx="0.3" fill="none" stroke="#f5913c" stroke-width="0.85"/>
<rect x="229.46" y="257.85" width="2.30" height="2.30" rx="0.3" fill="none" stroke="#f5913c" stroke-width="0.85"/>
<rect x="231.40" y="257.30" width="2.30" height="2.30" rx="0.3" fill="none" stroke="#f5913c" stroke-width="0.85"/>
<rect x="233.35" y="256.73" width="2.30" height="2.30" rx="0.3" fill="none" stroke="#f5913c" stroke-width="0.85"/>
<rect x="235.31" y="256.14" width="2.30" height="2.30" rx="0.3" fill="none" stroke="#f5913c" stroke-width="0.85"/>
<rect x="237.29" y="255.54" width="2.30" height="2.30" rx="0.3" fill="none" stroke="#f5913c" stroke-width="0.85"/>
<rect x="239.29" y="254.91" width="2.30" height="2.30" rx="0.3" fill="none" stroke="#f5913c" stroke-width="0.85"/>
<rect x="241.31" y="254.23" width="2.30" height="2.30" rx="0.3" fill="none" stroke="#f5913c" stroke-width="0.85"/>
<rect x="243.34" y="253.47" width="2.30" height="2.30" rx="0.3" fill="none" stroke="#f5913c" stroke-width="0.85"/>
<rect x="245.39" y="252.66" width="2.30" height="2.30" rx="0.3" fill="none" stroke="#f5913c" stroke-width="0.85"/>
<rect x="247.45" y="251.78" width="2.30" height="2.30" rx="0.3" fill="none" stroke="#f5913c" stroke-width="0.85"/>
<rect x="249.54" y="250.86" width="2.30" height="2.30" rx="0.3" fill="none" stroke="#f5913c" stroke-width="0.85"/>
<rect x="251.64" y="249.90" width="2.30" height="2.30" rx="0.3" fill="none" stroke="#f5913c" stroke-width="0.85"/>
<rect x="253.76" y="248.88" width="2.30" height="2.30" rx="0.3" fill="none" stroke="#f5913c" stroke-width="0.85"/>
<rect x="255.90" y="247.78" width="2.30" height="2.30" rx="0.3" fill="none" stroke="#f5913c" stroke-width="0.85"/>
<rect x="258.05" y="246.61" width="2.30" height="2.30" rx="0.3" fill="none" stroke="#f5913c" stroke-width="0.85"/>
<rect x="260.23" y="245.38" width="2.30" height="2.30" rx="0.3" fill="none" stroke="#f5913c" stroke-width="0.85"/>
<rect x="262.42" y="244.10" width="2.30" height="2.30" rx="0.3" fill="none" stroke="#f5913c" stroke-width="0.85"/>
<rect x="264.63" y="242.80" width="2.30" height="2.30" rx="0.3" fill="none" stroke="#f5913c" stroke-width="0.85"/>
<rect x="266.87" y="241.50" width="2.30" height="2.30" rx="0.3" fill="none" stroke="#f5913c" stroke-width="0.85"/>
<rect x="269.12" y="240.18" width="2.30" height="2.30" rx="0.3" fill="none" stroke="#f5913c" stroke-width="0.85"/>
<rect x="271.39" y="238.80" width="2.30" height="2.30" rx="0.3" fill="none" stroke="#f5913c" stroke-width="0.85"/>
<rect x="273.68" y="237.30" width="2.30" height="2.30" rx="0.3" fill="none" stroke="#f5913c" stroke-width="0.85"/>
<rect x="276.00" y="235.64" width="2.30" height="2.30" rx="0.3" fill="none" stroke="#f5913c" stroke-width="0.85"/>
<rect x="278.33" y="233.71" width="2.30" height="2.30" rx="0.3" fill="none" stroke="#f5913c" stroke-width="0.85"/>
<rect x="280.69" y="231.45" width="2.30" height="2.30" rx="0.3" fill="none" stroke="#f5913c" stroke-width="0.85"/>
<rect x="283.06" y="228.92" width="2.30" height="2.30" rx="0.3" fill="none" stroke="#f5913c" stroke-width="0.85"/>
<rect x="285.46" y="226.22" width="2.30" height="2.30" rx="0.3" fill="none" stroke="#f5913c" stroke-width="0.85"/>
<rect x="287.88" y="223.44" width="2.30" height="2.30" rx="0.3" fill="none" stroke="#f5913c" stroke-width="0.85"/>
<rect x="290.33" y="220.67" width="2.30" height="2.30" rx="0.3" fill="none" stroke="#f5913c" stroke-width="0.85"/>
<rect x="292.79" y="217.73" width="2.30" height="2.30" rx="0.3" fill="none" stroke="#f5913c" stroke-width="0.85"/>
<rect x="295.28" y="214.65" width="2.30" height="2.30" rx="0.3" fill="none" stroke="#f5913c" stroke-width="0.85"/>
<rect x="297.79" y="211.53" width="2.30" height="2.30" rx="0.3" fill="none" stroke="#f5913c" stroke-width="0.85"/>
<rect x="300.33" y="208.47" width="2.30" height="2.30" rx="0.3" fill="none" stroke="#f5913c" stroke-width="0.85"/>
<rect x="302.88" y="205.58" width="2.30" height="2.30" rx="0.3" fill="none" stroke="#f5913c" stroke-width="0.85"/>
<rect x="305.47" y="202.88" width="2.30" height="2.30" rx="0.3" fill="none" stroke="#f5913c" stroke-width="0.85"/>
<rect x="308.08" y="200.28" width="2.30" height="2.30" rx="0.3" fill="none" stroke="#f5913c" stroke-width="0.85"/>
<rect x="310.71" y="197.69" width="2.30" height="2.30" rx="0.3" fill="none" stroke="#f5913c" stroke-width="0.85"/>
<rect x="313.37" y="195.04" width="2.30" height="2.30" rx="0.3" fill="none" stroke="#f5913c" stroke-width="0.85"/>
<rect x="316.05" y="192.20" width="2.30" height="2.30" rx="0.3" fill="none" stroke="#f5913c" stroke-width="0.85"/>
<rect x="318.76" y="189.19" width="2.30" height="2.30" rx="0.3" fill="none" stroke="#f5913c" stroke-width="0.85"/>
<rect x="321.50" y="186.14" width="2.30" height="2.30" rx="0.3" fill="none" stroke="#f5913c" stroke-width="0.85"/>
<rect x="324.26" y="183.21" width="2.30" height="2.30" rx="0.3" fill="none" stroke="#f5913c" stroke-width="0.85"/>
<rect x="327.05" y="180.54" width="2.30" height="2.30" rx="0.3" fill="none" stroke="#f5913c" stroke-width="0.85"/>
<rect x="329.87" y="178.25" width="2.30" height="2.30" rx="0.3" fill="none" stroke="#f5913c" stroke-width="0.85"/>
<rect x="332.71" y="176.21" width="2.30" height="2.30" rx="0.3" fill="none" stroke="#f5913c" stroke-width="0.85"/>
<rect x="335.59" y="174.37" width="2.30" height="2.30" rx="0.3" fill="none" stroke="#f5913c" stroke-width="0.85"/>
<rect x="338.49" y="172.66" width="2.30" height="2.30" rx="0.3" fill="none" stroke="#f5913c" stroke-width="0.85"/>
<rect x="341.42" y="171.00" width="2.30" height="2.30" rx="0.3" fill="none" stroke="#f5913c" stroke-width="0.85"/>
<rect x="344.38" y="169.47" width="2.30" height="2.30" rx="0.3" fill="none" stroke="#f5913c" stroke-width="0.85"/>
<rect x="347.37" y="168.19" width="2.30" height="2.30" rx="0.3" fill="none" stroke="#f5913c" stroke-width="0.85"/>
<rect x="350.40" y="167.16" width="2.30" height="2.30" rx="0.3" fill="none" stroke="#f5913c" stroke-width="0.85"/>
<rect x="353.45" y="166.27" width="2.30" height="2.30" rx="0.3" fill="none" stroke="#f5913c" stroke-width="0.85"/>
<rect x="356.54" y="165.60" width="2.30" height="2.30" rx="0.3" fill="none" stroke="#f5913c" stroke-width="0.85"/>
<path d="M213.90 260.57L215.28 263.08L212.53 263.08Z" fill="none" stroke="#2626a6" stroke-width="0.85"/>
<path d="M215.70 260.46L217.07 262.97L214.32 262.97Z" fill="none" stroke="#2626a6" stroke-width="0.85"/>
<path d="M217.51 260.29L218.89 262.81L216.14 262.81Z" fill="none" stroke="#2626a6" stroke-width="0.85"/>
<path d="M219.34 260.08L220.71 262.59L217.96 262.59Z" fill="none" stroke="#2626a6" stroke-width="0.85"/>
<path d="M221.18 259.82L222.55 262.33L219.80 262.33Z" fill="none" stroke="#2626a6" stroke-width="0.85"/>
<path d="M223.04 259.51L224.41 262.02L221.66 262.02Z" fill="none" stroke="#2626a6" stroke-width="0.85"/>
<path d="M224.91 259.16L226.28 261.68L223.53 261.68Z" fill="none" stroke="#2626a6" stroke-width="0.85"/>
<path d="M226.79 258.77L228.17 261.29L225.42 261.29Z" fill="none" stroke="#2626a6" stroke-width="0.85"/>
<path d="M228.70 258.35L230.07 260.86L227.32 260.86Z" fill="none" stroke="#2626a6" stroke-width="0.85"/>
<path d="M230.61 257.89L231.99 260.40L229.24 260.40Z" fill="none" stroke="#2626a6" stroke-width="0.85"/>
<path d="M232.55 257.40L233.92 259.92L231.17 259.92Z" fill="none" stroke="#2626a6" stroke-width="0.85"/>
<path d="M234.50 256.89L235.87 259.40L233.12 259.40Z" fill="none" stroke="#2626a6" stroke-width="0.85"/>
<path d="M236.46 256.35L237.84 258.87L235.09 258.87Z" fill="none" stroke="#2626a6" stroke-width="0.85"/>
<path d="M238.44 255.80L239.82 258.32L237.07 258.32Z" fill="none" stroke="#2626a6" stroke-width="0.85"/>
<path d="M240.44 255.23L241.82 257.75L239.07 257.75Z" fill="none" stroke="#2626a6" stroke-width="0.85"/>
<path d="M242.46 254.56L243.83 257.08L241.08 257.08Z" fill="none" stroke="#2626a6" stroke-width="0.85"/>
<path d="M244.49 253.78L245.86 256.29L243.11 256.29Z" fill="none" stroke="#2626a6" stroke-width="0.85"/>
<path d="M246.54 252.89L247.91 255.40L245.16 255.40Z" fill="none" stroke="#2626a6" stroke-width="0.85"/>
<path d="M248.60 251.93L249.98 254.45L247.23 254.45Z" fill="none" stroke="#2626a6" stroke-width="0.85"/>
<path d="M250.69 250.93L252.06 253.45L249.31 253.45Z" fill="none" stroke="#2626a6" stroke-width="0.85"/>
<path d="M252.79 249.92L254.16 252.43L251.41 252.43Z" fill="none" stroke="#2626a6" stroke-width="0.85"/>
<path d="M254.91 248.87L256.28 251.39L253.53 251.39Z" fill="none" stroke="#2626a6" stroke-width="0.85"/>
<path d="M257.05 247.76L258.42 250.28L255.67 250.28Z" fill="none" stroke="#2626a6" stroke-width="0.85"/>
<path d="M259.20 246.59L260.58 249.11L257.83 249.11Z" fill="none" stroke="#2626a6" stroke-width="0.85"/>
<path d="M261.38 245.37L262.75 247.89L260.00 247.89Z" fill="none" stroke="#2626a6" stroke-width="0.85"/>
<path d="M263.57 244.11L264.95 246.63L262.20 246.63Z" fill="none" stroke="#2626a6" stroke-width="0.85"/>
<path d="M265.78 242.81L267.16 245.33L264.41 245.33Z" fill="none" stroke="#2626a6" stroke-width="0.85"/>
<path d="M268.02 241.51L269.39 244.03L266.64 244.03Z" fill="none" stroke="#2626a6" stroke-width="0.85"/>
<path d="M270.27 240.20L271.64 242.71L268.89 242.71Z" fill="none" stroke="#2626a6" stroke-width="0.85"/>
<path d="M272.54 238.81L273.92 241.33L271.17 241.33Z" fill="none" stroke="#2626a6" stroke-width="0.85"/>
<path d="M274.83 237.32L276.21 239.83L273.46 239.83Z" fill="none" stroke="#2626a6" stroke-width="0.85"/>
<path d="M277.15 235.65L278.52 238.16L275.77 238.16Z" fill="none" stroke="#2626a6" stroke-width="0.85"/>
<path d="M279.48 233.72L280.86 236.24L278.11 236.24Z" fill="none" stroke="#2626a6" stroke-width="0.85"/>
<path d="M281.84 231.46L283.21 233.97L280.46 233.97Z" fill="none" stroke="#2626a6" stroke-width="0.85"/>
<path d="M284.21 228.93L285.59 231.45L282.84 231.45Z" fill="none" stroke="#2626a6" stroke-width="0.85"/>
<path d="M286.61 226.23L287.99 228.75L285.24 228.75Z" fill="none" stroke="#2626a6" stroke-width="0.85"/>
<path d="M289.03 223.46L290.41 225.97L287.66 225.97Z" fill="none" stroke="#2626a6" stroke-width="0.85"/>
<path d="M291.48 220.68L292.85 223.19L290.10 223.19Z" fill="none" stroke="#2626a6" stroke-width="0.85"/>
<path d="M293.94 217.74L295.32 220.26L292.57 220.26Z" fill="none" stroke="#2626a6" stroke-width="0.85"/>
<path d="M296.43 214.67L297.80 217.18L295.05 217.18Z" fill="none" stroke="#2626a6" stroke-width="0.85"/>
<path d="M298.94 211.54L300.32 214.06L297.57 214.06Z" fill="none" stroke="#2626a6" stroke-width="0.85"/>
<path d="M301.48 208.48L302.85 210.99L300.10 210.99Z" fill="none" stroke="#2626a6" stroke-width="0.85"/>
<path d="M304.03 205.59L305.41 208.10L302.66 208.10Z" fill="none" stroke="#2626a6" stroke-width="0.85"/>
<path d="M306.62 202.88L307.99 205.39L305.24 205.39Z" fill="none" stroke="#2626a6" stroke-width="0.85"/>
<path d="M309.23 200.26L310.60 202.77L307.85 202.77Z" fill="none" stroke="#2626a6" stroke-width="0.85"/>
<path d="M311.86 197.67L313.23 200.19L310.48 200.19Z" fill="none" stroke="#2626a6" stroke-width="0.85"/>
<path d="M314.52 195.05L315.89 197.56L313.14 197.56Z" fill="none" stroke="#2626a6" stroke-width="0.85"/>
<path d="M317.20 192.27L318.57 194.78L315.82 194.78Z" fill="none" stroke="#2626a6" stroke-width="0.85"/>
<path d="M319.91 189.34L321.28 191.86L318.53 191.86Z" fill="none" stroke="#2626a6" stroke-width="0.85"/>
<path d="M322.65 186.41L324.02 188.93L321.27 188.93Z" fill="none" stroke="#2626a6" stroke-width="0.85"/>
<path d="M325.41 183.62L326.78 186.14L324.03 186.14Z" fill="none" stroke="#2626a6" stroke-width="0.85"/>
<path d="M328.20 181.14L329.57 183.65L326.82 183.65Z" fill="none" stroke="#2626a6" stroke-width="0.85"/>
<path d="M331.02 179.06L332.39 181.58L329.64 181.58Z" fill="none" stroke="#2626a6" stroke-width="0.85"/>
<path d="M333.86 177.18L335.24 179.69L332.49 179.69Z" fill="none" stroke="#2626a6" stroke-width="0.85"/>
<path d="M336.74 175.56L338.11 178.07L335.36 178.07Z" fill="none" stroke="#2626a6" stroke-width="0.85"/>
<path d="M339.64 174.35L341.01 176.86L338.26 176.86Z" fill="none" stroke="#2626a6" stroke-width="0.85"/>
<path d="M342.57 173.47L343.95 175.98L341.20 175.98Z" fill="none" stroke="#2626a6" stroke-width="0.85"/>
<path d="M345.53 172.76L346.91 175.27L344.16 175.27Z" fill="none" stroke="#2626a6" stroke-width="0.85"/>
<path d="M348.52 172.14L349.90 174.65L347.15 174.65Z" fill="none" stroke="#2626a6" stroke-width="0.85"/>
<path d="M351.55 171.56L352.92 174.07L350.17 174.07Z" fill="none" stroke="#2626a6" stroke-width="0.85"/>
<path d="M354.60 171.04L355.98 173.56L353.23 173.56Z" fill="none" stroke="#2626a6" stroke-width="0.85"/>
<path d="M357.69 170.60L359.06 173.12L356.31 173.12Z" fill="none" stroke="#2626a6" stroke-width="0.85"/>
<circle cx="213.90" cy="265.00" r="1.25" fill="none" stroke="#3c9a3c" stroke-width="0.85"/>
<circle cx="215.70" cy="264.91" r="1.25" fill="none" stroke="#3c9a3c" stroke-width="0.85"/>
<circle cx="217.51" cy="264.76" r="1.25" fill="none" stroke="#3c9a3c" stroke-width="0.85"/>
<circle cx="219.34" cy="264.56" r="1.25" fill="none" stroke="#3c9a3c" stroke-width="0.85"/>
<circle cx="221.18" cy="264.31" r="1.25" fill="none" stroke="#3c9a3c" stroke-width="0.85"/>
<circle cx="223.04" cy="264.01" r="1.25" fill="none" stroke="#3c9a3c" stroke-width="0.85"/>
<circle cx="224.91" cy="263.68" r="1.25" fill="none" stroke="#3c9a3c" stroke-width="0.85"/>
<circle cx="226.79" cy="263.30" r="1.25" fill="none" stroke="#3c9a3c" stroke-width="0.85"/>
<circle cx="228.70" cy="262.89" r="1.25" fill="none" stroke="#3c9a3c" stroke-width="0.85"/>
<circle cx="230.61" cy="262.45" r="1.25" fill="none" stroke="#3c9a3c" stroke-width="0.85"/>
<circle cx="232.55" cy="261.98" r="1.25" fill="none" stroke="#3c9a3c" stroke-width="0.85"/>
<circle cx="234.50" cy="261.48" r="1.25" fill="none" stroke="#3c9a3c" stroke-width="0.85"/>
<circle cx="236.46" cy="260.96" r="1.25" fill="none" stroke="#3c9a3c" stroke-width="0.85"/>
<circle cx="238.44" cy="260.43" r="1.25" fill="none" stroke="#3c9a3c" stroke-width="0.85"/>
<circle cx="240.44" cy="259.87" r="1.25" fill="none" stroke="#3c9a3c" stroke-width="0.85"/>
<circle cx="242.46" cy="259.22" r="1.25" fill="none" stroke="#3c9a3c" stroke-width="0.85"/>
<circle cx="244.49" cy="258.44" r="1.25" fill="none" stroke="#3c9a3c" stroke-width="0.85"/>
<circle cx="246.54" cy="257.56" r="1.25" fill="none" stroke="#3c9a3c" stroke-width="0.85"/>
<circle cx="248.60" cy="256.61" r="1.25" fill="none" stroke="#3c9a3c" stroke-width="0.85"/>
<circle cx="250.69" cy="255.63" r="1.25" fill="none" stroke="#3c9a3c" stroke-width="0.85"/>
<circle cx="252.79" cy="254.65" r="1.25" fill="none" stroke="#3c9a3c" stroke-width="0.85"/>
<circle cx="254.91" cy="253.66" r="1.25" fill="none" stroke="#3c9a3c" stroke-width="0.85"/>
<circle cx="257.05" cy="252.63" r="1.25" fill="none" stroke="#3c9a3c" stroke-width="0.85"/>
<circle cx="259.20" cy="251.56" r="1.25" fill="none" stroke="#3c9a3c" stroke-width="0.85"/>
<circle cx="261.38" cy="250.44" r="1.25" fill="none" stroke="#3c9a3c" stroke-width="0.85"/>
<circle cx="263.57" cy="249.27" r="1.25" fill="none" stroke="#3c9a3c" stroke-width="0.85"/>
<circle cx="265.78" cy="248.05" r="1.25" fill="none" stroke="#3c9a3c" stroke-width="0.85"/>
<circle cx="268.02" cy="246.79" r="1.25" fill="none" stroke="#3c9a3c" stroke-width="0.85"/>
<circle cx="270.27" cy="245.47" r="1.25" fill="none" stroke="#3c9a3c" stroke-width="0.85"/>
<circle cx="272.54" cy="244.09" r="1.25" fill="none" stroke="#3c9a3c" stroke-width="0.85"/>
<circle cx="274.83" cy="242.61" r="1.25" fill="none" stroke="#3c9a3c" stroke-width="0.85"/>
<circle cx="277.15" cy="241.04" r="1.25" fill="none" stroke="#3c9a3c" stroke-width="0.85"/>
<circle cx="279.48" cy="239.34" r="1.25" fill="none" stroke="#3c9a3c" stroke-width="0.85"/>
<circle cx="281.84" cy="237.52" r="1.25" fill="none" stroke="#3c9a3c" stroke-width="0.85"/>
<circle cx="284.21" cy="235.56" r="1.25" fill="none" stroke="#3c9a3c" stroke-width="0.85"/>
<circle cx="286.61" cy="233.45" r="1.25" fill="none" stroke="#3c9a3c" stroke-width="0.85"/>
<circle cx="289.03" cy="231.17" r="1.25" fill="none" stroke="#3c9a3c" stroke-width="0.85"/>
<circle cx="291.48" cy="228.67" r="1.25" fill="none" stroke="#3c9a3c" stroke-width="0.85"/>
<circle cx="293.94" cy="225.75" r="1.25" fill="none" stroke="#3c9a3c" stroke-width="0.85"/>
<circle cx="296.43" cy="222.46" r="1.25" fill="none" stroke="#3c9a3c" stroke-width="0.85"/>
<circle cx="298.94" cy="219.03" r="1.25" fill="none" stroke="#3c9a3c" stroke-width="0.85"/>
<circle cx="301.48" cy="215.63" r="1.25" fill="none" stroke="#3c9a3c" stroke-width="0.85"/>
<circle cx="304.03" cy="212.49" r="1.25" fill="none" stroke="#3c9a3c" stroke-width="0.85"/>
<circle cx="306.62" cy="209.61" r="1.25" fill="none" stroke="#3c9a3c" stroke-width="0.85"/>
<circle cx="309.23" cy="206.81" r="1.25" fill="none" stroke="#3c9a3c" stroke-width="0.85"/>
<circle cx="311.86" cy="203.96" r="1.25" fill="none" stroke="#3c9a3c" stroke-width="0.85"/>
<circle cx="314.52" cy="201.17" r="1.25" fill="none" stroke="#3c9a3c" stroke-width="0.85"/>
<circle cx="317.20" cy="198.30" r="1.25" fill="none" stroke="#3c9a3c" stroke-width="0.85"/>
<circle cx="319.91" cy="195.11" r="1.25" fill="none" stroke="#3c9a3c" stroke-width="0.85"/>
<circle cx="322.65" cy="191.04" r="1.25" fill="none" stroke="#3c9a3c" stroke-width="0.85"/>
<circle cx="325.41" cy="186.33" r="1.25" fill="none" stroke="#3c9a3c" stroke-width="0.85"/>
<circle cx="328.20" cy="182.18" r="1.25" fill="none" stroke="#3c9a3c" stroke-width="0.85"/>
<circle cx="331.02" cy="179.55" r="1.25" fill="none" stroke="#3c9a3c" stroke-width="0.85"/>
<circle cx="333.86" cy="177.60" r="1.25" fill="none" stroke="#3c9a3c" stroke-width="0.85"/>
<circle cx="336.74" cy="176.03" r="1.25" fill="none" stroke="#3c9a3c" stroke-width="0.85"/>
<circle cx="339.64" cy="174.77" r="1.25" fill="none" stroke="#3c9a3c" stroke-width="0.85"/>
<circle cx="342.57" cy="173.73" r="1.25" fill="none" stroke="#3c9a3c" stroke-width="0.85"/>
<circle cx="345.53" cy="172.86" r="1.25" fill="none" stroke="#3c9a3c" stroke-width="0.85"/>
<circle cx="348.52" cy="172.09" r="1.25" fill="none" stroke="#3c9a3c" stroke-width="0.85"/>
<circle cx="351.55" cy="171.37" r="1.25" fill="none" stroke="#3c9a3c" stroke-width="0.85"/>
<circle cx="354.60" cy="170.72" r="1.25" fill="none" stroke="#3c9a3c" stroke-width="0.85"/>
<circle cx="357.69" cy="170.15" r="1.25" fill="none" stroke="#3c9a3c" stroke-width="0.85"/>
</g>
<rect x="222.5" y="161.5" width="68.0" height="51.0" fill="#fff" stroke="#6a6a6a" stroke-width="0.6"/>
<line x1="221.5" y1="212.30" x2="222.5" y2="212.30" stroke="#666" stroke-width="0.4"/>
<rect x="217.90" y="211.70" width="2.4" height="1.1" fill="#b5b5b5"/>
<line x1="221.5" y1="200.00" x2="222.5" y2="200.00" stroke="#666" stroke-width="0.4"/>
<rect x="217.90" y="199.40" width="2.4" height="1.1" fill="#b5b5b5"/>
<line x1="221.5" y1="186.90" x2="222.5" y2="186.90" stroke="#666" stroke-width="0.4"/>
<rect x="217.90" y="186.30" width="2.4" height="1.1" fill="#b5b5b5"/>
<line x1="221.5" y1="174.10" x2="222.5" y2="174.10" stroke="#666" stroke-width="0.4"/>
<rect x="217.90" y="173.50" width="2.4" height="1.1" fill="#b5b5b5"/>
<line x1="221.5" y1="161.70" x2="222.5" y2="161.70" stroke="#666" stroke-width="0.4"/>
<rect x="217.90" y="161.10" width="2.4" height="1.1" fill="#b5b5b5"/>
<line x1="222.90" y1="212.5" x2="222.90" y2="213.5" stroke="#666" stroke-width="0.4"/>
<rect x="220.90" y="214.70" width="4.0" height="1.2" fill="#bdbdbd"/>
<line x1="230.80" y1="212.5" x2="230.80" y2="213.5" stroke="#666" stroke-width="0.4"/>
<rect x="228.80" y="214.70" width="4.0" height="1.2" fill="#bdbdbd"/>
<line x1="238.70" y1="212.5" x2="238.70" y2="213.5" stroke="#666" stroke-width="0.4"/>
<rect x="236.70" y="214.70" width="4.0" height="1.2" fill="#bdbdbd"/>
<line x1="246.60" y1="212.5" x2="246.60" y2="213.5" stroke="#666" stroke-width="0.4"/>
<rect x="244.60" y="214.70" width="4.0" height="1.2" fill="#bdbdbd"/>
<line x1="254.50" y1="212.5" x2="254.50" y2="213.5" stroke="#666" stroke-width="0.4"/>
<rect x="252.50" y="214.70" width="4.0" height="1.2" fill="#bdbdbd"/>
<line x1="262.40" y1="212.5" x2="262.40" y2="213.5" stroke="#666" stroke-width="0.4"/>
<rect x="260.40" y="214.70" width="4.0" height="1.2" fill="#bdbdbd"/>
<line x1="270.30" y1="212.5" x2="270.30" y2="213.5" stroke="#666" stroke-width="0.4"/>
<rect x="268.30" y="214.70" width="4.0" height="1.2" fill="#bdbdbd"/>
<line x1="278.20" y1="212.5" x2="278.20" y2="213.5" stroke="#666" stroke-width="0.4"/>
<rect x="276.20" y="214.70" width="4.0" height="1.2" fill="#bdbdbd"/>
<line x1="286.10" y1="212.5" x2="286.10" y2="213.5" stroke="#666" stroke-width="0.4"/>
<rect x="284.10" y="214.70" width="4.0" height="1.2" fill="#bdbdbd"/>
<path d="M222.80 211.80L223.30 211.80L223.80 211.80L224.30 211.80L224.80 211.79L225.30 211.79L225.80 211.78L226.30 211.77L226.80 211.77L227.30 211.76L227.80 211.75L228.30 211.74L228.80 211.73L229.30 211.71L229.80 211.70L230.30 211.68L230.80 211.67L231.30 211.65L231.80 211.63L232.30 211.62L232.80 211.60L233.30 211.58L233.80 211.56L234.30 211.54L234.80 211.51L235.30 211.49L235.80 211.47L236.30 211.44L236.80 211.41L237.30 211.39L237.80 211.36L238.30 211.33L238.80 211.30L239.30 211.28L239.80 211.24L240.30 211.21L240.80 211.18L241.30 211.15L241.80 211.12L242.30 211.08L242.80 211.05L243.30 211.01L243.80 210.98L244.30 210.94L244.80 210.91L245.30 210.87L245.80 210.83L246.30 210.79L246.80 210.75L247.30 210.71L247.80 210.67L248.30 210.63L248.80 210.59L249.30 210.54L249.80 210.49L250.30 210.43L250.80 210.36L251.30 210.29L251.80 210.21L252.30 210.12L252.80 210.03L253.30 209.93L253.80 209.83L254.30 209.72L254.80 209.61L255.30 209.49L255.80 209.37L256.30 209.25L256.80 209.12L257.30 208.99L257.80 208.85L258.30 208.72L258.80 208.57L259.30 208.41L259.80 208.23L260.30 208.04L260.80 207.82L261.30 207.58L261.80 207.32L262.30 207.01L262.80 206.61L263.30 206.14L263.80 205.60L264.30 205.01L264.80 204.37L265.30 203.69L265.80 202.99L266.30 202.25L266.80 201.42L267.30 200.49L267.80 199.51L268.30 198.47L268.80 197.41L269.30 196.34L269.80 195.27L270.30 194.18L270.80 193.05L271.30 191.89L271.80 190.71L272.30 189.51L272.80 188.32L273.30 187.12L273.80 185.93L274.30 184.73L274.80 183.47L275.30 182.17L275.80 180.86L276.30 179.60L276.80 178.40L277.30 177.30L277.80 176.34L278.30 175.53L278.80 174.81L279.30 174.15L279.80 173.54L280.30 172.96L280.80 172.41L281.30 171.87L281.80 171.31L282.30 170.74L282.80 170.14L283.30 169.54L283.80 168.94L284.30 168.34L284.80 167.74L285.30 167.09L285.80 166.31L286.30 165.59L286.80 165.15L287.30 165.23L287.80 165.87L288.30 166.68L288.80 167.24L289.30 167.28L289.80 167.13" fill="none" stroke="#f5913c" stroke-width="1.0" stroke-linejoin="round"/>
<path d="M222.80 212.00L223.30 212.00L223.80 212.00L224.30 212.00L224.80 211.99L225.30 211.99L225.80 211.98L226.30 211.97L226.80 211.97L227.30 211.96L227.80 211.95L228.30 211.94L228.80 211.93L229.30 211.91L229.80 211.90L230.30 211.88L230.80 211.87L231.30 211.85L231.80 211.83L232.30 211.82L232.80 211.80L233.30 211.78L233.80 211.76L234.30 211.74L234.80 211.71L235.30 211.69L235.80 211.67L236.30 211.64L236.80 211.61L237.30 211.59L237.80 211.56L238.30 211.53L238.80 211.50L239.30 211.48L239.80 211.44L240.30 211.41L240.80 211.38L241.30 211.35L241.80 211.32L242.30 211.28L242.80 211.25L243.30 211.21L243.80 211.18L244.30 211.14L244.80 211.11L245.30 211.07L245.80 211.03L246.30 210.99L246.80 210.95L247.30 210.91L247.80 210.87L248.30 210.83L248.80 210.79L249.30 210.74L249.80 210.69L250.30 210.63L250.80 210.56L251.30 210.48L251.80 210.40L252.30 210.32L252.80 210.22L253.30 210.12L253.80 210.02L254.30 209.91L254.80 209.80L255.30 209.68L255.80 209.56L256.30 209.44L256.80 209.31L257.30 209.18L257.80 209.05L258.30 208.92L258.80 208.78L259.30 208.63L259.80 208.47L260.30 208.29L260.80 208.09L261.30 207.86L261.80 207.61L262.30 207.31L262.80 206.93L263.30 206.46L263.80 205.92L264.30 205.32L264.80 204.67L265.30 203.99L265.80 203.29L266.30 202.55L266.80 201.72L267.30 200.79L267.80 199.81L268.30 198.77L268.80 197.71L269.30 196.64L269.80 195.57L270.30 194.48L270.80 193.34L271.30 192.18L271.80 190.99L272.30 189.80L272.80 188.60L273.30 187.41L273.80 186.23L274.30 185.04L274.80 183.79L275.30 182.50L275.80 181.21L276.30 179.97L276.80 178.80L277.30 177.73L277.80 176.82L278.30 176.06L278.80 175.35L279.30 174.69L279.80 174.07L280.30 173.50L280.80 172.97L281.30 172.49L281.80 172.05L282.30 171.65L282.80 171.28L283.30 170.91L283.80 170.54L284.30 170.20L284.80 169.92L285.30 169.72L285.80 169.61L286.30 169.61L286.80 169.64L287.30 169.71L287.80 169.83L288.30 169.99L288.80 170.21L289.30 170.49L289.80 170.84" fill="none" stroke="#3c9a3c" stroke-width="1.5" stroke-linejoin="round"/>
<rect x="260.6" y="167.4" width="21.899999999999977" height="45.099999999999994" fill="none" stroke="#5c5ce0" stroke-width="0.6"/>
<rect x="213.9" y="159.4" width="144.49999999999997" height="114.1" fill="none" stroke="#333333" stroke-width="1.0"/>
<line x1="213.90" y1="273.5" x2="213.90" y2="275.3" stroke="#333333" stroke-width="0.7"/>
<text x="213.90" y="281.70" font-size="7.0" font-weight="bold" fill="#222" stroke="#222" stroke-width="0.2" text-anchor="middle" textLength="7.52" lengthAdjust="spacingAndGlyphs">4.4</text>
<line x1="224.22" y1="273.5" x2="224.22" y2="274.6" stroke="#333333" stroke-width="0.6"/>
<line x1="234.54" y1="273.5" x2="234.54" y2="275.3" stroke="#333333" stroke-width="0.7"/>
<text x="234.54" y="281.70" font-size="7.0" font-weight="bold" fill="#222" stroke="#222" stroke-width="0.2" text-anchor="middle" textLength="7.52" lengthAdjust="spacingAndGlyphs">4.6</text>
<line x1="244.86" y1="273.5" x2="244.86" y2="274.6" stroke="#333333" stroke-width="0.6"/>
<line x1="255.19" y1="273.5" x2="255.19" y2="275.3" stroke="#333333" stroke-width="0.7"/>
<text x="255.19" y="281.70" font-size="7.0" font-weight="bold" fill="#222" stroke="#222" stroke-width="0.2" text-anchor="middle" textLength="7.52" lengthAdjust="spacingAndGlyphs">4.8</text>
<line x1="265.51" y1="273.5" x2="265.51" y2="274.6" stroke="#333333" stroke-width="0.6"/>
<line x1="275.83" y1="273.5" x2="275.83" y2="275.3" stroke="#333333" stroke-width="0.7"/>
<text x="275.83" y="281.70" font-size="7.0" font-weight="bold" fill="#222" stroke="#222" stroke-width="0.2" text-anchor="middle" textLength="7.52" lengthAdjust="spacingAndGlyphs">5.0</text>
<line x1="286.15" y1="273.5" x2="286.15" y2="274.6" stroke="#333333" stroke-width="0.6"/>
<line x1="296.47" y1="273.5" x2="296.47" y2="275.3" stroke="#333333" stroke-width="0.7"/>
<text x="296.47" y="281.70" font-size="7.0" font-weight="bold" fill="#222" stroke="#222" stroke-width="0.2" text-anchor="middle" textLength="7.52" lengthAdjust="spacingAndGlyphs">5.2</text>
<line x1="306.79" y1="273.5" x2="306.79" y2="274.6" stroke="#333333" stroke-width="0.6"/>
<line x1="317.11" y1="273.5" x2="317.11" y2="275.3" stroke="#333333" stroke-width="0.7"/>
<text x="317.11" y="281.70" font-size="7.0" font-weight="bold" fill="#222" stroke="#222" stroke-width="0.2" text-anchor="middle" textLength="7.52" lengthAdjust="spacingAndGlyphs">5.4</text>
<line x1="327.44" y1="273.5" x2="327.44" y2="274.6" stroke="#333333" stroke-width="0.6"/>
<line x1="337.76" y1="273.5" x2="337.76" y2="275.3" stroke="#333333" stroke-width="0.7"/>
<text x="337.76" y="281.70" font-size="7.0" font-weight="bold" fill="#222" stroke="#222" stroke-width="0.2" text-anchor="middle" textLength="7.52" lengthAdjust="spacingAndGlyphs">5.6</text>
<line x1="348.08" y1="273.5" x2="348.08" y2="274.6" stroke="#333333" stroke-width="0.6"/>
<line x1="358.40" y1="273.5" x2="358.40" y2="275.3" stroke="#333333" stroke-width="0.7"/>
<text x="358.40" y="281.70" font-size="7.0" font-weight="bold" fill="#222" stroke="#222" stroke-width="0.2" text-anchor="middle" textLength="7.52" lengthAdjust="spacingAndGlyphs">5.8</text>
<line x1="212.1" y1="273.50" x2="213.9" y2="273.50" stroke="#333333" stroke-width="0.7"/>
<text x="210.30" y="275.90" font-size="7.0" font-weight="bold" fill="#222" stroke="#222" stroke-width="0.2" text-anchor="end" textLength="7.00" lengthAdjust="spacingAndGlyphs">0.0</text>
<line x1="212.8" y1="265.78" x2="213.9" y2="265.78" stroke="#333333" stroke-width="0.6"/>
<line x1="212.1" y1="258.06" x2="213.9" y2="258.06" stroke="#333333" stroke-width="0.7"/>
<text x="210.30" y="260.45" font-size="7.0" font-weight="bold" fill="#222" stroke="#222" stroke-width="0.2" text-anchor="end" textLength="7.00" lengthAdjust="spacingAndGlyphs">0.5</text>
<line x1="212.8" y1="250.33" x2="213.9" y2="250.33" stroke="#333333" stroke-width="0.6"/>
<line x1="212.1" y1="242.61" x2="213.9" y2="242.61" stroke="#333333" stroke-width="0.7"/>
<text x="210.30" y="245.01" font-size="7.0" font-weight="bold" fill="#222" stroke="#222" stroke-width="0.2" text-anchor="end" textLength="7.00" lengthAdjust="spacingAndGlyphs">1.0</text>
<line x1="212.8" y1="234.89" x2="213.9" y2="234.89" stroke="#333333" stroke-width="0.6"/>
<line x1="212.1" y1="227.16" x2="213.9" y2="227.16" stroke="#333333" stroke-width="0.7"/>
<text x="210.30" y="229.56" font-size="7.0" font-weight="bold" fill="#222" stroke="#222" stroke-width="0.2" text-anchor="end" textLength="7.00" lengthAdjust="spacingAndGlyphs">1.5</text>
<line x1="212.8" y1="219.44" x2="213.9" y2="219.44" stroke="#333333" stroke-width="0.6"/>
<line x1="212.1" y1="211.72" x2="213.9" y2="211.72" stroke="#333333" stroke-width="0.7"/>
<text x="210.30" y="214.12" font-size="7.0" font-weight="bold" fill="#222" stroke="#222" stroke-width="0.2" text-anchor="end" textLength="7.00" lengthAdjust="spacingAndGlyphs">2.0</text>
<line x1="212.8" y1="204.00" x2="213.9" y2="204.00" stroke="#333333" stroke-width="0.6"/>
<line x1="212.1" y1="196.28" x2="213.9" y2="196.28" stroke="#333333" stroke-width="0.7"/>
<text x="210.30" y="198.68" font-size="7.0" font-weight="bold" fill="#222" stroke="#222" stroke-width="0.2" text-anchor="end" textLength="7.00" lengthAdjust="spacingAndGlyphs">2.5</text>
<line x1="212.8" y1="188.55" x2="213.9" y2="188.55" stroke="#333333" stroke-width="0.6"/>
<line x1="212.1" y1="180.83" x2="213.9" y2="180.83" stroke="#333333" stroke-width="0.7"/>
<text x="210.30" y="183.23" font-size="7.0" font-weight="bold" fill="#222" stroke="#222" stroke-width="0.2" text-anchor="end" textLength="7.00" lengthAdjust="spacingAndGlyphs">3.0</text>
<line x1="212.8" y1="173.11" x2="213.9" y2="173.11" stroke="#333333" stroke-width="0.6"/>
<line x1="212.1" y1="165.38" x2="213.9" y2="165.38" stroke="#333333" stroke-width="0.7"/>
<text x="210.30" y="167.78" font-size="7.0" font-weight="bold" fill="#222" stroke="#222" stroke-width="0.2" text-anchor="end" textLength="7.00" lengthAdjust="spacingAndGlyphs">3.5</text>
<text x="286.2" y="293" font-size="8.7" font-weight="bold" text-anchor="middle">hν (eV)</text>
<text x="273.7" y="304.5" font-size="10.4" font-weight="bold" fill="#222" text-anchor="middle">(e)</text>
<text transform="translate(194.5,214.5) rotate(-90)" font-size="8.3" font-weight="bold" text-anchor="middle">[F(R∞) hν]<tspan font-size="4.9" dy="-3.2">1/2</tspan><tspan dy="3.2"> (eV)</tspan><tspan font-size="4.9" dy="-3.2">1/2</tspan></text>
<rect x="317.45" y="246.25" width="2.30" height="2.30" rx="0.3" fill="none" stroke="#f5913c" stroke-width="1.0"/>
<text x="329.2" y="249.60" font-size="6.5" font-weight="bold" fill="#222">PMMA-4</text>
<path d="M318.60 254.98L319.87 257.29L317.34 257.29Z" fill="none" stroke="#2626a6" stroke-width="1.0"/>
<text x="329.2" y="258.50" font-size="6.5" font-weight="bold" fill="#222">PMMA-5</text>
<circle cx="318.60" cy="264.80" r="1.15" fill="none" stroke="#3c9a3c" stroke-width="1.0"/>
<text x="329.2" y="267.00" font-size="6.5" font-weight="bold" fill="#222">PMMA-6</text>
</g>
<g>
<clipPath id="cf"><rect x="394.6" y="159.4" width="146.60000000000002" height="113.99999999999997"/></clipPath>
<g clip-path="url(#cf)">
<line x1="417.18" y1="273.40" x2="546.20" y2="157.22" stroke="#f5913c" stroke-width="1.05" stroke-dasharray="2.8 2"/>
<line x1="420.79" y1="273.40" x2="546.20" y2="152.94" stroke="#2626a6" stroke-width="1.05" stroke-dasharray="2.8 2"/>
<line x1="429.82" y1="273.40" x2="546.20" y2="146.48" stroke="#3c9a3c" stroke-width="1.05" stroke-dasharray="2.8 2"/>
<rect x="393.45" y="262.36" width="2.30" height="2.30" rx="0.3" fill="none" stroke="#f5913c" stroke-width="0.85"/>
<rect x="395.27" y="262.25" width="2.30" height="2.30" rx="0.3" fill="none" stroke="#f5913c" stroke-width="0.85"/>
<rect x="397.11" y="262.09" width="2.30" height="2.30" rx="0.3" fill="none" stroke="#f5913c" stroke-width="0.85"/>
<rect x="398.97" y="261.88" width="2.30" height="2.30" rx="0.3" fill="none" stroke="#f5913c" stroke-width="0.85"/>
<rect x="400.84" y="261.63" width="2.30" height="2.30" rx="0.3" fill="none" stroke="#f5913c" stroke-width="0.85"/>
<rect x="402.72" y="261.35" width="2.30" height="2.30" rx="0.3" fill="none" stroke="#f5913c" stroke-width="0.85"/>
<rect x="404.62" y="261.03" width="2.30" height="2.30" rx="0.3" fill="none" stroke="#f5913c" stroke-width="0.85"/>
<rect x="406.53" y="260.67" width="2.30" height="2.30" rx="0.3" fill="none" stroke="#f5913c" stroke-width="0.85"/>
<rect x="408.46" y="260.28" width="2.30" height="2.30" rx="0.3" fill="none" stroke="#f5913c" stroke-width="0.85"/>
<rect x="410.41" y="259.86" width="2.30" height="2.30" rx="0.3" fill="none" stroke="#f5913c" stroke-width="0.85"/>
<rect x="412.37" y="259.42" width="2.30" height="2.30" rx="0.3" fill="none" stroke="#f5913c" stroke-width="0.85"/>
<rect x="414.35" y="258.96" width="2.30" height="2.30" rx="0.3" fill="none" stroke="#f5913c" stroke-width="0.85"/>
<rect x="416.34" y="258.47" width="2.30" height="2.30" rx="0.3" fill="none" stroke="#f5913c" stroke-width="0.85"/>
<rect x="418.35" y="257.97" width="2.30" height="2.30" rx="0.3" fill="none" stroke="#f5913c" stroke-width="0.85"/>
<rect x="420.38" y="257.44" width="2.30" height="2.30" rx="0.3" fill="none" stroke="#f5913c" stroke-width="0.85"/>
<rect x="422.42" y="256.81" width="2.30" height="2.30" rx="0.3" fill="none" stroke="#f5913c" stroke-width="0.85"/>
<rect x="424.48" y="256.09" width="2.30" height="2.30" rx="0.3" fill="none" stroke="#f5913c" stroke-width="0.85"/>
<rect x="426.56" y="255.29" width="2.30" height="2.30" rx="0.3" fill="none" stroke="#f5913c" stroke-width="0.85"/>
<rect x="428.66" y="254.43" width="2.30" height="2.30" rx="0.3" fill="none" stroke="#f5913c" stroke-width="0.85"/>
<rect x="430.77" y="253.52" width="2.30" height="2.30" rx="0.3" fill="none" stroke="#f5913c" stroke-width="0.85"/>
<rect x="432.90" y="252.58" width="2.30" height="2.30" rx="0.3" fill="none" stroke="#f5913c" stroke-width="0.85"/>
<rect x="435.05" y="251.59" width="2.30" height="2.30" rx="0.3" fill="none" stroke="#f5913c" stroke-width="0.85"/>
<rect x="437.22" y="250.52" width="2.30" height="2.30" rx="0.3" fill="none" stroke="#f5913c" stroke-width="0.85"/>
<rect x="439.41" y="249.38" width="2.30" height="2.30" rx="0.3" fill="none" stroke="#f5913c" stroke-width="0.85"/>
<rect x="441.62" y="248.17" width="2.30" height="2.30" rx="0.3" fill="none" stroke="#f5913c" stroke-width="0.85"/>
<rect x="443.84" y="246.88" width="2.30" height="2.30" rx="0.3" fill="none" stroke="#f5913c" stroke-width="0.85"/>
<rect x="446.09" y="245.51" width="2.30" height="2.30" rx="0.3" fill="none" stroke="#f5913c" stroke-width="0.85"/>
<rect x="448.35" y="244.07" width="2.30" height="2.30" rx="0.3" fill="none" stroke="#f5913c" stroke-width="0.85"/>
<rect x="450.64" y="242.55" width="2.30" height="2.30" rx="0.3" fill="none" stroke="#f5913c" stroke-width="0.85"/>
<rect x="452.94" y="240.90" width="2.30" height="2.30" rx="0.3" fill="none" stroke="#f5913c" stroke-width="0.85"/>
<rect x="455.27" y="239.14" width="2.30" height="2.30" rx="0.3" fill="none" stroke="#f5913c" stroke-width="0.85"/>
<rect x="457.62" y="237.27" width="2.30" height="2.30" rx="0.3" fill="none" stroke="#f5913c" stroke-width="0.85"/>
<rect x="459.99" y="235.29" width="2.30" height="2.30" rx="0.3" fill="none" stroke="#f5913c" stroke-width="0.85"/>
<rect x="462.38" y="233.23" width="2.30" height="2.30" rx="0.3" fill="none" stroke="#f5913c" stroke-width="0.85"/>
<rect x="464.79" y="231.08" width="2.30" height="2.30" rx="0.3" fill="none" stroke="#f5913c" stroke-width="0.85"/>
<rect x="467.22" y="228.86" width="2.30" height="2.30" rx="0.3" fill="none" stroke="#f5913c" stroke-width="0.85"/>
<rect x="469.68" y="226.58" width="2.30" height="2.30" rx="0.3" fill="none" stroke="#f5913c" stroke-width="0.85"/>
<rect x="472.15" y="224.24" width="2.30" height="2.30" rx="0.3" fill="none" stroke="#f5913c" stroke-width="0.85"/>
<rect x="474.65" y="221.86" width="2.30" height="2.30" rx="0.3" fill="none" stroke="#f5913c" stroke-width="0.85"/>
<rect x="477.18" y="219.28" width="2.30" height="2.30" rx="0.3" fill="none" stroke="#f5913c" stroke-width="0.85"/>
<rect x="479.73" y="216.50" width="2.30" height="2.30" rx="0.3" fill="none" stroke="#f5913c" stroke-width="0.85"/>
<rect x="482.30" y="213.64" width="2.30" height="2.30" rx="0.3" fill="none" stroke="#f5913c" stroke-width="0.85"/>
<rect x="484.89" y="210.80" width="2.30" height="2.30" rx="0.3" fill="none" stroke="#f5913c" stroke-width="0.85"/>
<rect x="487.52" y="208.11" width="2.30" height="2.30" rx="0.3" fill="none" stroke="#f5913c" stroke-width="0.85"/>
<rect x="490.16" y="205.67" width="2.30" height="2.30" rx="0.3" fill="none" stroke="#f5913c" stroke-width="0.85"/>
<rect x="492.83" y="203.38" width="2.30" height="2.30" rx="0.3" fill="none" stroke="#f5913c" stroke-width="0.85"/>
<rect x="495.53" y="201.19" width="2.30" height="2.30" rx="0.3" fill="none" stroke="#f5913c" stroke-width="0.85"/>
<rect x="498.25" y="199.06" width="2.30" height="2.30" rx="0.3" fill="none" stroke="#f5913c" stroke-width="0.85"/>
<rect x="501.00" y="196.98" width="2.30" height="2.30" rx="0.3" fill="none" stroke="#f5913c" stroke-width="0.85"/>
<rect x="503.78" y="194.91" width="2.30" height="2.30" rx="0.3" fill="none" stroke="#f5913c" stroke-width="0.85"/>
<rect x="506.58" y="192.89" width="2.30" height="2.30" rx="0.3" fill="none" stroke="#f5913c" stroke-width="0.85"/>
<rect x="509.41" y="190.95" width="2.30" height="2.30" rx="0.3" fill="none" stroke="#f5913c" stroke-width="0.85"/>
<rect x="512.27" y="189.01" width="2.30" height="2.30" rx="0.3" fill="none" stroke="#f5913c" stroke-width="0.85"/>
<rect x="515.15" y="187.01" width="2.30" height="2.30" rx="0.3" fill="none" stroke="#f5913c" stroke-width="0.85"/>
<rect x="518.07" y="184.85" width="2.30" height="2.30" rx="0.3" fill="none" stroke="#f5913c" stroke-width="0.85"/>
<rect x="521.02" y="182.52" width="2.30" height="2.30" rx="0.3" fill="none" stroke="#f5913c" stroke-width="0.85"/>
<rect x="523.99" y="180.14" width="2.30" height="2.30" rx="0.3" fill="none" stroke="#f5913c" stroke-width="0.85"/>
<rect x="527.00" y="177.82" width="2.30" height="2.30" rx="0.3" fill="none" stroke="#f5913c" stroke-width="0.85"/>
<rect x="530.03" y="175.53" width="2.30" height="2.30" rx="0.3" fill="none" stroke="#f5913c" stroke-width="0.85"/>
<rect x="533.10" y="173.25" width="2.30" height="2.30" rx="0.3" fill="none" stroke="#f5913c" stroke-width="0.85"/>
<rect x="536.20" y="170.98" width="2.30" height="2.30" rx="0.3" fill="none" stroke="#f5913c" stroke-width="0.85"/>
<rect x="539.33" y="168.72" width="2.30" height="2.30" rx="0.3" fill="none" stroke="#f5913c" stroke-width="0.85"/>
<path d="M394.60 262.87L395.98 265.39L393.23 265.39Z" fill="none" stroke="#2626a6" stroke-width="0.85"/>
<path d="M396.42 262.77L397.80 265.28L395.05 265.28Z" fill="none" stroke="#2626a6" stroke-width="0.85"/>
<path d="M398.26 262.61L399.64 265.13L396.89 265.13Z" fill="none" stroke="#2626a6" stroke-width="0.85"/>
<path d="M400.12 262.42L401.49 264.94L398.74 264.94Z" fill="none" stroke="#2626a6" stroke-width="0.85"/>
<path d="M401.99 262.18L403.36 264.70L400.61 264.70Z" fill="none" stroke="#2626a6" stroke-width="0.85"/>
<path d="M403.87 261.91L405.24 264.43L402.49 264.43Z" fill="none" stroke="#2626a6" stroke-width="0.85"/>
<path d="M405.77 261.60L407.14 264.12L404.39 264.12Z" fill="none" stroke="#2626a6" stroke-width="0.85"/>
<path d="M407.68 261.26L409.06 263.78L406.31 263.78Z" fill="none" stroke="#2626a6" stroke-width="0.85"/>
<path d="M409.61 260.89L410.99 263.41L408.24 263.41Z" fill="none" stroke="#2626a6" stroke-width="0.85"/>
<path d="M411.56 260.49L412.93 263.01L410.18 263.01Z" fill="none" stroke="#2626a6" stroke-width="0.85"/>
<path d="M413.52 260.07L414.89 262.58L412.14 262.58Z" fill="none" stroke="#2626a6" stroke-width="0.85"/>
<path d="M415.50 259.62L416.87 262.14L414.12 262.14Z" fill="none" stroke="#2626a6" stroke-width="0.85"/>
<path d="M417.49 259.16L418.86 261.67L416.11 261.67Z" fill="none" stroke="#2626a6" stroke-width="0.85"/>
<path d="M419.50 258.68L420.87 261.20L418.12 261.20Z" fill="none" stroke="#2626a6" stroke-width="0.85"/>
<path d="M421.53 258.17L422.90 260.69L420.15 260.69Z" fill="none" stroke="#2626a6" stroke-width="0.85"/>
<path d="M423.57 257.58L424.95 260.09L422.20 260.09Z" fill="none" stroke="#2626a6" stroke-width="0.85"/>
<path d="M425.63 256.90L427.01 259.42L424.26 259.42Z" fill="none" stroke="#2626a6" stroke-width="0.85"/>
<path d="M427.71 256.15L429.09 258.67L426.34 258.67Z" fill="none" stroke="#2626a6" stroke-width="0.85"/>
<path d="M429.81 255.33L431.18 257.84L428.43 257.84Z" fill="none" stroke="#2626a6" stroke-width="0.85"/>
<path d="M431.92 254.44L433.30 256.96L430.55 256.96Z" fill="none" stroke="#2626a6" stroke-width="0.85"/>
<path d="M434.05 253.49L435.43 256.01L432.68 256.01Z" fill="none" stroke="#2626a6" stroke-width="0.85"/>
<path d="M436.20 252.44L437.58 254.96L434.83 254.96Z" fill="none" stroke="#2626a6" stroke-width="0.85"/>
<path d="M438.37 251.26L439.75 253.77L437.00 253.77Z" fill="none" stroke="#2626a6" stroke-width="0.85"/>
<path d="M440.56 249.95L441.94 252.47L439.19 252.47Z" fill="none" stroke="#2626a6" stroke-width="0.85"/>
<path d="M442.77 248.54L444.14 251.06L441.39 251.06Z" fill="none" stroke="#2626a6" stroke-width="0.85"/>
<path d="M444.99 247.05L446.37 249.56L443.62 249.56Z" fill="none" stroke="#2626a6" stroke-width="0.85"/>
<path d="M447.24 245.48L448.61 248.00L445.86 248.00Z" fill="none" stroke="#2626a6" stroke-width="0.85"/>
<path d="M449.50 243.86L450.88 246.37L448.13 246.37Z" fill="none" stroke="#2626a6" stroke-width="0.85"/>
<path d="M451.79 242.19L453.16 244.70L450.41 244.70Z" fill="none" stroke="#2626a6" stroke-width="0.85"/>
<path d="M454.09 240.42L455.47 242.94L452.72 242.94Z" fill="none" stroke="#2626a6" stroke-width="0.85"/>
<path d="M456.42 238.56L457.80 241.07L455.05 241.07Z" fill="none" stroke="#2626a6" stroke-width="0.85"/>
<path d="M458.77 236.60L460.14 239.12L457.39 239.12Z" fill="none" stroke="#2626a6" stroke-width="0.85"/>
<path d="M461.14 234.56L462.51 237.07L459.76 237.07Z" fill="none" stroke="#2626a6" stroke-width="0.85"/>
<path d="M463.53 232.43L464.90 234.94L462.15 234.94Z" fill="none" stroke="#2626a6" stroke-width="0.85"/>
<path d="M465.94 230.22L467.31 232.74L464.56 232.74Z" fill="none" stroke="#2626a6" stroke-width="0.85"/>
<path d="M468.37 227.95L469.74 230.46L466.99 230.46Z" fill="none" stroke="#2626a6" stroke-width="0.85"/>
<path d="M470.83 225.61L472.20 228.12L469.45 228.12Z" fill="none" stroke="#2626a6" stroke-width="0.85"/>
<path d="M473.30 223.21L474.68 225.73L471.93 225.73Z" fill="none" stroke="#2626a6" stroke-width="0.85"/>
<path d="M475.80 220.76L477.18 223.28L474.43 223.28Z" fill="none" stroke="#2626a6" stroke-width="0.85"/>
<path d="M478.33 218.15L479.70 220.67L476.95 220.67Z" fill="none" stroke="#2626a6" stroke-width="0.85"/>
<path d="M480.88 215.38L482.25 217.90L479.50 217.90Z" fill="none" stroke="#2626a6" stroke-width="0.85"/>
<path d="M483.45 212.51L484.82 215.03L482.07 215.03Z" fill="none" stroke="#2626a6" stroke-width="0.85"/>
<path d="M486.04 209.61L487.42 212.13L484.67 212.13Z" fill="none" stroke="#2626a6" stroke-width="0.85"/>
<path d="M488.67 206.76L490.04 209.28L487.29 209.28Z" fill="none" stroke="#2626a6" stroke-width="0.85"/>
<path d="M491.31 204.01L492.69 206.53L489.94 206.53Z" fill="none" stroke="#2626a6" stroke-width="0.85"/>
<path d="M493.98 201.28L495.36 203.79L492.61 203.79Z" fill="none" stroke="#2626a6" stroke-width="0.85"/>
<path d="M496.68 198.56L498.05 201.07L495.30 201.07Z" fill="none" stroke="#2626a6" stroke-width="0.85"/>
<path d="M499.40 195.87L500.78 198.38L498.03 198.38Z" fill="none" stroke="#2626a6" stroke-width="0.85"/>
<path d="M502.15 193.22L503.53 195.73L500.78 195.73Z" fill="none" stroke="#2626a6" stroke-width="0.85"/>
<path d="M504.93 190.63L506.30 193.15L503.55 193.15Z" fill="none" stroke="#2626a6" stroke-width="0.85"/>
<path d="M507.73 188.17L509.10 190.68L506.35 190.68Z" fill="none" stroke="#2626a6" stroke-width="0.85"/>
<path d="M510.56 185.82L511.93 188.33L509.18 188.33Z" fill="none" stroke="#2626a6" stroke-width="0.85"/>
<path d="M513.42 183.47L514.79 185.99L512.04 185.99Z" fill="none" stroke="#2626a6" stroke-width="0.85"/>
<path d="M516.30 181.01L517.68 183.52L514.93 183.52Z" fill="none" stroke="#2626a6" stroke-width="0.85"/>
<path d="M519.22 178.27L520.60 180.78L517.85 180.78Z" fill="none" stroke="#2626a6" stroke-width="0.85"/>
<path d="M522.17 175.11L523.54 177.63L520.79 177.63Z" fill="none" stroke="#2626a6" stroke-width="0.85"/>
<path d="M525.14 172.02L526.52 174.54L523.77 174.54Z" fill="none" stroke="#2626a6" stroke-width="0.85"/>
<path d="M528.15 169.51L529.52 172.02L526.77 172.02Z" fill="none" stroke="#2626a6" stroke-width="0.85"/>
<path d="M531.18 167.24L532.56 169.75L529.81 169.75Z" fill="none" stroke="#2626a6" stroke-width="0.85"/>
<path d="M534.25 165.14L535.62 167.66L532.87 167.66Z" fill="none" stroke="#2626a6" stroke-width="0.85"/>
<path d="M537.35 163.30L538.72 165.82L535.97 165.82Z" fill="none" stroke="#2626a6" stroke-width="0.85"/>
<path d="M540.48 161.78L541.85 164.29L539.10 164.29Z" fill="none" stroke="#2626a6" stroke-width="0.85"/>
<circle cx="394.60" cy="262.00" r="1.25" fill="none" stroke="#3c9a3c" stroke-width="0.85"/>
<circle cx="396.42" cy="261.95" r="1.25" fill="none" stroke="#3c9a3c" stroke-width="0.85"/>
<circle cx="398.26" cy="261.87" r="1.25" fill="none" stroke="#3c9a3c" stroke-width="0.85"/>
<circle cx="400.12" cy="261.76" r="1.25" fill="none" stroke="#3c9a3c" stroke-width="0.85"/>
<circle cx="401.99" cy="261.62" r="1.25" fill="none" stroke="#3c9a3c" stroke-width="0.85"/>
<circle cx="403.87" cy="261.47" r="1.25" fill="none" stroke="#3c9a3c" stroke-width="0.85"/>
<circle cx="405.77" cy="261.29" r="1.25" fill="none" stroke="#3c9a3c" stroke-width="0.85"/>
<circle cx="407.68" cy="261.09" r="1.25" fill="none" stroke="#3c9a3c" stroke-width="0.85"/>
<circle cx="409.61" cy="260.87" r="1.25" fill="none" stroke="#3c9a3c" stroke-width="0.85"/>
<circle cx="411.56" cy="260.63" r="1.25" fill="none" stroke="#3c9a3c" stroke-width="0.85"/>
<circle cx="413.52" cy="260.39" r="1.25" fill="none" stroke="#3c9a3c" stroke-width="0.85"/>
<circle cx="415.50" cy="260.12" r="1.25" fill="none" stroke="#3c9a3c" stroke-width="0.85"/>
<circle cx="417.49" cy="259.85" r="1.25" fill="none" stroke="#3c9a3c" stroke-width="0.85"/>
<circle cx="419.50" cy="259.57" r="1.25" fill="none" stroke="#3c9a3c" stroke-width="0.85"/>
<circle cx="421.53" cy="259.27" r="1.25" fill="none" stroke="#3c9a3c" stroke-width="0.85"/>
<circle cx="423.57" cy="258.93" r="1.25" fill="none" stroke="#3c9a3c" stroke-width="0.85"/>
<circle cx="425.63" cy="258.55" r="1.25" fill="none" stroke="#3c9a3c" stroke-width="0.85"/>
<circle cx="427.71" cy="258.11" r="1.25" fill="none" stroke="#3c9a3c" stroke-width="0.85"/>
<circle cx="429.81" cy="257.62" r="1.25" fill="none" stroke="#3c9a3c" stroke-width="0.85"/>
<circle cx="431.92" cy="257.07" r="1.25" fill="none" stroke="#3c9a3c" stroke-width="0.85"/>
<circle cx="434.05" cy="256.45" r="1.25" fill="none" stroke="#3c9a3c" stroke-width="0.85"/>
<circle cx="436.20" cy="255.69" r="1.25" fill="none" stroke="#3c9a3c" stroke-width="0.85"/>
<circle cx="438.37" cy="254.73" r="1.25" fill="none" stroke="#3c9a3c" stroke-width="0.85"/>
<circle cx="440.56" cy="253.62" r="1.25" fill="none" stroke="#3c9a3c" stroke-width="0.85"/>
<circle cx="442.77" cy="252.41" r="1.25" fill="none" stroke="#3c9a3c" stroke-width="0.85"/>
<circle cx="444.99" cy="251.13" r="1.25" fill="none" stroke="#3c9a3c" stroke-width="0.85"/>
<circle cx="447.24" cy="249.84" r="1.25" fill="none" stroke="#3c9a3c" stroke-width="0.85"/>
<circle cx="449.50" cy="248.58" r="1.25" fill="none" stroke="#3c9a3c" stroke-width="0.85"/>
<circle cx="451.79" cy="247.41" r="1.25" fill="none" stroke="#3c9a3c" stroke-width="0.85"/>
<circle cx="454.09" cy="246.33" r="1.25" fill="none" stroke="#3c9a3c" stroke-width="0.85"/>
<circle cx="456.42" cy="245.15" r="1.25" fill="none" stroke="#3c9a3c" stroke-width="0.85"/>
<circle cx="458.77" cy="243.67" r="1.25" fill="none" stroke="#3c9a3c" stroke-width="0.85"/>
<circle cx="461.14" cy="241.73" r="1.25" fill="none" stroke="#3c9a3c" stroke-width="0.85"/>
<circle cx="463.53" cy="239.35" r="1.25" fill="none" stroke="#3c9a3c" stroke-width="0.85"/>
<circle cx="465.94" cy="236.64" r="1.25" fill="none" stroke="#3c9a3c" stroke-width="0.85"/>
<circle cx="468.37" cy="233.68" r="1.25" fill="none" stroke="#3c9a3c" stroke-width="0.85"/>
<circle cx="470.83" cy="230.58" r="1.25" fill="none" stroke="#3c9a3c" stroke-width="0.85"/>
<circle cx="473.30" cy="227.45" r="1.25" fill="none" stroke="#3c9a3c" stroke-width="0.85"/>
<circle cx="475.80" cy="224.39" r="1.25" fill="none" stroke="#3c9a3c" stroke-width="0.85"/>
<circle cx="478.33" cy="221.21" r="1.25" fill="none" stroke="#3c9a3c" stroke-width="0.85"/>
<circle cx="480.88" cy="217.85" r="1.25" fill="none" stroke="#3c9a3c" stroke-width="0.85"/>
<circle cx="483.45" cy="214.40" r="1.25" fill="none" stroke="#3c9a3c" stroke-width="0.85"/>
<circle cx="486.04" cy="210.95" r="1.25" fill="none" stroke="#3c9a3c" stroke-width="0.85"/>
<circle cx="488.67" cy="207.61" r="1.25" fill="none" stroke="#3c9a3c" stroke-width="0.85"/>
<circle cx="491.31" cy="204.44" r="1.25" fill="none" stroke="#3c9a3c" stroke-width="0.85"/>
<circle cx="493.98" cy="201.24" r="1.25" fill="none" stroke="#3c9a3c" stroke-width="0.85"/>
<circle cx="496.68" cy="198.05" r="1.25" fill="none" stroke="#3c9a3c" stroke-width="0.85"/>
<circle cx="499.40" cy="194.98" r="1.25" fill="none" stroke="#3c9a3c" stroke-width="0.85"/>
<circle cx="502.15" cy="192.11" r="1.25" fill="none" stroke="#3c9a3c" stroke-width="0.85"/>
<circle cx="504.93" cy="189.56" r="1.25" fill="none" stroke="#3c9a3c" stroke-width="0.85"/>
<circle cx="507.73" cy="187.36" r="1.25" fill="none" stroke="#3c9a3c" stroke-width="0.85"/>
<circle cx="510.56" cy="185.39" r="1.25" fill="none" stroke="#3c9a3c" stroke-width="0.85"/>
<circle cx="513.42" cy="183.59" r="1.25" fill="none" stroke="#3c9a3c" stroke-width="0.85"/>
<circle cx="516.30" cy="181.90" r="1.25" fill="none" stroke="#3c9a3c" stroke-width="0.85"/>
<circle cx="519.22" cy="180.25" r="1.25" fill="none" stroke="#3c9a3c" stroke-width="0.85"/>
<circle cx="522.17" cy="178.59" r="1.25" fill="none" stroke="#3c9a3c" stroke-width="0.85"/>
<circle cx="525.14" cy="177.17" r="1.25" fill="none" stroke="#3c9a3c" stroke-width="0.85"/>
<circle cx="528.15" cy="176.23" r="1.25" fill="none" stroke="#3c9a3c" stroke-width="0.85"/>
<circle cx="531.18" cy="175.43" r="1.25" fill="none" stroke="#3c9a3c" stroke-width="0.85"/>
<circle cx="534.25" cy="174.74" r="1.25" fill="none" stroke="#3c9a3c" stroke-width="0.85"/>
<circle cx="537.35" cy="174.23" r="1.25" fill="none" stroke="#3c9a3c" stroke-width="0.85"/>
<circle cx="540.48" cy="174.01" r="1.25" fill="none" stroke="#3c9a3c" stroke-width="0.85"/>
</g>
<rect x="402.5" y="161.5" width="69.0" height="57.0" fill="#fff" stroke="#6a6a6a" stroke-width="0.6"/>
<line x1="401.5" y1="217.50" x2="402.5" y2="217.50" stroke="#666" stroke-width="0.4"/>
<rect x="397.90" y="216.90" width="2.4" height="1.1" fill="#b5b5b5"/>
<line x1="401.5" y1="203.30" x2="402.5" y2="203.30" stroke="#666" stroke-width="0.4"/>
<rect x="397.90" y="202.70" width="2.4" height="1.1" fill="#b5b5b5"/>
<line x1="401.5" y1="189.90" x2="402.5" y2="189.90" stroke="#666" stroke-width="0.4"/>
<rect x="397.90" y="189.30" width="2.4" height="1.1" fill="#b5b5b5"/>
<line x1="401.5" y1="176.40" x2="402.5" y2="176.40" stroke="#666" stroke-width="0.4"/>
<rect x="397.90" y="175.80" width="2.4" height="1.1" fill="#b5b5b5"/>
<line x1="401.5" y1="164.00" x2="402.5" y2="164.00" stroke="#666" stroke-width="0.4"/>
<rect x="397.90" y="163.40" width="2.4" height="1.1" fill="#b5b5b5"/>
<line x1="402.90" y1="218.5" x2="402.90" y2="219.5" stroke="#666" stroke-width="0.4"/>
<rect x="401.00" y="220.90" width="3.8" height="1.2" fill="#bdbdbd"/>
<line x1="410.50" y1="218.5" x2="410.50" y2="219.5" stroke="#666" stroke-width="0.4"/>
<rect x="408.60" y="220.90" width="3.8" height="1.2" fill="#bdbdbd"/>
<line x1="418.10" y1="218.5" x2="418.10" y2="219.5" stroke="#666" stroke-width="0.4"/>
<rect x="416.20" y="220.90" width="3.8" height="1.2" fill="#bdbdbd"/>
<line x1="425.70" y1="218.5" x2="425.70" y2="219.5" stroke="#666" stroke-width="0.4"/>
<rect x="423.80" y="220.90" width="3.8" height="1.2" fill="#bdbdbd"/>
<line x1="433.30" y1="218.5" x2="433.30" y2="219.5" stroke="#666" stroke-width="0.4"/>
<rect x="431.40" y="220.90" width="3.8" height="1.2" fill="#bdbdbd"/>
<line x1="440.90" y1="218.5" x2="440.90" y2="219.5" stroke="#666" stroke-width="0.4"/>
<rect x="439.00" y="220.90" width="3.8" height="1.2" fill="#bdbdbd"/>
<line x1="448.50" y1="218.5" x2="448.50" y2="219.5" stroke="#666" stroke-width="0.4"/>
<rect x="446.60" y="220.90" width="3.8" height="1.2" fill="#bdbdbd"/>
<line x1="456.10" y1="218.5" x2="456.10" y2="219.5" stroke="#666" stroke-width="0.4"/>
<rect x="454.20" y="220.90" width="3.8" height="1.2" fill="#bdbdbd"/>
<line x1="463.70" y1="218.5" x2="463.70" y2="219.5" stroke="#666" stroke-width="0.4"/>
<rect x="461.80" y="220.90" width="3.8" height="1.2" fill="#bdbdbd"/>
<line x1="471.30" y1="218.5" x2="471.30" y2="219.5" stroke="#666" stroke-width="0.4"/>
<rect x="469.40" y="220.90" width="3.8" height="1.2" fill="#bdbdbd"/>
<path d="M402.80 217.50L403.30 217.50L403.80 217.50L404.30 217.49L404.80 217.49L405.30 217.48L405.80 217.47L406.30 217.46L406.80 217.44L407.30 217.43L407.80 217.41L408.30 217.39L408.80 217.37L409.30 217.35L409.80 217.33L410.30 217.30L410.80 217.28L411.30 217.25L411.80 217.22L412.30 217.19L412.80 217.16L413.30 217.13L413.80 217.10L414.30 217.06L414.80 217.03L415.30 216.99L415.80 216.95L416.30 216.91L416.80 216.87L417.30 216.83L417.80 216.79L418.30 216.75L418.80 216.70L419.30 216.66L419.80 216.61L420.30 216.57L420.80 216.52L421.30 216.47L421.80 216.42L422.30 216.37L422.80 216.32L423.30 216.27L423.80 216.22L424.30 216.17L424.80 216.12L425.30 216.07L425.80 216.01L426.30 215.96L426.80 215.91L427.30 215.85L427.80 215.80L428.30 215.74L428.80 215.69L429.30 215.63L429.80 215.57L430.30 215.51L430.80 215.44L431.30 215.37L431.80 215.30L432.30 215.22L432.80 215.14L433.30 215.05L433.80 214.95L434.30 214.86L434.80 214.75L435.30 214.64L435.80 214.52L436.30 214.39L436.80 214.26L437.30 214.12L437.80 213.97L438.30 213.80L438.80 213.60L439.30 213.37L439.80 213.11L440.30 212.83L440.80 212.51L441.30 212.17L441.80 211.80L442.30 211.39L442.80 210.96L443.30 210.50L443.80 209.93L444.30 209.20L444.80 208.34L445.30 207.39L445.80 206.39L446.30 205.37L446.80 204.38L447.30 203.44L447.80 202.52L448.30 201.59L448.80 200.66L449.30 199.69L449.80 198.68L450.30 197.61L450.80 196.47L451.30 195.24L451.80 193.85L452.30 192.28L452.80 190.58L453.30 188.81L453.80 186.99L454.30 185.18L454.80 183.42L455.30 181.74L455.80 180.20L456.30 178.71L456.80 177.23L457.30 175.79L457.80 174.41L458.30 173.12L458.80 171.94L459.30 170.83L459.80 169.63L460.30 168.53L460.80 167.72L461.30 167.40L461.80 167.47L462.30 167.65L462.80 167.92L463.30 168.26L463.80 168.64L464.30 169.09L464.80 169.80L465.30 170.70L465.80 171.71L466.30 172.72L466.80 173.66L467.30 174.48L467.80 175.25L468.30 175.99L468.80 176.72" fill="none" stroke="#2626a6" stroke-width="1.3" stroke-linejoin="round"/>
<path d="M402.80 217.30L403.30 217.30L403.80 217.30L404.30 217.29L404.80 217.29L405.30 217.28L405.80 217.27L406.30 217.26L406.80 217.24L407.30 217.23L407.80 217.21L408.30 217.20L408.80 217.18L409.30 217.16L409.80 217.13L410.30 217.11L410.80 217.09L411.30 217.06L411.80 217.03L412.30 217.00L412.80 216.97L413.30 216.94L413.80 216.91L414.30 216.87L414.80 216.84L415.30 216.80L415.80 216.76L416.30 216.73L416.80 216.69L417.30 216.65L417.80 216.60L418.30 216.56L418.80 216.52L419.30 216.47L419.80 216.43L420.30 216.38L420.80 216.33L421.30 216.29L421.80 216.24L422.30 216.19L422.80 216.14L423.30 216.09L423.80 216.04L424.30 215.98L424.80 215.93L425.30 215.88L425.80 215.82L426.30 215.77L426.80 215.71L427.30 215.66L427.80 215.60L428.30 215.55L428.80 215.49L429.30 215.43L429.80 215.36L430.30 215.30L430.80 215.22L431.30 215.14L431.80 215.06L432.30 214.97L432.80 214.87L433.30 214.77L433.80 214.67L434.30 214.55L434.80 214.43L435.30 214.31L435.80 214.17L436.30 214.03L436.80 213.89L437.30 213.73L437.80 213.57L438.30 213.38L438.80 213.17L439.30 212.93L439.80 212.67L440.30 212.37L440.80 212.05L441.30 211.70L441.80 211.32L442.30 210.91L442.80 210.47L443.30 210.00L443.80 209.42L444.30 208.69L444.80 207.82L445.30 206.88L445.80 205.88L446.30 204.87L446.80 203.88L447.30 202.94L447.80 202.01L448.30 201.09L448.80 200.14L449.30 199.17L449.80 198.16L450.30 197.10L450.80 195.96L451.30 194.75L451.80 193.38L452.30 191.85L452.80 190.20L453.30 188.48L453.80 186.73L454.30 184.98L454.80 183.29L455.30 181.69L455.80 180.21L456.30 178.76L456.80 177.29L457.30 175.87L457.80 174.54L458.30 173.35L458.80 172.34L459.30 171.51L459.80 170.70L460.30 169.93L460.80 169.27L461.30 168.78L461.80 168.52L462.30 168.52L462.80 168.64L463.30 168.85L463.80 169.14L464.30 169.47L464.80 169.85L465.30 170.29L465.80 170.99L466.30 171.83L466.80 172.69L467.30 173.45L467.80 174.20L468.30 174.95L468.80 175.70" fill="none" stroke="#f5913c" stroke-width="1.0" stroke-linejoin="round"/>
<path d="M402.80 217.00L403.30 217.00L403.80 217.00L404.30 216.99L404.80 216.99L405.30 216.98L405.80 216.97L406.30 216.96L406.80 216.95L407.30 216.93L407.80 216.92L408.30 216.90L408.80 216.88L409.30 216.86L409.80 216.84L410.30 216.82L410.80 216.79L411.30 216.77L411.80 216.74L412.30 216.71L412.80 216.69L413.30 216.66L413.80 216.62L414.30 216.59L414.80 216.56L415.30 216.52L415.80 216.49L416.30 216.45L416.80 216.41L417.30 216.38L417.80 216.34L418.30 216.30L418.80 216.25L419.30 216.21L419.80 216.17L420.30 216.13L420.80 216.08L421.30 216.04L421.80 215.99L422.30 215.94L422.80 215.90L423.30 215.85L423.80 215.80L424.30 215.75L424.80 215.70L425.30 215.65L425.80 215.60L426.30 215.55L426.80 215.50L427.30 215.45L427.80 215.39L428.30 215.34L428.80 215.29L429.30 215.23L429.80 215.18L430.30 215.11L430.80 215.05L431.30 214.98L431.80 214.90L432.30 214.82L432.80 214.74L433.30 214.65L433.80 214.55L434.30 214.45L434.80 214.35L435.30 214.23L435.80 214.11L436.30 213.99L436.80 213.86L437.30 213.72L437.80 213.57L438.30 213.40L438.80 213.21L439.30 212.99L439.80 212.75L440.30 212.48L440.80 212.18L441.30 211.86L441.80 211.51L442.30 211.13L442.80 210.73L443.30 210.30L443.80 209.78L444.30 209.13L444.80 208.38L445.30 207.55L445.80 206.67L446.30 205.76L446.80 204.86L447.30 203.97L447.80 203.07L448.30 202.16L448.80 201.21L449.30 200.23L449.80 199.20L450.30 198.11L450.80 196.97L451.30 195.75L451.80 194.38L452.30 192.85L452.80 191.20L453.30 189.48L453.80 187.73L454.30 185.98L454.80 184.29L455.30 182.69L455.80 181.21L456.30 179.78L456.80 178.34L457.30 176.95L457.80 175.63L458.30 174.43L458.80 173.37L459.30 172.45L459.80 171.49L460.30 170.61L460.80 169.92L461.30 169.54L461.80 169.53L462.30 169.72L462.80 170.02L463.30 170.41L463.80 170.83L464.30 171.29L464.80 171.92L465.30 172.68L465.80 173.51L466.30 174.37L466.80 175.19L467.30 175.95L467.80 176.70L468.30 177.45L468.80 178.20" fill="none" stroke="#3c9a3c" stroke-width="1.3" stroke-linejoin="round"/>
<rect x="437.7" y="170.3" width="22.80000000000001" height="48.19999999999999" fill="none" stroke="#5c5ce0" stroke-width="0.6"/>
<rect x="394.6" y="159.4" width="146.60000000000002" height="113.99999999999997" fill="none" stroke="#333333" stroke-width="1.0"/>
<line x1="394.60" y1="273.4" x2="394.60" y2="275.2" stroke="#333333" stroke-width="0.7"/>
<text x="394.60" y="281.60" font-size="7.0" font-weight="bold" fill="#222" stroke="#222" stroke-width="0.2" text-anchor="middle" textLength="7.52" lengthAdjust="spacingAndGlyphs">4.4</text>
<line x1="405.07" y1="273.4" x2="405.07" y2="274.5" stroke="#333333" stroke-width="0.6"/>
<line x1="415.54" y1="273.4" x2="415.54" y2="275.2" stroke="#333333" stroke-width="0.7"/>
<text x="415.54" y="281.60" font-size="7.0" font-weight="bold" fill="#222" stroke="#222" stroke-width="0.2" text-anchor="middle" textLength="7.52" lengthAdjust="spacingAndGlyphs">4.6</text>
<line x1="426.01" y1="273.4" x2="426.01" y2="274.5" stroke="#333333" stroke-width="0.6"/>
<line x1="436.49" y1="273.4" x2="436.49" y2="275.2" stroke="#333333" stroke-width="0.7"/>
<text x="436.49" y="281.60" font-size="7.0" font-weight="bold" fill="#222" stroke="#222" stroke-width="0.2" text-anchor="middle" textLength="7.52" lengthAdjust="spacingAndGlyphs">4.8</text>
<line x1="446.96" y1="273.4" x2="446.96" y2="274.5" stroke="#333333" stroke-width="0.6"/>
<line x1="457.43" y1="273.4" x2="457.43" y2="275.2" stroke="#333333" stroke-width="0.7"/>
<text x="457.43" y="281.60" font-size="7.0" font-weight="bold" fill="#222" stroke="#222" stroke-width="0.2" text-anchor="middle" textLength="7.52" lengthAdjust="spacingAndGlyphs">5.0</text>
<line x1="467.90" y1="273.4" x2="467.90" y2="274.5" stroke="#333333" stroke-width="0.6"/>
<line x1="478.37" y1="273.4" x2="478.37" y2="275.2" stroke="#333333" stroke-width="0.7"/>
<text x="478.37" y="281.60" font-size="7.0" font-weight="bold" fill="#222" stroke="#222" stroke-width="0.2" text-anchor="middle" textLength="7.52" lengthAdjust="spacingAndGlyphs">5.2</text>
<line x1="488.84" y1="273.4" x2="488.84" y2="274.5" stroke="#333333" stroke-width="0.6"/>
<line x1="499.31" y1="273.4" x2="499.31" y2="275.2" stroke="#333333" stroke-width="0.7"/>
<text x="499.31" y="281.60" font-size="7.0" font-weight="bold" fill="#222" stroke="#222" stroke-width="0.2" text-anchor="middle" textLength="7.52" lengthAdjust="spacingAndGlyphs">5.4</text>
<line x1="509.79" y1="273.4" x2="509.79" y2="274.5" stroke="#333333" stroke-width="0.6"/>
<line x1="520.26" y1="273.4" x2="520.26" y2="275.2" stroke="#333333" stroke-width="0.7"/>
<text x="520.26" y="281.60" font-size="7.0" font-weight="bold" fill="#222" stroke="#222" stroke-width="0.2" text-anchor="middle" textLength="7.52" lengthAdjust="spacingAndGlyphs">5.6</text>
<line x1="530.73" y1="273.4" x2="530.73" y2="274.5" stroke="#333333" stroke-width="0.6"/>
<line x1="541.20" y1="273.4" x2="541.20" y2="275.2" stroke="#333333" stroke-width="0.7"/>
<text x="541.20" y="281.60" font-size="7.0" font-weight="bold" fill="#222" stroke="#222" stroke-width="0.2" text-anchor="middle" textLength="7.52" lengthAdjust="spacingAndGlyphs">5.8</text>
<line x1="392.8" y1="273.40" x2="394.6" y2="273.40" stroke="#333333" stroke-width="0.7"/>
<text x="391.00" y="275.80" font-size="7.0" font-weight="bold" fill="#222" stroke="#222" stroke-width="0.2" text-anchor="end" textLength="7.00" lengthAdjust="spacingAndGlyphs">0.0</text>
<line x1="393.5" y1="265.69" x2="394.6" y2="265.69" stroke="#333333" stroke-width="0.6"/>
<line x1="392.8" y1="257.97" x2="394.6" y2="257.97" stroke="#333333" stroke-width="0.7"/>
<text x="391.00" y="260.37" font-size="7.0" font-weight="bold" fill="#222" stroke="#222" stroke-width="0.2" text-anchor="end" textLength="7.00" lengthAdjust="spacingAndGlyphs">0.5</text>
<line x1="393.5" y1="250.25" x2="394.6" y2="250.25" stroke="#333333" stroke-width="0.6"/>
<line x1="392.8" y1="242.54" x2="394.6" y2="242.54" stroke="#333333" stroke-width="0.7"/>
<text x="391.00" y="244.94" font-size="7.0" font-weight="bold" fill="#222" stroke="#222" stroke-width="0.2" text-anchor="end" textLength="7.00" lengthAdjust="spacingAndGlyphs">1.0</text>
<line x1="393.5" y1="234.82" x2="394.6" y2="234.82" stroke="#333333" stroke-width="0.6"/>
<line x1="392.8" y1="227.11" x2="394.6" y2="227.11" stroke="#333333" stroke-width="0.7"/>
<text x="391.00" y="229.51" font-size="7.0" font-weight="bold" fill="#222" stroke="#222" stroke-width="0.2" text-anchor="end" textLength="7.00" lengthAdjust="spacingAndGlyphs">1.5</text>
<line x1="393.5" y1="219.39" x2="394.6" y2="219.39" stroke="#333333" stroke-width="0.6"/>
<line x1="392.8" y1="211.68" x2="394.6" y2="211.68" stroke="#333333" stroke-width="0.7"/>
<text x="391.00" y="214.08" font-size="7.0" font-weight="bold" fill="#222" stroke="#222" stroke-width="0.2" text-anchor="end" textLength="7.00" lengthAdjust="spacingAndGlyphs">2.0</text>
<line x1="393.5" y1="203.96" x2="394.6" y2="203.96" stroke="#333333" stroke-width="0.6"/>
<line x1="392.8" y1="196.25" x2="394.6" y2="196.25" stroke="#333333" stroke-width="0.7"/>
<text x="391.00" y="198.65" font-size="7.0" font-weight="bold" fill="#222" stroke="#222" stroke-width="0.2" text-anchor="end" textLength="7.00" lengthAdjust="spacingAndGlyphs">2.5</text>
<line x1="393.5" y1="188.53" x2="394.6" y2="188.53" stroke="#333333" stroke-width="0.6"/>
<line x1="392.8" y1="180.82" x2="394.6" y2="180.82" stroke="#333333" stroke-width="0.7"/>
<text x="391.00" y="183.22" font-size="7.0" font-weight="bold" fill="#222" stroke="#222" stroke-width="0.2" text-anchor="end" textLength="7.00" lengthAdjust="spacingAndGlyphs">3.0</text>
<line x1="393.5" y1="173.10" x2="394.6" y2="173.10" stroke="#333333" stroke-width="0.6"/>
<line x1="392.8" y1="165.39" x2="394.6" y2="165.39" stroke="#333333" stroke-width="0.7"/>
<text x="391.00" y="167.79" font-size="7.0" font-weight="bold" fill="#222" stroke="#222" stroke-width="0.2" text-anchor="end" textLength="7.00" lengthAdjust="spacingAndGlyphs">3.5</text>
<text x="468.2" y="293" font-size="8.7" font-weight="bold" text-anchor="middle">hν (eV)</text>
<text x="456.5" y="304.5" font-size="10.4" font-weight="bold" fill="#222" text-anchor="middle">(f)</text>
<text transform="translate(376.5,214.5) rotate(-90)" font-size="8.3" font-weight="bold" text-anchor="middle">[F(R∞) hν]<tspan font-size="4.9" dy="-3.2">1/2</tspan><tspan dy="3.2"> (eV)</tspan><tspan font-size="4.9" dy="-3.2">1/2</tspan></text>
<rect x="500.55" y="244.65" width="2.30" height="2.30" rx="0.3" fill="none" stroke="#f5913c" stroke-width="1.0"/>
<text x="511.8" y="248.00" font-size="6.5" font-weight="bold" fill="#222">PMMA-7</text>
<path d="M501.70 253.38L502.96 255.69L500.44 255.69Z" fill="none" stroke="#2626a6" stroke-width="1.0"/>
<text x="511.8" y="256.90" font-size="6.5" font-weight="bold" fill="#222">PMMA-8</text>
<circle cx="501.70" cy="263.00" r="1.15" fill="none" stroke="#3c9a3c" stroke-width="1.0"/>
<text x="511.8" y="265.20" font-size="6.5" font-weight="bold" fill="#222">PMMA-9</text>
</g>
</svg></body></html>
